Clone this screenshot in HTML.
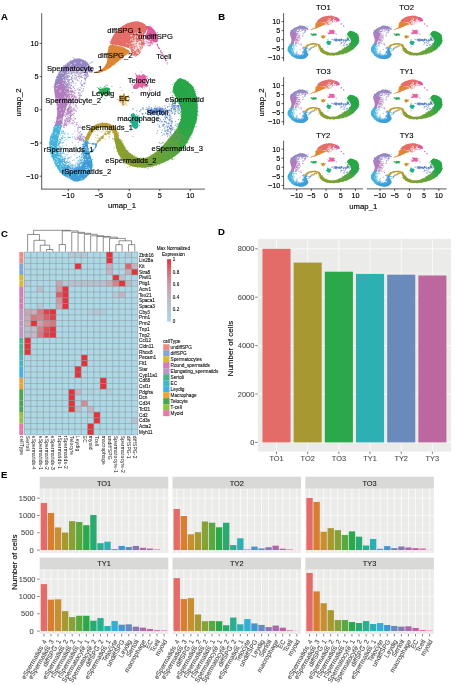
<!DOCTYPE html><html><head><meta charset="utf-8"><title>Figure</title><style>html,body{margin:0;padding:0;background:#fff}svg{display:block}text{stroke-width:.1px}.ab text{stroke:#000;stroke-width:.13px}</style></head><body><svg width="457" height="685" viewBox="0 0 457 685" font-family="Liberation Sans, Arial, Helvetica, sans-serif"><defs><linearGradient id="ag" gradientUnits="userSpaceOnUse" x1="88" y1="0" x2="197" y2="0"><stop offset="0.000" stop-color="#8ea030"/><stop offset="0.239" stop-color="#8ea030"/><stop offset="0.404" stop-color="#88a033"/><stop offset="0.569" stop-color="#76a238"/><stop offset="0.771" stop-color="#5ca63e"/><stop offset="0.899" stop-color="#3ea846"/><stop offset="1.000" stop-color="#2aa84a"/></linearGradient><linearGradient id="agb" gradientUnits="userSpaceOnUse" x1="-19.91" y1="0" x2="32.63" y2="0"><stop offset="0.000" stop-color="#8ea030"/><stop offset="0.239" stop-color="#8ea030"/><stop offset="0.404" stop-color="#88a033"/><stop offset="0.569" stop-color="#76a238"/><stop offset="0.771" stop-color="#5ca63e"/><stop offset="0.899" stop-color="#3ea846"/><stop offset="1.000" stop-color="#2aa84a"/></linearGradient><g id="ump"><path d="M93.0 71.5C93.1 70.5 91.7 68.5 90.5 66.8C89.3 65.1 88.0 62.9 86.0 61.5C84.0 60.1 80.9 58.5 78.3 58.4C75.7 58.3 73.1 59.3 70.6 60.7C68.0 62.1 65.2 64.4 63.0 66.8C60.8 69.2 58.8 72.5 57.5 75.0C56.2 77.5 55.5 79.7 55.0 82.0C54.5 84.3 53.8 88.4 54.3 89.0C54.8 89.6 56.7 87.1 58.0 85.5C59.3 83.9 61.0 81.1 62.0 79.5C63.0 77.9 63.1 77.2 64.0 75.8C64.9 74.4 66.1 72.4 67.5 71.0C68.9 69.6 70.8 68.3 72.5 67.5C74.2 66.7 76.2 66.0 78.0 66.0C79.8 66.0 81.5 66.8 83.0 67.5C84.5 68.2 85.8 69.6 87.0 70.5C88.2 71.4 89.0 72.6 90.0 72.8C91.0 73.0 92.9 72.5 93.0 71.5Z" fill="#9687c3"/><path d="M54.3 88.0C53.8 89.9 54.6 93.3 55.0 96.0C55.4 98.7 56.1 101.3 56.5 104.0C56.9 106.7 57.3 109.3 57.3 112.0C57.3 114.7 56.7 117.5 56.3 120.0C55.9 122.5 54.1 125.8 55.0 127.0C55.9 128.2 60.2 128.5 61.5 127.0C62.8 125.5 62.3 120.8 63.0 118.0C63.7 115.2 64.8 112.5 65.5 110.0C66.2 107.5 67.3 105.3 67.5 103.0C67.7 100.7 67.0 98.5 66.5 96.0C66.0 93.5 65.3 90.5 64.8 88.0C64.3 85.5 63.7 82.6 63.3 81.0C62.9 79.4 63.2 77.9 62.3 78.5C61.4 79.1 59.3 82.9 58.0 84.5C56.7 86.1 54.8 86.1 54.3 88.0Z" fill="#b27dbe"/><path d="M55.2 125.5C53.8 126.4 53.7 129.0 52.8 131.0C51.9 133.0 50.6 135.3 50.0 137.7C49.4 140.1 49.2 142.2 49.4 145.3C49.6 148.4 50.1 152.4 51.3 156.0C52.5 159.6 54.7 163.9 56.5 166.8C58.3 169.7 60.2 173.4 62.0 173.5C63.8 173.6 67.1 169.6 67.0 167.5C66.9 165.4 62.9 163.2 61.5 161.0C60.1 158.8 59.2 156.3 58.5 154.0C57.8 151.7 57.3 149.5 57.3 147.0C57.3 144.5 57.8 141.7 58.3 139.0C58.8 136.3 59.8 133.2 60.3 131.0C60.8 128.8 62.4 126.4 61.5 125.5C60.6 124.6 56.7 124.6 55.2 125.5Z" fill="#45b4dc"/><path d="M62.0 173.5C61.8 175.1 63.5 175.6 66.0 176.9C68.5 178.2 73.5 181.2 76.8 181.4C80.1 181.6 83.6 179.7 86.0 177.8C88.4 175.9 90.3 172.6 91.4 170.0C92.5 167.4 92.6 164.8 92.4 162.5C92.2 160.2 91.2 158.2 90.5 156.0C89.8 153.8 89.0 151.2 88.5 149.0C88.0 146.8 87.9 144.8 87.8 143.0C87.7 141.2 88.4 139.0 88.0 138.5C87.6 138.0 85.9 139.1 85.3 140.0C84.7 140.9 84.8 142.3 84.6 144.0C84.3 145.7 83.8 147.7 83.8 150.0C83.8 152.3 84.6 155.7 84.3 158.0C84.0 160.3 83.0 162.3 82.0 164.0C81.0 165.7 79.7 166.8 78.0 168.0C76.3 169.2 73.8 171.1 72.0 171.0C70.2 170.9 68.7 167.1 67.0 167.5C65.3 167.9 62.2 171.9 62.0 173.5Z" fill="#3f9fd8"/><path d="M84.9 141.0C84.5 140.4 85.3 138.7 86.0 136.9C86.7 135.1 87.8 132.3 89.3 130.3C90.8 128.3 93.0 126.1 95.3 124.8C97.6 123.5 100.6 122.9 103.0 122.7C105.4 122.5 107.5 123.0 109.5 123.8C111.5 124.6 113.6 126.1 115.0 127.6C116.4 129.0 117.1 130.8 117.7 132.5C118.3 134.2 119.1 137.0 118.6 138.0C118.1 139.0 115.5 139.3 114.6 138.5C113.7 137.7 114.2 134.6 113.4 133.0C112.6 131.4 111.4 130.1 110.0 129.2C108.6 128.2 107.0 127.5 105.2 127.3C103.5 127.1 101.4 127.3 99.5 127.9C97.6 128.5 95.3 129.5 93.8 130.8C92.3 132.1 91.5 134.2 90.6 135.8C89.7 137.4 89.2 139.6 88.3 140.5C87.3 141.4 85.3 141.6 84.9 141.0Z" fill="#b79f38"/><path d="M118.6 138.0C120.0 138.8 121.1 140.9 122.5 143.0C123.9 145.1 124.9 148.3 127.1 150.6C129.3 152.9 132.8 155.5 135.5 156.8C138.2 158.1 141.0 158.5 143.5 158.3C146.0 158.1 148.1 157.1 150.5 155.8C152.9 154.5 155.8 152.2 158.0 150.3C160.2 148.4 162.1 146.4 164.0 144.3C165.9 142.2 167.8 139.8 169.5 137.8C171.2 135.8 172.5 134.5 174.0 132.5C175.5 130.5 177.1 128.2 178.3 126.0C179.5 123.8 180.5 121.9 181.0 119.2C181.5 116.5 181.7 112.9 181.3 110.0C180.9 107.1 179.5 104.3 178.5 102.0C177.5 99.7 176.4 98.0 175.5 96.0C174.6 94.0 173.2 91.7 172.9 89.9C172.7 88.1 173.4 86.5 174.0 85.0C174.6 83.5 175.5 82.1 176.5 81.0C177.5 79.9 178.2 78.5 179.8 78.4C181.4 78.4 183.9 79.4 185.9 80.7C187.9 82.0 190.4 83.6 192.1 86.0C193.8 88.4 195.0 91.9 195.9 95.2C196.8 98.5 197.3 102.1 197.4 105.9C197.5 109.7 197.2 114.7 196.7 118.2C196.2 121.7 195.2 124.3 194.3 127.0C193.4 129.7 193.0 131.2 191.3 134.5C189.7 137.8 187.1 143.2 184.4 146.8C181.7 150.4 178.8 153.3 175.2 156.0C171.6 158.7 167.1 161.0 163.0 162.8C158.9 164.6 154.5 165.9 150.7 166.7C146.9 167.5 143.6 167.8 140.1 167.6C136.6 167.3 132.6 166.8 129.4 165.2C126.2 163.6 123.2 161.0 121.0 158.3C118.8 155.6 117.3 151.5 116.4 149.1C115.5 146.7 115.8 145.8 115.4 144.0C115.0 142.2 113.7 139.5 114.2 138.5C114.7 137.5 117.2 137.2 118.6 138.0Z" fill="url(#ag)"/><path d="M178.3 126.0C178.3 123.8 180.5 121.9 181.0 119.2C181.5 116.5 181.7 112.9 181.3 110.0C180.9 107.1 179.5 104.3 178.5 102.0C177.5 99.7 176.4 98.0 175.5 96.0C174.6 94.0 173.2 91.7 172.9 89.9C172.7 88.1 173.4 86.5 174.0 85.0C174.6 83.5 175.5 82.1 176.5 81.0C177.5 79.9 178.2 78.5 179.8 78.4C181.4 78.4 183.9 79.4 185.9 80.7C187.9 82.0 190.4 83.6 192.1 86.0C193.8 88.4 195.0 91.9 195.9 95.2C196.8 98.5 197.3 102.1 197.4 105.9C197.5 109.7 197.2 114.7 196.7 118.2C196.2 121.7 195.2 124.4 194.3 127.0C193.4 129.6 192.8 132.4 191.5 134.0C190.2 135.6 188.2 136.8 186.5 136.5C184.8 136.2 182.4 134.2 181.0 132.5C179.6 130.8 178.3 128.2 178.3 126.0Z" fill="#2aa84a"/><path d="M110.7 43.8C109.7 42.3 111.5 38.7 112.8 36.3C114.1 33.9 116.1 31.3 118.5 29.2C120.9 27.1 123.9 24.8 127.0 23.5C130.1 22.2 134.0 21.3 137.0 21.4C140.0 21.5 143.1 23.0 144.8 24.2C146.5 25.4 147.4 26.5 147.2 28.5C147.0 30.5 144.0 34.0 143.5 36.3C143.0 38.5 144.4 40.1 144.3 42.0C144.2 43.9 143.4 45.8 142.7 47.7C141.9 49.6 141.0 51.9 139.8 53.4C138.6 54.9 136.9 56.4 135.6 56.5C134.3 56.6 132.8 55.3 132.0 54.1C131.2 52.9 131.4 50.6 130.6 49.5C129.8 48.4 128.9 48.2 127.0 47.5C125.1 46.8 121.7 46.1 119.0 45.5C116.3 44.9 111.7 45.3 110.7 43.8Z" fill="#e66e68"/><path d="M110.0 45.0C111.5 44.1 114.9 45.4 117.0 45.8C119.1 46.2 121.1 46.7 122.8 47.3C124.5 47.9 125.9 48.6 127.0 49.3C128.1 50.0 129.3 50.7 129.6 51.3C129.8 51.9 129.2 52.3 128.5 53.0C127.8 53.7 126.9 54.2 125.5 55.3C124.1 56.4 121.7 58.3 120.0 59.7C118.3 61.1 117.0 62.3 115.6 63.5C114.1 64.7 112.8 65.8 111.3 66.8C109.8 67.8 108.4 68.7 106.9 69.5C105.4 70.3 104.0 71.1 102.5 71.7C101.0 72.3 99.4 72.7 98.1 72.9C96.8 73.1 95.1 73.1 94.5 72.9C93.9 72.8 93.9 72.3 94.5 72.0C95.1 71.7 96.9 71.5 98.1 71.1C99.2 70.7 100.3 70.2 101.4 69.4C102.5 68.6 103.8 67.5 104.7 66.3C105.6 65.0 106.5 63.5 106.9 61.9C107.4 60.2 107.2 58.2 107.4 56.4C107.6 54.6 107.6 52.8 108.0 50.9C108.4 49.0 108.5 45.9 110.0 45.0Z" fill="#df8736"/><path d="M145.7 27.0C146.1 26.3 148.3 25.6 149.8 26.2C151.3 26.8 153.5 28.7 154.8 30.6C156.1 32.5 157.3 35.9 157.7 37.8C158.1 39.7 158.1 41.6 157.0 42.2C155.9 42.8 152.8 41.5 151.0 41.2C149.2 40.9 147.4 41.4 146.5 40.5C145.6 39.6 145.1 37.7 145.3 36.0C145.5 34.3 147.4 32.0 147.5 30.5C147.6 29.0 145.3 27.7 145.7 27.0Z" fill="#e0589c"/><path d="M135.3 72.8C135.6 72.7 136.8 75.2 137.5 75.5C138.2 75.8 138.9 74.4 139.5 74.5C140.1 74.6 140.4 76.1 141.0 76.0C141.6 75.9 142.2 74.1 143.0 74.0C143.8 73.9 144.9 74.7 145.5 75.5C146.1 76.3 146.5 77.8 146.5 79.0C146.5 80.2 145.2 81.9 145.5 83.0C145.8 84.1 148.4 85.1 148.5 85.8C148.6 86.5 146.8 87.0 146.0 87.0C145.2 87.0 144.1 85.8 143.5 86.0C142.9 86.2 143.1 88.3 142.5 88.5C141.9 88.7 140.9 86.9 140.0 87.0C139.1 87.1 138.1 88.8 137.0 89.0C135.9 89.2 133.8 89.1 133.2 88.5C132.6 87.9 133.0 86.4 133.5 85.5C134.0 84.6 135.4 84.0 136.0 83.0C136.6 82.0 137.0 80.7 137.0 79.5C137.0 78.3 136.3 77.1 136.0 76.0C135.7 74.9 135.1 72.9 135.3 72.8Z" fill="#e264a6"/><path d="M96.5 86.8C96.6 86.5 98.9 88.7 100.0 89.0C101.1 89.3 101.8 88.8 103.0 88.5C104.2 88.2 105.8 87.4 107.0 87.5C108.2 87.6 110.1 88.2 110.3 89.0C110.5 89.8 108.2 91.0 108.0 92.0C107.8 93.0 109.5 94.7 109.0 95.0C108.5 95.3 106.2 93.8 105.0 94.0C103.8 94.2 102.8 96.2 102.0 96.0C101.2 95.8 101.2 93.6 100.5 93.0C99.8 92.4 97.7 92.9 97.5 92.5C97.3 92.1 99.7 91.5 99.5 90.5C99.3 89.5 96.4 87.0 96.5 86.8Z" fill="#26a855"/><path d="M119.5 94.0C119.7 93.7 121.2 96.7 122.0 96.5C122.8 96.3 123.4 93.0 124.0 93.0C124.6 93.0 124.6 96.2 125.5 96.5C126.4 96.8 129.2 94.6 129.4 95.0C129.6 95.4 126.7 97.8 126.5 99.0C126.3 100.2 128.3 101.7 128.0 102.0C127.7 102.3 125.3 100.2 124.5 101.0C123.7 101.8 123.5 106.6 123.0 106.7C122.5 106.8 122.1 102.3 121.5 101.5C120.9 100.7 119.6 102.5 119.5 102.0C119.4 101.5 121.0 99.8 121.0 98.5C121.0 97.2 119.3 94.3 119.5 94.0Z" fill="#c8912c"/><path d="M131.0 114.5C131.4 113.8 133.2 113.3 134.0 113.6C134.8 113.8 135.2 115.4 136.0 116.0C136.8 116.6 138.3 116.3 139.0 117.0C139.7 117.7 140.3 119.1 140.1 120.0C139.9 120.9 138.3 121.5 138.0 122.5C137.7 123.5 138.8 124.9 138.5 126.0C138.2 127.1 136.9 128.8 136.0 129.0C135.1 129.2 133.8 128.3 133.0 127.5C132.2 126.7 132.1 125.1 131.5 124.0C130.9 122.9 129.4 122.0 129.4 121.0C129.4 120.0 131.2 119.1 131.5 118.0C131.8 116.9 130.6 115.2 131.0 114.5Z" fill="#22b08e"/></g><g id="umda" stroke-width=".75" stroke-linecap="square" fill="none"><path d="M84.2 65.4h.01M65.4 66.4h.01M65.4 71.1h.01M77.1 59.1h.01M74.3 67.6h.01M81.3 64.0h.01M86.1 63.9h.01M57.0 76.1h.01M81.5 63.1h.01M71.7 66.3h.01M70.9 60.6h.01M77.2 62.6h.01M75.0 64.0h.01M69.9 65.0h.01M54.4 84.6h.01M89.1 70.4h.01M86.1 63.5h.01M82.0 65.3h.01M62.1 68.7h.01M66.6 66.8h.01M90.9 71.2h.01M67.3 70.4h.01M79.6 64.0h.01M82.3 62.0h.01M63.8 65.5h.01M61.1 76.4h.01M61.1 80.2h.01M76.6 64.0h.01M76.1 59.7h.01M67.0 67.8h.01M59.1 77.8h.01M84.3 69.0h.01M59.9 81.5h.01M89.1 63.9h.01M78.7 61.2h.01M78.8 64.7h.01M68.3 66.3h.01M59.5 78.8h.01M86.0 67.2h.01M57.4 80.1h.01M57.3 82.7h.01M89.6 66.4h.01M78.1 64.0h.01M57.5 80.3h.01M82.9 65.1h.01M64.5 75.6h.01M78.9 64.1h.01M55.3 84.7h.01M90.5 70.5h.01M59.0 81.1h.01M84.5 64.0h.01M83.8 61.6h.01M67.1 68.4h.01M63.4 72.3h.01M61.6 79.4h.01M64.3 73.5h.01M87.1 64.2h.01M62.5 73.8h.01M76.6 59.4h.01M63.1 71.6h.01M84.2 64.4h.01M62.3 74.8h.01M90.6 71.0h.01M84.0 68.2h.01M80.0 65.5h.01M57.1 81.2h.01M54.9 88.3h.01M83.6 60.2h.01M75.2 59.6h.01M78.4 66.2h.01M62.4 71.4h.01M70.6 63.9h.01M65.6 67.2h.01M69.2 66.3h.01M81.4 60.8h.01M87.6 67.9h.01M73.0 65.1h.01M61.7 68.3h.01M56.0 79.8h.01M57.2 78.6h.01M64.7 73.3h.01M64.1 67.1h.01M81.3 63.8h.01M63.2 72.4h.01M73.0 63.0h.01M71.6 63.6h.01M60.7 77.3h.01M86.3 63.4h.01M79.8 59.1h.01M84.3 65.2h.01M55.2 83.3h.01M66.3 74.0h.01M90.0 67.2h.01M81.7 60.5h.01M85.9 61.5h.01M75.2 59.3h.01M54.6 87.8h.01M82.0 64.3h.01M82.5 65.9h.01M71.4 67.8h.01M73.7 65.5h.01M74.0 61.6h.01M57.5 77.9h.01M70.2 63.0h.01M57.5 76.0h.01M75.8 64.6h.01M60.0 75.8h.01M85.4 61.0h.01M69.8 66.7h.01M57.0 84.0h.01M62.3 72.9h.01M62.0 74.7h.01M70.2 63.5h.01M83.6 62.3h.01M86.2 67.4h.01M87.6 62.8h.01M73.3 63.4h.01M58.1 71.9h.01M64.5 70.8h.01M81.5 60.9h.01M90.3 69.4h.01M90.7 70.4h.01M65.6 67.7h.01M77.1 63.1h.01M82.1 60.5h.01M56.2 87.2h.01M71.2 64.7h.01M79.1 62.2h.01M67.9 68.9h.01M58.1 82.9h.01M79.1 61.5h.01M53.2 86.7h.01M69.9 67.1h.01M71.2 63.9h.01M68.0 67.4h.01M75.3 65.3h.01M81.0 65.8h.01M74.3 58.5h.01M68.9 68.9h.01M78.0 59.8h.01M85.8 65.1h.01M60.5 75.2h.01M58.7 84.7h.01M71.1 64.6h.01M90.1 66.4h.01M88.5 71.0h.01M79.9 60.0h.01M59.9 83.0h.01M59.0 75.3h.01M86.5 69.4h.01M73.6 61.5h.01M82.6 67.1h.01M84.1 64.2h.01M61.8 68.9h.01M60.0 73.4h.01M84.8 61.7h.01M82.0 63.4h.01M64.5 67.8h.01M62.2 69.4h.01M66.7 71.6h.01M59.6 83.4h.01M58.4 82.3h.01M88.0 67.8h.01M72.2 61.9h.01M73.4 67.1h.01M61.5 72.9h.01M90.9 70.6h.01M57.7 80.9h.01M84.0 62.0h.01M82.6 61.7h.01M69.2 68.1h.01M73.3 57.7h.01M75.6 60.5h.01M57.7 80.8h.01M85.5 63.8h.01M74.0 66.5h.01M71.0 68.2h.01M89.5 68.4h.01M64.7 73.9h.01M80.0 64.9h.01M56.2 81.5h.01M56.6 80.1h.01M70.4 65.5h.01M58.0 75.5h.01M83.2 66.2h.01M62.8 70.8h.01M56.5 77.7h.01M89.6 70.1h.01M58.5 77.0h.01M73.7 62.1h.01M63.6 75.7h.01M81.6 69.3h.01M82.4 70.7h.01M73.3 70.3h.01M77.3 66.7h.01M80.0 70.2h.01M87.3 72.2h.01M64.3 73.5h.01M68.0 68.8h.01M70.0 68.3h.01M63.8 73.8h.01M77.2 72.0h.01M72.5 81.0h.01M72.4 81.2h.01M78.8 80.9h.01M86.6 73.3h.01M70.7 71.3h.01M79.4 89.5h.01M72.4 67.8h.01M66.5 78.7h.01M63.2 77.6h.01M69.0 83.2h.01M72.6 68.2h.01M67.9 77.0h.01M76.4 68.2h.01M62.3 80.1h.01M78.9 76.4h.01M81.5 66.8h.01M79.1 75.6h.01M83.2 66.7h.01M66.0 72.6h.01M88.9 71.6h.01M67.3 76.0h.01M78.7 71.9h.01M73.9 70.7h.01M68.6 81.0h.01M81.6 85.0h.01M74.2 79.0h.01M76.1 77.1h.01M66.3 75.1h.01M63.3 76.0h.01M82.4 66.8h.01M79.4 70.5h.01M79.7 65.6h.01M79.8 65.5h.01M63.4 77.9h.01M67.6 84.3h.01M74.4 68.8h.01M85.2 83.1h.01M85.7 70.3h.01M80.5 90.1h.01M86.9 76.3h.01M71.3 88.3h.01M76.5 67.3h.01M71.5 67.7h.01M84.9 69.5h.01M74.9 74.4h.01M68.9 82.5h.01M70.6 86.0h.01M84.7 69.7h.01M72.8 67.3h.01M80.3 68.3h.01M81.4 81.3h.01M70.9 71.7h.01M80.5 68.3h.01M84.8 72.3h.01M70.0 86.8h.01M87.0 76.5h.01M84.8 69.7h.01M84.0 86.5h.01M63.2 78.1h.01M82.1 72.5h.01M73.3 81.2h.01M83.1 69.4h.01M82.9 65.7h.01M74.0 67.3h.01M75.3 68.1h.01M69.2 72.1h.01M83.2 66.0h.01M63.5 77.8h.01M67.7 80.2h.01M77.2 66.2h.01M78.4 67.2h.01M67.5 84.0h.01M72.8 78.3h.01M84.0 70.1h.01M73.4 83.2h.01M78.8 90.4h.01M74.4 71.1h.01M81.4 80.5h.01M74.6 69.4h.01M82.3 71.1h.01M68.3 71.0h.01M74.5 88.7h.01M69.7 69.7h.01M64.8 77.9h.01M68.8 84.1h.01M76.6 65.3h.01M87.8 74.9h.01M62.7 77.0h.01M75.8 72.2h.01M83.4 83.3h.01M77.9 70.0h.01M78.1 67.7h.01M70.5 69.3h.01M74.6 74.1h.01M83.0 72.7h.01M82.2 77.5h.01M82.3 67.4h.01M74.8 68.1h.01M78.8 67.0h.01M81.8 66.1h.01M73.0 82.1h.01M71.1 84.9h.01M77.1 69.6h.01M66.6 73.3h.01M81.3 73.0h.01M83.3 90.7h.01M72.4 67.8h.01M82.3 91.4h.01M62.4 79.9h.01M88.5 75.9h.01M85.5 72.1h.01M67.9 73.6h.01M84.5 77.1h.01M65.0 79.0h.01M65.2 74.7h.01M64.7 75.2h.01M79.0 67.3h.01M80.3 83.7h.01M86.6 72.3h.01M70.7 76.3h.01M82.7 67.3h.01M62.7 78.1h.01M68.3 73.7h.01M71.8 72.4h.01M80.1 69.6h.01M66.6 79.5h.01M67.6 73.3h.01M64.4 80.0h.01M65.1 76.1h.01M78.1 88.3h.01M64.8 77.5h.01M85.1 69.5h.01M69.5 80.2h.01M78.9 66.5h.01M84.3 71.9h.01M68.8 73.3h.01M64.0 81.0h.01M69.5 83.7h.01M65.4 79.4h.01M76.6 67.8h.01M63.4 77.5h.01M67.2 78.5h.01M80.7 76.5h.01M80.4 70.4h.01M67.4 81.4h.01M76.1 69.6h.01M73.2 87.1h.01M67.1 75.6h.01M78.9 73.8h.01M80.4 69.8h.01M67.1 77.3h.01M81.5 84.9h.01M71.7 82.6h.01M66.1 72.2h.01M81.8 73.9h.01M71.7 73.1h.01M67.7 77.0h.01M77.9 65.8h.01M87.2 74.5h.01M79.1 67.6h.01M77.2 72.7h.01M76.5 70.7h.01M71.9 74.1h.01M81.8 77.1h.01M81.1 67.2h.01M62.5 77.8h.01M71.4 73.5h.01M68.0 70.6h.01M66.4 77.3h.01M71.6 78.0h.01M80.2 68.5h.01M82.0 67.0h.01M65.0 71.3h.01M78.4 76.8h.01M63.7 75.2h.01M72.2 69.1h.01M87.2 74.7h.01M65.1 81.4h.01M78.4 70.0h.01M71.7 79.9h.01M64.6 76.9h.01M63.8 77.7h.01M83.8 74.9h.01M81.5 85.6h.01M77.0 68.5h.01M86.0 71.1h.01M69.3 76.1h.01M74.6 66.4h.01M80.3 67.1h.01M79.8 69.8h.01M75.6 69.7h.01M77.5 67.5h.01M77.9 66.1h.01M85.7 75.6h.01M72.7 69.8h.01M72.8 81.2h.01M72.3 76.8h.01M78.0 66.9h.01M78.0 68.3h.01M63.8 79.0h.01M76.5 77.2h.01M66.7 71.4h.01M86.1 78.3h.01M83.8 69.1h.01M73.4 67.8h.01M65.2 73.1h.01M83.5 88.5h.01M84.4 69.1h.01M83.5 72.1h.01M68.4 70.4h.01M75.8 83.4h.01M68.7 85.6h.01M65.0 74.6h.01M86.8 72.6h.01M87.1 72.7h.01M64.7 78.6h.01M73.7 71.9h.01M82.8 67.5h.01M76.1 75.5h.01M78.4 66.9h.01M86.2 75.5h.01M81.3 95.7h.01M81.7 88.4h.01M71.7 78.3h.01M87.5 72.9h.01M85.2 77.0h.01M63.3 77.9h.01M79.9 69.4h.01M69.5 69.6h.01M80.3 68.4h.01M84.6 83.9h.01M83.3 75.5h.01M68.5 82.1h.01M84.6 68.0h.01M76.0 66.0h.01M82.1 68.9h.01M64.6 73.2h.01M68.7 81.5h.01M70.9 72.2h.01M86.0 74.7h.01M69.2 76.0h.01M64.2 78.8h.01M84.7 79.2h.01M78.2 76.6h.01M76.4 72.9h.01M84.1 69.7h.01M77.4 80.5h.01M65.4 77.3h.01M78.6 66.4h.01M82.5 84.4h.01M67.6 75.7h.01M76.6 67.5h.01M82.3 70.2h.01M79.1 68.7h.01M73.4 72.2h.01M66.6 82.3h.01M76.3 78.3h.01M81.0 70.5h.01M66.0 82.1h.01M71.2 85.4h.01M80.0 68.1h.01M82.5 69.7h.01M87.2 72.0h.01M64.6 81.8h.01M63.8 75.8h.01M68.5 72.4h.01M82.6 72.0h.01M69.2 80.2h.01M81.3 92.2h.01M86.4 77.3h.01M68.1 73.3h.01M71.3 85.3h.01M70.8 71.4h.01M82.6 69.4h.01M63.9 78.7h.01M65.6 73.9h.01M77.3 69.8h.01M69.7 73.6h.01M82.0 85.6h.01M84.8 82.4h.01M70.5 71.4h.01M76.4 71.5h.01M86.9 73.1h.01M78.3 69.6h.01M82.3 85.8h.01M72.5 71.8h.01M73.4 86.3h.01M83.7 72.4h.01M85.2 74.9h.01M72.3 69.8h.01M74.8 66.4h.01M80.6 67.6h.01M74.3 72.3h.01M77.1 79.5h.01M79.5 76.6h.01M80.8 66.4h.01M70.0 79.4h.01M64.1 79.3h.01M84.4 68.4h.01M73.3 67.3h.01M78.8 92.6h.01M71.9 69.7h.01M65.0 73.9h.01M85.9 70.0h.01M73.9 70.5h.01M84.4 78.5h.01M85.5 78.6h.01M71.9 69.3h.01M87.9 76.1h.01M74.3 69.1h.01M87.1 71.1h.01M76.7 66.4h.01M75.3 79.0h.01M84.7 83.8h.01M66.1 77.5h.01M65.1 77.3h.01M74.8 77.7h.01M79.4 78.4h.01M72.3 67.4h.01M66.8 84.2h.01M86.9 77.4h.01M80.5 66.2h.01M84.5 69.7h.01M75.5 75.5h.01M67.6 83.7h.01M75.0 90.6h.01M80.9 82.9h.01M68.4 79.2h.01M75.0 66.8h.01M78.0 74.0h.01M78.0 70.9h.01M75.6 67.9h.01M67.1 76.3h.01M78.9 66.2h.01M74.0 76.2h.01M71.8 79.6h.01M79.3 66.1h.01M82.9 69.3h.01M82.5 68.0h.01M80.1 87.4h.01M85.4 79.3h.01M79.0 92.7h.01M80.1 70.1h.01M68.6 72.0h.01M79.3 95.2h.01M63.2 76.6h.01M68.9 79.9h.01M86.7 70.6h.01M80.6 71.8h.01M85.7 71.5h.01M82.9 67.9h.01M78.5 68.8h.01M75.5 68.6h.01M62.9 78.4h.01M84.0 71.0h.01M68.3 70.9h.01M86.5 72.5h.01M76.2 70.1h.01M85.1 70.4h.01M67.3 70.4h.01M81.6 71.0h.01M84.5 72.4h.01M65.0 82.5h.01M85.3 70.1h.01M72.3 73.1h.01M87.5 73.6h.01M67.7 70.6h.01M80.4 66.6h.01M74.0 68.0h.01M74.1 70.0h.01M73.3 87.3h.01M69.8 84.8h.01M70.8 79.5h.01M75.2 85.3h.01M70.4 69.4h.01M80.6 77.1h.01M83.1 68.3h.01M72.6 75.4h.01M75.7 66.3h.01M77.4 89.7h.01M71.5 77.6h.01M80.4 73.8h.01M79.3 90.1h.01M78.9 93.3h.01M77.0 72.3h.01M64.7 78.0h.01M79.2 67.2h.01M72.2 70.3h.01M66.9 76.4h.01M81.2 72.6h.01M85.9 69.9h.01M81.9 68.9h.01M68.6 84.1h.01M64.3 75.8h.01M84.7 69.1h.01M66.9 74.9h.01M77.3 72.7h.01M65.2 80.4h.01M66.6 70.2h.01M80.2 94.0h.01M85.2 72.7h.01M68.4 77.6h.01M66.2 72.5h.01M71.2 82.9h.01M78.2 74.8h.01M65.8 73.4h.01M85.6 80.4h.01M80.9 95.3h.01M63.7 76.7h.01M65.5 81.2h.01M80.0 73.7h.01M67.6 79.5h.01M85.1 75.1h.01M68.1 84.7h.01M83.2 69.9h.01M76.8 70.2h.01M85.5 72.9h.01M71.0 68.3h.01M73.9 72.5h.01M79.3 72.4h.01M79.9 74.0h.01M77.0 67.0h.01M84.5 74.5h.01M78.4 66.0h.01M75.1 90.7h.01M81.4 77.0h.01M62.8 78.0h.01M81.0 68.8h.01M79.5 65.5h.01M77.4 66.2h.01M78.2 65.3h.01M77.6 70.8h.01M83.5 66.7h.01M72.0 88.9h.01M85.7 75.6h.01M71.3 68.2h.01M80.9 69.9h.01M70.0 82.4h.01M74.0 69.1h.01M79.0 67.0h.01M64.5 78.8h.01M80.9 75.7h.01M85.7 69.6h.01M76.0 73.1h.01M67.5 71.0h.01M69.0 76.2h.01M80.7 73.4h.01M85.2 74.4h.01M65.3 76.4h.01M69.8 71.0h.01M77.1 72.0h.01M72.8 68.4h.01M80.1 95.4h.01M65.2 74.1h.01M85.4 71.9h.01M64.5 74.5h.01" stroke="#9687c3"/><path d="M66.4 101.0h.01M54.6 122.4h.01M58.0 87.7h.01M61.5 106.6h.01M65.2 94.9h.01M62.8 85.3h.01M60.7 82.8h.01M57.9 94.9h.01M63.5 113.3h.01M64.4 110.7h.01M60.8 114.1h.01M55.4 88.8h.01M64.0 87.6h.01M62.3 91.0h.01M59.4 120.7h.01M64.0 100.7h.01M56.5 117.9h.01M63.4 100.2h.01M67.3 104.7h.01M62.8 80.8h.01M61.4 123.6h.01M60.4 119.3h.01M58.7 94.3h.01M57.4 88.2h.01M60.8 87.4h.01M58.4 87.4h.01M57.4 112.1h.01M62.8 90.3h.01M62.9 93.9h.01M57.1 100.8h.01M65.5 105.4h.01M65.5 109.6h.01M61.4 103.8h.01M62.5 102.1h.01M63.7 86.9h.01M58.1 122.1h.01M60.7 118.9h.01M63.0 92.8h.01M65.6 102.2h.01M56.9 109.4h.01M59.3 100.2h.01M62.0 125.9h.01M59.3 99.3h.01M57.7 91.9h.01M61.5 99.8h.01M63.1 109.3h.01M66.1 96.9h.01M58.7 100.7h.01M63.0 82.6h.01M62.5 83.1h.01M57.6 86.4h.01M61.1 99.8h.01M60.9 115.7h.01M63.6 106.9h.01M61.7 107.2h.01M60.5 119.0h.01M57.4 108.4h.01M55.4 88.5h.01M58.9 90.1h.01M65.8 94.5h.01M60.1 118.9h.01M61.9 81.1h.01M56.0 90.6h.01M62.6 102.6h.01M57.8 105.5h.01M63.8 81.9h.01M57.5 93.9h.01M58.6 89.0h.01M63.8 89.2h.01M60.1 103.6h.01M60.7 81.4h.01M59.4 97.4h.01M59.7 97.3h.01M60.0 114.4h.01M58.8 85.9h.01M60.7 127.1h.01M63.2 108.3h.01M60.4 108.5h.01M59.2 97.2h.01M57.6 115.8h.01M60.3 87.7h.01M60.6 98.9h.01M57.7 97.0h.01M61.1 81.0h.01M61.1 113.2h.01M60.3 88.4h.01M58.9 96.7h.01M67.5 104.7h.01M61.0 118.3h.01M60.0 85.5h.01M60.4 82.1h.01M63.0 110.5h.01M59.9 87.2h.01M57.8 95.1h.01M61.1 96.2h.01M64.2 114.6h.01M60.0 92.4h.01M63.3 101.4h.01M57.1 122.5h.01M60.6 111.9h.01M62.8 81.9h.01M61.8 90.0h.01M60.4 98.2h.01M62.2 86.2h.01M59.5 121.6h.01M54.7 125.7h.01M65.6 83.9h.01M66.0 91.9h.01M68.2 120.1h.01M75.1 93.3h.01M72.0 96.2h.01M74.1 100.2h.01M68.8 87.4h.01M68.6 91.6h.01M64.9 91.8h.01M68.0 124.0h.01M70.1 87.5h.01M79.6 97.7h.01M70.9 102.8h.01M66.2 114.3h.01M70.8 100.1h.01M69.2 96.2h.01M72.2 95.8h.01M76.3 103.7h.01M69.5 98.6h.01M63.1 88.0h.01M65.1 88.7h.01M72.0 111.1h.01M72.8 111.7h.01M74.5 113.3h.01M64.5 123.2h.01M66.8 94.2h.01M73.5 97.2h.01M63.7 91.1h.01M74.4 108.3h.01M74.4 93.2h.01M63.7 92.3h.01M67.5 109.7h.01M67.8 110.8h.01M78.4 99.3h.01M72.0 108.7h.01M66.6 122.5h.01M74.1 110.7h.01M64.8 90.4h.01M70.6 94.3h.01M67.9 114.6h.01M66.5 86.2h.01M73.0 102.6h.01M66.9 88.9h.01M70.0 102.2h.01M69.4 96.1h.01M75.0 99.1h.01M65.3 93.7h.01M73.2 103.7h.01M70.1 120.6h.01M65.4 92.6h.01M70.8 110.6h.01M71.9 109.5h.01M72.2 100.3h.01M67.8 118.1h.01M74.7 92.9h.01M68.5 92.4h.01M68.1 91.9h.01M70.3 103.0h.01M67.2 113.2h.01M64.5 86.1h.01M62.7 80.8h.01M75.8 96.4h.01M66.2 85.1h.01M69.6 94.7h.01M67.3 92.4h.01M66.6 124.8h.01M65.1 115.7h.01M73.7 102.6h.01M72.5 114.8h.01M65.9 93.7h.01M71.3 115.6h.01M66.6 87.8h.01M73.6 115.7h.01M69.7 105.3h.01M68.9 111.5h.01M70.6 108.2h.01M67.4 87.6h.01M72.0 91.4h.01M64.8 86.7h.01M69.7 117.8h.01M62.2 81.3h.01M69.9 108.3h.01M68.5 94.8h.01M64.3 124.2h.01M77.5 100.9h.01M71.9 90.7h.01M65.6 112.7h.01M72.5 96.4h.01M69.0 108.1h.01M72.1 94.8h.01M67.9 86.6h.01M69.9 100.3h.01M66.9 119.9h.01M70.6 92.3h.01M67.9 109.6h.01M66.7 90.6h.01M78.0 99.7h.01M64.2 124.3h.01M68.6 87.9h.01M61.6 83.7h.01M69.1 102.4h.01M69.6 98.2h.01M67.1 120.4h.01M68.2 110.1h.01M73.1 99.4h.01M72.3 92.3h.01M76.1 102.5h.01M65.2 93.5h.01M63.4 85.1h.01M71.5 107.4h.01M68.9 94.8h.01M62.7 84.1h.01M70.8 101.4h.01M66.7 113.7h.01M66.1 90.6h.01M70.9 95.9h.01M71.6 93.2h.01M75.8 100.5h.01M67.5 90.8h.01M69.4 115.5h.01M73.4 94.7h.01M64.5 89.1h.01M68.9 106.2h.01M65.4 84.3h.01M69.3 102.1h.01M65.9 94.1h.01M75.6 100.0h.01M70.0 115.2h.01M71.0 115.2h.01M70.5 100.0h.01M67.2 89.9h.01M70.5 106.8h.01M67.3 85.2h.01M65.7 90.6h.01M71.6 91.3h.01M67.4 111.8h.01M69.1 87.8h.01M64.0 86.1h.01M66.5 125.9h.01M64.7 86.2h.01M70.7 117.9h.01M66.1 87.3h.01M67.7 85.6h.01M68.9 107.9h.01M61.7 81.8h.01M70.7 100.1h.01M68.3 112.7h.01M68.2 121.6h.01M71.5 97.7h.01M70.1 90.7h.01M63.8 125.4h.01M65.1 120.2h.01M71.5 111.8h.01M74.3 96.9h.01M70.1 113.2h.01M73.5 92.2h.01M63.5 84.3h.01M76.3 107.0h.01M64.2 90.0h.01M67.7 95.7h.01M64.4 91.0h.01M66.7 96.0h.01M66.9 125.3h.01M75.3 104.7h.01M66.5 118.3h.01M72.0 109.9h.01M67.2 94.6h.01M71.2 94.5h.01M69.0 106.4h.01M68.8 102.5h.01M70.8 113.5h.01M66.2 83.9h.01M67.9 116.2h.01M71.3 100.5h.01M71.9 110.9h.01M69.9 121.1h.01M70.8 116.3h.01M66.1 91.8h.01M70.9 101.9h.01M67.7 91.8h.01M69.3 93.4h.01M71.9 96.3h.01M69.0 96.0h.01M65.8 123.4h.01M65.9 87.0h.01M70.6 112.1h.01M69.6 120.9h.01M63.6 126.8h.01M65.5 93.8h.01M67.7 91.0h.01M73.1 104.9h.01M69.2 93.6h.01M70.8 110.9h.01M70.7 91.4h.01M68.9 94.7h.01M71.0 115.2h.01M66.1 91.7h.01M70.8 115.4h.01M65.5 121.5h.01M77.5 108.2h.01M62.2 85.3h.01M68.9 98.8h.01M70.3 88.7h.01M64.6 89.0h.01M63.6 84.3h.01M67.3 86.4h.01M63.2 86.4h.01M65.1 83.0h.01M64.2 82.8h.01M73.3 109.1h.01M73.6 97.5h.01M65.3 92.4h.01M64.0 86.0h.01M63.5 86.9h.01M72.5 90.8h.01M68.6 101.2h.01M73.7 102.9h.01M62.9 88.5h.01M65.5 96.6h.01M73.5 108.0h.01M67.6 96.2h.01M74.8 109.7h.01M69.2 91.9h.01M68.0 97.6h.01M66.0 123.4h.01M65.1 124.7h.01M68.8 88.8h.01M76.1 110.3h.01M73.5 113.2h.01M65.0 92.5h.01M68.0 89.8h.01M67.6 96.1h.01M69.9 96.1h.01M70.3 116.8h.01M67.8 96.0h.01M68.2 111.6h.01M64.7 88.7h.01M63.3 88.1h.01M66.1 121.0h.01M76.4 98.8h.01M73.1 95.9h.01M63.6 89.6h.01M67.9 103.3h.01M65.7 114.2h.01M67.8 94.5h.01M70.3 108.1h.01M66.5 124.2h.01M76.1 97.0h.01M71.5 100.3h.01M73.6 110.1h.01M73.9 102.5h.01M68.1 92.6h.01M64.5 82.4h.01M66.2 84.2h.01M67.2 90.2h.01M75.4 97.2h.01M66.9 93.5h.01M67.8 97.5h.01M65.4 90.5h.01M68.5 94.7h.01M70.4 91.7h.01M72.5 96.2h.01M77.0 100.0h.01M66.8 118.7h.01M64.8 86.8h.01M65.4 86.9h.01M64.5 89.3h.01M68.3 121.7h.01M70.2 118.9h.01M66.0 87.5h.01M67.8 112.0h.01M63.3 82.6h.01M66.9 89.0h.01M63.6 82.5h.01M69.8 112.8h.01M70.9 109.6h.01M67.6 109.5h.01M63.4 85.4h.01M69.0 100.0h.01M67.7 109.6h.01M68.4 90.7h.01M67.7 118.6h.01M70.5 88.1h.01M71.8 93.1h.01M63.3 85.7h.01M71.0 94.5h.01M68.2 99.1h.01M68.7 97.0h.01M66.6 85.7h.01M66.5 115.1h.01M63.5 85.9h.01M64.1 90.1h.01M66.1 87.0h.01M65.0 115.7h.01M64.8 92.7h.01M66.2 94.2h.01M72.0 95.0h.01M66.6 91.5h.01M67.9 89.8h.01M68.0 116.8h.01M65.9 95.3h.01M70.1 92.0h.01M70.3 108.5h.01M64.0 90.1h.01M63.7 83.9h.01M65.7 89.4h.01M65.3 91.8h.01M74.6 97.2h.01M64.5 85.9h.01M65.4 89.2h.01M69.4 106.9h.01M67.8 111.2h.01M68.1 109.4h.01M70.0 102.5h.01M63.0 91.3h.01M62.7 85.1h.01M69.9 104.3h.01M70.0 99.3h.01M65.6 91.9h.01M62.8 88.6h.01M62.5 85.5h.01M64.4 89.9h.01M74.1 92.9h.01M71.6 91.9h.01M70.6 104.4h.01M64.1 93.2h.01M70.6 118.6h.01M64.7 86.9h.01M70.6 98.0h.01M66.9 96.6h.01M63.6 83.3h.01M64.2 85.5h.01M65.0 120.1h.01M63.3 87.9h.01M70.1 112.5h.01M68.5 90.7h.01M69.9 106.4h.01M67.3 119.3h.01M64.5 120.6h.01M78.2 98.0h.01M68.5 117.3h.01M70.8 118.9h.01M66.9 94.9h.01M62.3 81.9h.01M71.5 88.8h.01M71.9 96.9h.01M68.5 119.0h.01M67.2 85.4h.01M75.7 97.8h.01M68.8 121.9h.01M70.9 91.1h.01M65.1 91.5h.01M64.9 86.9h.01M67.8 100.0h.01M66.2 94.9h.01M68.2 97.7h.01M65.1 90.6h.01M72.6 91.7h.01M67.8 89.3h.01M65.7 124.3h.01M66.2 120.8h.01M69.0 94.0h.01M63.1 89.6h.01M63.6 82.1h.01M65.2 95.8h.01M67.6 111.4h.01M70.3 88.0h.01M68.4 111.0h.01M67.1 114.6h.01M72.9 91.2h.01M71.0 119.2h.01M68.5 110.0h.01M64.9 122.1h.01M69.1 100.7h.01M78.7 95.2h.01M71.8 98.1h.01M75.0 110.5h.01M80.1 97.2h.01M66.2 96.2h.01M70.0 98.9h.01M71.1 101.1h.01M66.6 118.5h.01M68.5 90.3h.01M70.7 103.5h.01M75.4 105.8h.01M63.7 127.7h.01M79.9 97.2h.01M66.0 88.8h.01M64.2 82.8h.01M65.8 124.9h.01M70.6 111.6h.01M69.0 122.1h.01M67.2 90.4h.01M62.7 84.3h.01M69.3 108.7h.01M63.7 81.7h.01M67.8 88.0h.01M66.6 90.8h.01M69.2 99.0h.01M64.9 125.6h.01M70.3 110.6h.01M69.1 98.4h.01M64.2 86.3h.01M72.9 114.5h.01M64.9 91.8h.01M64.7 122.5h.01M66.2 98.4h.01M69.2 97.9h.01M66.4 86.3h.01M65.9 87.1h.01M67.0 113.5h.01M69.3 119.8h.01M79.6 98.5h.01M65.2 84.7h.01M69.0 96.7h.01M76.0 105.8h.01M65.4 116.9h.01M66.8 94.6h.01M71.4 110.9h.01M66.0 97.2h.01M65.2 119.4h.01M64.2 89.7h.01M66.0 117.2h.01M68.5 108.3h.01M74.2 102.0h.01M68.5 99.7h.01M71.5 107.0h.01M67.3 91.9h.01M64.4 127.2h.01M67.5 121.3h.01M70.2 100.5h.01M65.2 83.1h.01M72.3 114.3h.01M66.9 101.1h.01M65.4 121.5h.01M72.6 102.7h.01M69.4 107.2h.01M68.6 108.6h.01M65.7 92.4h.01M69.8 105.1h.01M69.9 90.7h.01M66.3 112.1h.01M76.1 99.1h.01M65.4 96.0h.01M69.2 108.9h.01M74.4 95.8h.01M67.8 102.5h.01M74.1 95.2h.01M66.9 91.9h.01M74.8 96.3h.01M65.5 93.5h.01M66.1 89.5h.01M66.6 98.2h.01M70.1 111.6h.01M65.7 94.9h.01M68.2 101.2h.01M79.4 95.9h.01M68.0 95.7h.01M63.9 125.1h.01M66.0 93.7h.01M64.1 89.6h.01M65.3 89.8h.01M69.2 113.9h.01M70.7 90.7h.01M70.0 112.0h.01M68.8 103.8h.01M63.8 84.3h.01M69.4 118.8h.01M64.6 125.5h.01M69.6 111.2h.01M74.0 117.9h.01M69.2 120.7h.01M67.8 99.9h.01M65.5 84.7h.01M65.4 95.7h.01M76.2 111.5h.01M69.7 120.5h.01M71.8 113.6h.01M69.1 113.2h.01M67.9 86.0h.01M65.0 87.7h.01M68.5 109.9h.01M64.9 83.0h.01M75.9 105.9h.01M67.4 121.7h.01M62.5 86.4h.01M68.5 89.4h.01M68.4 111.6h.01M79.6 127.5h.01M72.3 122.5h.01M70.6 112.9h.01M72.6 124.0h.01M79.6 135.5h.01M77.2 124.7h.01M72.9 120.6h.01M76.3 124.8h.01M68.3 113.5h.01M83.5 139.7h.01M68.7 109.8h.01M70.2 112.7h.01M71.2 123.5h.01M69.2 109.7h.01M74.7 122.4h.01M75.4 118.5h.01M78.6 126.0h.01M80.4 131.5h.01M74.0 121.9h.01M84.2 137.1h.01M78.0 128.9h.01M68.2 112.7h.01M70.6 116.8h.01M66.4 110.1h.01M80.0 136.1h.01M82.0 134.6h.01M79.9 132.3h.01M73.4 120.3h.01M67.3 110.1h.01M68.2 114.4h.01M81.9 133.7h.01M77.1 122.6h.01M70.8 114.8h.01M82.9 136.8h.01M77.6 127.5h.01M78.6 127.3h.01M85.2 137.5h.01M68.1 113.0h.01M81.4 134.6h.01M67.4 111.8h.01M78.6 133.1h.01M74.9 119.6h.01M68.8 113.1h.01M76.2 124.7h.01M81.1 135.3h.01M79.3 132.8h.01M80.7 127.4h.01M67.6 108.5h.01M79.9 127.4h.01M80.8 125.9h.01M77.9 130.1h.01M74.7 126.3h.01M77.8 129.2h.01M69.9 117.4h.01M76.7 123.1h.01M83.7 136.4h.01M72.1 118.9h.01M74.7 131.3h.01M73.3 123.7h.01M69.8 123.2h.01M78.9 136.7h.01M82.0 138.3h.01M80.4 136.9h.01M80.7 140.2h.01M84.3 140.5h.01M77.9 137.3h.01M77.9 139.3h.01M75.8 139.1h.01M77.0 137.0h.01M77.8 138.8h.01M81.4 139.1h.01M78.3 138.2h.01M80.1 136.7h.01M79.5 138.5h.01M79.2 139.0h.01M77.7 137.8h.01M80.9 138.6h.01M79.3 138.3h.01M80.8 137.3h.01M81.9 141.0h.01M80.1 138.5h.01M83.1 137.8h.01M80.4 139.6h.01M78.9 137.3h.01M81.4 139.2h.01M80.3 134.0h.01M79.5 139.2h.01M82.5 138.8h.01M80.5 137.0h.01M78.3 138.4h.01M79.5 140.6h.01M74.9 138.2h.01M76.0 139.6h.01M79.6 139.3h.01M80.9 136.3h.01" stroke="#b27dbe"/><path d="M54.1 149.4h.01M52.8 144.1h.01M50.6 140.4h.01M49.8 142.8h.01M56.6 152.1h.01M54.6 137.0h.01M56.2 148.2h.01M53.5 159.4h.01M51.1 140.9h.01M56.6 137.4h.01M57.7 148.3h.01M62.9 171.0h.01M54.1 133.6h.01M60.0 169.9h.01M60.6 170.0h.01M53.7 127.5h.01M51.8 145.7h.01M55.9 133.6h.01M54.0 139.9h.01M55.9 139.9h.01M62.0 165.9h.01M51.5 146.9h.01M58.8 158.1h.01M63.7 164.3h.01M56.8 138.1h.01M54.7 132.1h.01M63.4 165.9h.01M61.2 172.2h.01M59.8 163.9h.01M58.5 133.2h.01M60.6 165.2h.01M51.2 156.6h.01M54.3 145.0h.01M52.1 140.5h.01M51.5 138.6h.01M62.2 169.1h.01M59.7 125.4h.01M55.8 150.5h.01M57.2 154.9h.01M57.4 138.4h.01M56.8 144.6h.01M54.7 152.8h.01M61.1 163.2h.01M55.7 166.2h.01M61.2 171.7h.01M58.4 161.6h.01M49.7 150.1h.01M50.7 139.9h.01M54.4 139.6h.01M57.9 165.2h.01M57.1 130.5h.01M54.5 134.8h.01M54.8 147.7h.01M55.7 141.4h.01M58.1 158.0h.01M56.8 165.1h.01M56.0 141.1h.01M56.6 163.1h.01M57.0 133.3h.01M63.2 167.7h.01M53.4 135.9h.01M57.3 154.1h.01M57.2 160.4h.01M54.1 155.3h.01M57.0 139.8h.01M59.0 158.3h.01M64.9 171.7h.01M54.2 158.1h.01M62.1 169.6h.01M60.0 172.6h.01M51.9 152.9h.01M56.3 129.8h.01M53.2 152.4h.01M56.4 161.0h.01M57.6 167.9h.01M55.8 133.7h.01M54.2 142.4h.01M55.9 134.4h.01M56.7 130.6h.01M50.5 140.9h.01M54.1 132.9h.01M57.3 133.8h.01M56.0 156.4h.01M55.2 145.5h.01M56.6 140.8h.01M53.2 142.7h.01M63.9 166.6h.01M59.4 164.9h.01M53.9 157.6h.01M52.2 154.2h.01M54.3 143.8h.01M55.6 155.9h.01M55.4 128.0h.01M53.4 139.5h.01M51.5 134.6h.01M58.6 159.7h.01M50.2 148.6h.01M50.9 151.0h.01M54.7 137.2h.01M59.3 165.8h.01M54.2 149.6h.01M57.7 167.2h.01M61.7 171.4h.01M51.1 151.7h.01M60.7 124.8h.01M54.5 144.5h.01M55.8 142.7h.01M52.7 139.9h.01M61.6 171.8h.01M60.7 129.5h.01M53.4 129.9h.01M54.4 139.1h.01M53.3 154.7h.01M55.2 141.7h.01M50.2 153.9h.01M62.9 168.8h.01M52.9 138.3h.01M59.3 133.8h.01M51.3 142.2h.01M58.5 169.2h.01M55.5 134.4h.01M55.1 135.1h.01M52.0 143.0h.01M54.3 150.7h.01M65.2 170.2h.01M51.3 153.0h.01M59.4 134.0h.01M55.5 140.7h.01M53.8 140.4h.01M54.6 138.1h.01M51.1 136.9h.01M58.7 164.8h.01M58.4 162.1h.01M52.6 132.9h.01M55.3 131.6h.01M50.4 148.8h.01M57.1 154.3h.01M64.2 81.8h.01M65.1 83.9h.01M66.8 86.4h.01M65.6 87.9h.01M67.8 81.2h.01M63.9 85.4h.01M66.3 90.4h.01M67.7 86.8h.01M91.5 62.4h.01M92.7 61.8h.01M90.5 63.2h.01M68.5 75.6h.01M70.7 74.2h.01M59.9 118.4h.01M61.3 121.1h.01M62.1 123.5h.01M58.8 153.9h.01M62.4 156.6h.01M66.2 145.1h.01M81.9 135.9h.01M58.0 151.3h.01M58.3 144.4h.01M64.9 158.1h.01M62.2 138.2h.01M58.1 141.5h.01M60.0 149.5h.01M62.2 153.2h.01M59.6 147.0h.01M59.8 155.6h.01M64.8 137.6h.01M61.7 131.1h.01M60.7 139.5h.01M59.8 143.2h.01M58.4 151.5h.01M60.2 155.9h.01M58.3 140.7h.01M59.1 155.3h.01M62.9 159.5h.01M60.1 154.6h.01M62.3 143.0h.01M77.5 134.8h.01M68.2 137.0h.01M60.2 151.9h.01M64.1 159.8h.01M61.7 159.9h.01M68.4 152.5h.01M65.4 148.4h.01M60.6 157.2h.01M68.9 137.4h.01M58.7 142.8h.01M59.9 139.7h.01M63.2 159.2h.01M64.6 153.8h.01M61.7 159.7h.01M67.2 154.9h.01M59.3 146.4h.01M69.5 137.4h.01M62.7 161.5h.01M58.2 148.0h.01M62.2 160.2h.01M63.2 131.4h.01M59.7 147.9h.01M63.2 131.8h.01M61.9 133.4h.01M66.2 139.5h.01M62.0 160.1h.01M65.1 156.5h.01M59.7 156.9h.01M62.4 138.5h.01M59.7 155.5h.01M63.6 159.0h.01M60.7 142.9h.01M63.6 142.4h.01M61.9 159.9h.01M61.5 133.2h.01M64.6 158.5h.01M57.1 150.1h.01M63.2 153.6h.01M62.0 140.0h.01M61.5 161.2h.01M59.9 158.2h.01M59.5 151.6h.01M58.0 145.7h.01M62.8 146.0h.01M64.9 158.4h.01M60.1 153.3h.01M59.6 139.3h.01M58.2 149.3h.01M72.4 142.6h.01M63.1 157.0h.01M60.4 154.8h.01M62.1 153.6h.01M60.3 148.8h.01M61.3 161.6h.01M62.4 147.1h.01M60.4 159.3h.01M62.6 142.9h.01M70.4 137.8h.01M60.8 153.3h.01M59.1 143.7h.01M60.7 155.7h.01M61.2 155.9h.01M59.2 139.4h.01M58.8 153.4h.01M60.4 159.0h.01M57.8 148.4h.01M59.9 155.6h.01M58.5 153.1h.01M59.7 142.2h.01M64.4 134.3h.01M61.6 160.0h.01M61.7 161.3h.01M62.2 159.2h.01M61.0 154.9h.01M60.3 153.3h.01M66.1 151.1h.01M63.7 137.9h.01M58.9 153.5h.01M60.6 140.6h.01M60.5 155.8h.01M62.2 152.1h.01M62.8 135.5h.01M57.8 145.4h.01M61.8 131.8h.01M63.0 130.5h.01M62.5 158.8h.01M58.4 145.6h.01M66.1 154.7h.01M72.3 134.0h.01M60.9 149.2h.01M60.2 151.4h.01M65.2 137.7h.01M68.2 134.5h.01M60.9 147.6h.01M61.2 138.1h.01M62.4 159.4h.01M61.2 149.9h.01M59.8 141.3h.01M59.4 150.9h.01M58.6 143.5h.01M60.1 156.0h.01M64.3 158.3h.01M65.1 133.7h.01M61.7 157.6h.01M67.9 133.2h.01M68.2 138.1h.01M77.8 131.7h.01M59.5 143.7h.01M60.5 152.8h.01M59.7 157.8h.01M59.1 155.5h.01M62.6 158.3h.01M61.9 161.4h.01M62.7 136.5h.01M58.7 144.4h.01M62.0 138.2h.01M60.9 156.4h.01M72.5 137.0h.01M57.9 152.7h.01M63.0 161.1h.01M60.6 135.1h.01M63.2 132.0h.01M65.0 132.1h.01M60.2 146.3h.01M61.3 155.3h.01M63.1 133.5h.01M60.8 142.6h.01M64.3 140.7h.01M58.9 144.2h.01M59.7 157.1h.01M68.9 151.4h.01M58.4 149.2h.01M60.2 142.2h.01M63.5 152.4h.01M74.7 137.2h.01M62.3 157.7h.01M59.7 141.4h.01M61.4 138.0h.01M59.4 143.2h.01M62.1 160.7h.01" stroke="#45b4dc"/><path d="M87.8 167.0h.01M87.3 171.8h.01M79.6 170.9h.01M87.0 151.5h.01M65.8 170.5h.01M75.9 174.4h.01M88.5 154.6h.01M77.7 168.6h.01M83.2 174.0h.01M74.0 180.1h.01M85.1 158.1h.01M72.0 173.9h.01M89.0 141.8h.01M86.4 150.3h.01M62.8 173.4h.01M85.9 150.6h.01M67.5 174.1h.01M66.8 169.7h.01M84.0 170.2h.01M84.7 154.3h.01M74.9 178.8h.01M86.1 164.7h.01M70.4 171.0h.01M66.9 171.4h.01M88.4 164.5h.01M84.0 170.0h.01M85.6 153.5h.01M89.6 157.1h.01M86.4 162.9h.01M74.3 181.5h.01M67.4 177.2h.01M90.2 156.8h.01M86.2 171.8h.01M88.4 157.6h.01M83.5 153.6h.01M66.0 175.1h.01M85.0 148.3h.01M87.8 158.6h.01M76.3 177.0h.01M72.4 177.8h.01M67.3 169.9h.01M85.4 150.6h.01M89.5 158.9h.01M89.1 168.9h.01M83.0 173.2h.01M70.2 168.3h.01M82.3 178.5h.01M63.9 170.0h.01M78.4 176.4h.01M75.7 171.5h.01M86.3 162.7h.01M84.2 174.6h.01M78.4 179.1h.01M85.1 157.1h.01M68.5 175.0h.01M88.4 171.0h.01M79.3 177.8h.01M69.0 172.6h.01M86.6 159.4h.01M83.7 164.6h.01M74.0 173.2h.01M77.3 169.8h.01M87.4 164.5h.01M85.7 166.7h.01M76.1 175.2h.01M89.0 161.6h.01M88.1 173.0h.01M89.5 173.8h.01M89.6 170.1h.01M89.0 158.3h.01M88.2 149.3h.01M92.6 165.2h.01M89.2 164.1h.01M66.1 175.1h.01M76.3 176.3h.01M81.7 173.6h.01M70.7 171.8h.01M82.7 166.8h.01M88.3 150.6h.01M62.3 173.4h.01M86.1 155.9h.01M80.3 176.8h.01M87.7 158.9h.01M86.5 172.6h.01M81.3 173.3h.01M76.7 171.1h.01M86.5 140.6h.01M87.1 141.7h.01M87.9 139.6h.01M68.9 174.4h.01M72.9 172.7h.01M73.0 180.4h.01M87.5 167.6h.01M69.2 170.8h.01M90.3 158.7h.01M82.6 177.9h.01M71.7 178.1h.01M81.0 174.0h.01M87.7 170.2h.01M64.0 171.9h.01M83.2 175.8h.01M84.5 160.4h.01M89.7 164.4h.01M84.6 169.1h.01M70.9 174.7h.01M76.5 174.5h.01M80.1 170.9h.01M72.6 176.7h.01M90.5 169.7h.01M90.8 164.3h.01M80.1 174.4h.01M83.0 169.7h.01M66.0 170.0h.01M89.1 165.6h.01M87.8 163.2h.01M72.6 172.7h.01M68.1 172.8h.01M86.7 140.8h.01M78.9 168.3h.01M76.1 179.3h.01M83.6 147.7h.01M88.7 167.0h.01M87.8 171.2h.01M78.5 178.7h.01M83.0 179.4h.01M87.1 165.4h.01M82.9 172.5h.01M85.6 175.3h.01M70.7 177.1h.01M90.1 157.6h.01M92.7 167.6h.01M92.2 165.6h.01M78.4 170.9h.01M92.4 159.7h.01M87.4 161.4h.01M87.5 140.9h.01M66.5 173.2h.01M76.5 175.2h.01M72.1 172.8h.01M84.2 174.2h.01M91.4 167.5h.01M91.4 163.1h.01M78.5 174.6h.01M87.6 172.4h.01M87.5 141.1h.01M89.4 159.0h.01M88.5 151.7h.01M85.4 144.4h.01M72.3 171.9h.01M65.3 171.3h.01M85.7 175.3h.01M88.3 162.2h.01M89.1 171.8h.01M73.9 172.5h.01M75.1 176.3h.01M80.3 179.2h.01M90.8 162.4h.01M86.9 161.2h.01M89.3 163.8h.01M85.0 165.4h.01M87.2 142.7h.01M84.5 165.5h.01M86.6 162.1h.01M81.2 169.9h.01M88.4 148.9h.01M85.9 166.0h.01M65.6 170.2h.01M86.9 150.7h.01M83.4 169.8h.01M87.6 140.6h.01M67.5 176.7h.01M69.5 171.0h.01M88.6 165.4h.01M85.6 164.9h.01M81.6 171.1h.01M71.5 173.9h.01M87.8 149.9h.01M89.1 156.1h.01M69.6 177.4h.01M85.4 144.3h.01M76.9 181.6h.01M68.3 171.2h.01M77.5 174.6h.01M86.9 159.6h.01M74.2 171.3h.01M67.9 172.0h.01M88.2 160.1h.01M88.0 151.7h.01M82.6 179.9h.01M84.4 168.2h.01M66.1 174.6h.01M68.2 167.5h.01M65.6 170.3h.01M91.4 163.2h.01M76.2 176.0h.01M89.3 160.0h.01M83.9 179.6h.01M88.1 157.0h.01M69.2 171.0h.01M91.0 152.4h.01M84.7 175.9h.01M88.1 163.2h.01M71.4 177.6h.01M80.9 170.8h.01M65.8 170.6h.01M68.1 170.9h.01M86.4 167.0h.01M87.7 163.6h.01M66.9 167.4h.01M85.2 156.2h.01M82.3 156.2h.01M80.7 163.7h.01M73.8 169.6h.01M64.7 164.0h.01M78.9 166.1h.01M66.4 166.8h.01M80.5 160.4h.01M76.1 153.0h.01M67.7 160.1h.01M84.4 155.5h.01M73.6 170.4h.01M83.3 155.1h.01M82.9 144.4h.01M65.4 162.3h.01M69.2 168.7h.01M65.3 165.2h.01M72.3 160.4h.01M84.4 143.4h.01M69.5 170.0h.01M69.4 157.5h.01M82.5 152.4h.01M74.9 169.7h.01M78.0 166.8h.01M84.1 157.6h.01M78.6 164.4h.01M76.7 158.1h.01M64.6 161.1h.01M85.0 155.3h.01M83.0 144.4h.01M66.9 161.4h.01M83.0 152.4h.01M71.9 170.2h.01M79.2 164.3h.01M66.8 165.4h.01M82.4 144.6h.01M76.8 167.0h.01M68.5 166.1h.01M68.7 165.8h.01M77.3 157.5h.01M82.9 146.7h.01M69.6 163.0h.01M83.5 158.4h.01M73.0 167.3h.01M69.7 169.6h.01M80.2 160.0h.01M82.6 150.5h.01M82.1 162.2h.01M84.0 155.2h.01M64.4 159.8h.01M70.7 170.5h.01M81.0 161.4h.01M81.2 160.1h.01M71.9 167.2h.01M78.0 162.6h.01M73.5 170.3h.01M82.6 159.5h.01M67.4 165.8h.01M67.5 167.8h.01M80.9 163.4h.01M71.2 169.6h.01M78.6 164.3h.01M65.3 165.5h.01M81.9 154.3h.01M77.6 166.1h.01M62.6 162.1h.01M83.4 154.1h.01M83.4 146.4h.01M83.7 155.6h.01M81.3 154.3h.01M68.9 162.2h.01M83.7 150.9h.01M84.2 146.6h.01M71.6 168.7h.01M71.4 170.8h.01M64.4 165.3h.01M82.1 162.1h.01M64.1 160.2h.01M69.4 168.9h.01M64.5 162.4h.01M75.4 165.0h.01M79.2 165.5h.01M75.8 169.2h.01M67.9 158.3h.01M82.3 148.7h.01M72.3 169.1h.01M69.0 166.9h.01M74.8 168.4h.01M83.5 140.7h.01M74.1 154.8h.01M71.1 170.4h.01M82.9 151.9h.01M81.9 150.0h.01M68.0 158.2h.01M81.6 154.1h.01M64.5 162.4h.01M71.2 168.0h.01M81.1 140.6h.01M80.3 163.4h.01M67.0 166.0h.01M79.6 166.3h.01M82.0 160.2h.01M68.2 166.4h.01M83.5 157.7h.01M83.2 153.2h.01M76.9 168.4h.01M82.9 160.6h.01M70.1 169.1h.01M72.6 168.6h.01M77.9 165.6h.01M83.1 155.7h.01M66.0 164.2h.01M84.7 141.9h.01M74.2 165.0h.01M75.8 167.3h.01M66.8 161.3h.01M80.1 147.3h.01M79.4 156.6h.01M79.0 161.4h.01M70.9 165.3h.01M65.8 165.8h.01M68.6 158.0h.01M83.2 157.5h.01M74.0 168.2h.01M84.0 149.8h.01M74.4 168.6h.01M70.5 167.1h.01M84.1 156.0h.01M69.0 164.4h.01M79.1 152.5h.01M64.3 160.8h.01M83.4 146.1h.01M73.0 165.6h.01M75.2 150.1h.01M84.9 156.2h.01M76.1 168.4h.01M69.4 167.8h.01M67.3 166.0h.01M66.2 162.4h.01M70.5 168.7h.01M83.8 152.7h.01M63.3 161.4h.01M70.9 170.9h.01M74.1 160.0h.01M70.7 166.0h.01M68.0 167.4h.01M75.9 169.4h.01M83.5 145.7h.01M80.1 159.0h.01M74.5 166.9h.01M65.8 158.9h.01M79.0 160.3h.01M65.9 163.0h.01M75.6 168.0h.01M76.3 169.2h.01M71.4 164.7h.01M83.6 154.6h.01M76.5 168.4h.01M81.0 150.7h.01M83.6 139.6h.01M82.8 150.6h.01M78.1 160.7h.01M69.8 166.8h.01M84.6 144.1h.01M84.0 147.8h.01M76.9 167.3h.01M85.1 142.5h.01M68.9 167.2h.01M69.2 168.7h.01M73.6 169.5h.01M74.1 169.2h.01M75.6 166.1h.01M81.3 163.3h.01M66.4 166.4h.01M64.6 161.5h.01M78.6 167.5h.01M80.3 147.8h.01M79.5 148.2h.01M75.2 146.0h.01M81.8 156.1h.01M72.8 165.8h.01M81.3 162.3h.01M78.2 167.1h.01M83.0 152.7h.01M72.8 166.2h.01M83.8 144.5h.01M66.8 163.4h.01M67.5 162.5h.01M79.5 156.4h.01M84.2 155.8h.01M80.2 157.3h.01M76.5 168.7h.01M63.8 161.5h.01M83.1 146.8h.01M78.5 142.4h.01M74.3 170.7h.01M83.1 146.0h.01M82.5 151.4h.01M83.4 158.4h.01M79.3 166.6h.01M83.5 143.2h.01M77.1 167.5h.01M72.6 169.1h.01M65.7 163.8h.01M83.7 156.9h.01M76.6 170.5h.01M72.4 167.6h.01M79.5 166.5h.01M71.1 165.9h.01M67.1 167.5h.01M64.6 162.5h.01M77.8 167.4h.01M82.1 153.5h.01M69.9 161.2h.01M84.2 149.8h.01M83.8 148.1h.01M83.7 158.1h.01M80.3 162.7h.01M82.5 147.9h.01M64.4 160.7h.01M69.1 169.4h.01M83.9 145.3h.01M81.5 157.5h.01M68.3 162.7h.01M79.7 162.9h.01M68.8 164.9h.01M70.8 156.9h.01M67.4 167.0h.01M68.1 165.5h.01M81.9 148.0h.01M84.3 154.1h.01M83.6 141.6h.01M79.4 166.2h.01M77.4 164.7h.01M72.4 164.2h.01M84.3 154.7h.01M82.4 162.7h.01M83.5 152.7h.01M67.1 166.6h.01M77.6 163.5h.01M74.2 169.9h.01M83.8 141.4h.01M81.6 162.3h.01M69.3 167.1h.01M75.9 163.1h.01M74.6 170.1h.01M73.1 168.7h.01M68.5 166.2h.01M70.3 168.5h.01M84.2 152.4h.01M75.1 168.3h.01M82.0 151.6h.01M70.0 167.8h.01M65.3 158.8h.01M66.7 166.7h.01M81.7 160.0h.01M67.5 166.1h.01M79.4 164.3h.01M69.1 166.8h.01M75.0 169.4h.01M80.2 164.1h.01M83.0 150.9h.01M70.5 163.1h.01M82.2 139.8h.01M81.9 157.8h.01M76.7 167.7h.01M86.7 142.3h.01M93.0 149.8h.01M96.5 143.9h.01M94.4 143.7h.01M93.3 149.7h.01M96.3 144.3h.01M89.8 152.2h.01M96.3 144.4h.01M88.4 143.1h.01M92.6 143.9h.01M94.8 148.6h.01M89.5 152.7h.01M94.3 144.2h.01M92.5 150.6h.01M91.9 143.9h.01M92.5 150.8h.01M93.0 150.4h.01M95.5 144.1h.01M95.9 145.9h.01M96.3 146.2h.01M93.1 150.2h.01M95.5 144.3h.01M90.9 151.2h.01M93.9 149.6h.01M93.1 143.7h.01M90.9 151.9h.01M92.8 150.4h.01M91.9 151.5h.01M92.3 143.4h.01M91.7 150.8h.01M95.8 146.9h.01M96.3 144.6h.01M96.4 145.1h.01M91.7 151.4h.01M93.1 143.4h.01M88.1 142.8h.01M87.2 142.6h.01M92.3 151.1h.01M93.2 144.2h.01M93.7 143.8h.01M95.5 146.9h.01M93.7 149.7h.01M89.2 143.5h.01M95.5 146.9h.01M95.0 147.6h.01M92.0 151.0h.01M95.5 147.8h.01M93.1 144.0h.01M96.3 143.9h.01M86.3 141.9h.01M96.0 145.3h.01M87.7 143.1h.01M87.7 142.6h.01M88.2 142.8h.01M90.7 152.0h.01M95.9 144.0h.01M87.1 142.3h.01M96.2 145.7h.01M91.8 151.4h.01M96.4 145.2h.01M96.0 145.7h.01M95.6 146.5h.01M95.7 146.7h.01M91.6 151.4h.01M90.3 143.4h.01" stroke="#3f9fd8"/><path d="M103.0 124.9h.01M114.5 133.7h.01M111.3 127.3h.01M112.3 130.2h.01M105.6 125.5h.01M115.8 139.0h.01M110.5 125.3h.01M88.3 132.6h.01M115.5 128.6h.01M97.9 127.0h.01M106.3 126.7h.01M112.6 129.2h.01M113.6 131.5h.01M85.0 138.0h.01M105.0 124.4h.01M98.9 126.2h.01M95.4 126.7h.01M115.6 137.5h.01M102.9 123.5h.01M92.5 128.7h.01M90.9 130.4h.01M103.9 125.3h.01M107.8 124.9h.01M112.2 128.5h.01M86.8 138.8h.01M104.7 128.1h.01M87.7 135.6h.01M115.2 129.0h.01M106.8 127.6h.01M111.2 127.9h.01M94.3 128.4h.01M112.9 125.1h.01M109.6 124.8h.01M115.6 138.9h.01M105.0 126.8h.01M86.7 141.9h.01M116.1 132.2h.01M97.8 125.7h.01M102.3 122.8h.01M104.8 123.8h.01M118.3 132.9h.01M92.9 128.8h.01M116.0 139.3h.01M116.3 134.2h.01M114.4 133.6h.01M115.0 127.7h.01M116.9 133.2h.01M115.7 130.4h.01M116.0 135.7h.01M86.6 138.2h.01M86.8 137.3h.01M89.5 134.9h.01M108.8 124.3h.01M91.3 129.8h.01M113.6 132.2h.01M115.3 133.1h.01M113.6 131.5h.01M107.3 127.0h.01M91.6 131.9h.01M115.6 135.6h.01M109.8 130.0h.01M114.9 137.4h.01M88.0 135.4h.01M115.1 134.6h.01M102.2 126.5h.01M116.8 135.4h.01M107.6 127.5h.01M101.8 124.3h.01M86.6 141.2h.01M88.1 134.0h.01M93.2 132.3h.01M110.8 127.0h.01M90.1 135.4h.01M104.9 126.7h.01M89.3 136.0h.01M86.9 139.8h.01M110.5 128.3h.01M97.6 127.6h.01M117.4 134.2h.01M118.0 133.4h.01M118.7 135.6h.01M90.4 128.9h.01M111.8 126.0h.01M85.7 138.3h.01M109.5 128.8h.01M88.5 133.7h.01M90.6 134.5h.01M105.6 125.0h.01M87.9 134.8h.01M90.1 128.8h.01M93.4 128.8h.01M115.6 136.0h.01M114.1 126.0h.01M118.4 134.7h.01M97.3 127.7h.01M92.0 128.0h.01M117.9 136.5h.01M100.5 125.9h.01M85.3 138.3h.01M87.6 139.7h.01M89.6 136.8h.01M109.2 131.5h.01M108.2 131.5h.01M100.5 140.0h.01M98.5 141.1h.01M108.2 129.4h.01M102.2 136.9h.01M101.3 138.5h.01M108.1 133.4h.01M107.6 133.1h.01M100.4 138.5h.01M101.2 138.6h.01M103.3 136.0h.01M101.9 137.0h.01M102.7 137.7h.01M103.7 136.2h.01M99.4 140.2h.01M103.3 138.0h.01M100.2 139.5h.01M102.0 138.4h.01M102.4 137.8h.01M98.2 140.8h.01M107.8 133.5h.01M110.5 130.7h.01M98.7 140.2h.01M97.3 142.7h.01M108.5 131.6h.01M102.5 136.3h.01M102.4 137.6h.01M106.9 131.5h.01M99.5 140.1h.01M98.7 141.5h.01M100.1 141.1h.01M97.6 141.3h.01M104.8 134.4h.01M98.1 138.1h.01M105.2 134.6h.01M96.6 143.6h.01M103.4 135.8h.01M109.4 131.7h.01M108.6 132.6h.01M101.6 137.8h.01M102.8 136.8h.01M101.7 138.5h.01M97.1 141.3h.01M99.5 139.6h.01M109.2 133.1h.01M105.6 133.0h.01M110.1 131.5h.01M109.7 134.3h.01M108.1 132.1h.01M104.0 133.9h.01M108.7 131.7h.01M102.6 136.2h.01M100.7 137.1h.01M108.9 134.5h.01M97.3 142.2h.01M109.1 132.4h.01M99.2 138.3h.01M98.0 141.8h.01M98.7 140.1h.01M108.2 132.1h.01M105.4 134.4h.01M105.4 133.3h.01M109.9 132.7h.01M109.8 132.4h.01M104.9 133.2h.01M100.5 139.9h.01M107.9 132.7h.01M105.0 134.5h.01M109.2 132.4h.01M100.8 138.1h.01M97.4 141.1h.01M99.5 138.6h.01M101.5 137.4h.01M101.7 136.9h.01M95.8 137.4h.01M106.9 130.8h.01M99.7 131.0h.01M97.6 130.9h.01M96.0 134.9h.01M105.1 139.5h.01M112.8 138.5h.01M112.3 132.9h.01M106.6 134.8h.01M103.4 138.0h.01M109.0 136.4h.01M102.3 137.3h.01M95.1 131.3h.01M102.3 137.4h.01M106.9 133.9h.01M113.0 132.9h.01M109.4 137.8h.01M103.6 130.3h.01M106.8 129.7h.01M106.0 134.2h.01M109.5 130.1h.01M97.6 135.4h.01M105.6 131.3h.01M101.9 132.0h.01M107.7 133.3h.01" stroke="#b79f38"/><path d="M121.6 157.1h.01M122.7 147.1h.01M116.8 139.9h.01M122.3 149.3h.01M122.2 154.4h.01M120.9 149.9h.01M121.3 152.9h.01M118.9 145.8h.01M119.8 141.6h.01M122.1 153.1h.01M119.9 151.2h.01M120.7 147.4h.01M120.0 153.0h.01M117.6 143.4h.01M121.7 156.9h.01M119.1 153.5h.01M118.0 142.2h.01M120.9 154.2h.01M117.3 142.2h.01M117.8 140.8h.01M122.9 155.9h.01M117.6 147.1h.01M123.0 147.2h.01M119.5 146.2h.01M116.0 142.3h.01M121.4 143.9h.01M122.3 155.8h.01M117.1 144.9h.01M122.8 154.7h.01M122.5 155.5h.01M121.3 151.9h.01M122.4 155.7h.01M121.6 146.3h.01M119.0 154.5h.01M117.3 149.3h.01M116.5 146.1h.01M116.4 143.7h.01M117.7 143.5h.01M121.5 157.1h.01M121.0 144.5h.01M116.9 144.1h.01M116.4 146.6h.01M116.7 137.2h.01M117.4 141.0h.01M120.4 154.5h.01M118.8 149.2h.01M121.0 142.2h.01M118.4 151.3h.01M122.0 149.7h.01M115.5 138.9h.01M119.1 142.9h.01M114.3 147.7h.01M122.6 155.9h.01M119.5 151.9h.01M122.8 144.9h.01M120.1 147.1h.01M121.1 147.8h.01M123.0 151.0h.01M117.0 143.7h.01M121.0 144.7h.01M119.6 143.6h.01M120.4 142.6h.01M121.0 154.3h.01M120.1 153.3h.01M121.4 155.4h.01M117.8 147.3h.01M120.2 151.5h.01M118.4 151.2h.01M122.0 157.4h.01M119.5 145.9h.01M115.4 141.9h.01M119.0 150.3h.01M119.2 139.8h.01M119.1 148.2h.01M120.3 149.9h.01M116.1 140.6h.01M122.0 142.2h.01M118.3 144.2h.01M120.2 147.3h.01M118.7 150.4h.01M122.5 156.7h.01M120.8 158.7h.01M117.9 145.2h.01M118.5 137.5h.01M114.2 139.3h.01M117.7 141.3h.01M121.6 155.1h.01M120.6 139.5h.01M116.5 138.7h.01M119.5 140.8h.01M121.0 148.5h.01M120.4 152.5h.01M120.5 154.2h.01M116.5 143.5h.01M119.9 153.2h.01M117.7 142.9h.01M120.9 154.1h.01M119.0 142.5h.01M120.1 142.0h.01M116.0 140.1h.01M118.7 149.7h.01M120.6 150.1h.01M118.8 144.0h.01M118.3 141.0h.01M117.9 147.4h.01M117.0 151.5h.01M117.4 146.4h.01M119.6 140.8h.01M116.8 137.4h.01M122.8 153.1h.01M113.0 138.9h.01M119.0 145.0h.01M119.2 140.6h.01M122.0 140.7h.01M121.9 141.1h.01" stroke="#8ea030"/><path d="M168.2 139.4h.01M176.1 136.2h.01M161.2 155.6h.01M175.0 152.9h.01M177.6 151.7h.01M164.3 149.8h.01M177.0 147.9h.01M169.4 140.7h.01M165.0 145.7h.01M174.4 140.8h.01M173.2 137.5h.01M172.2 155.3h.01M174.8 143.4h.01M168.2 140.9h.01M178.4 152.7h.01M169.3 145.1h.01M165.2 150.3h.01M167.8 160.0h.01M168.2 153.4h.01M164.1 159.4h.01M170.1 138.8h.01M169.3 143.2h.01M177.9 137.5h.01M174.0 137.5h.01M172.4 154.2h.01M176.4 147.0h.01M170.2 139.5h.01M171.4 159.0h.01M178.4 129.3h.01M174.6 137.1h.01M162.4 147.7h.01M173.5 142.1h.01M176.4 137.8h.01M168.1 157.9h.01M178.3 133.3h.01M174.0 149.2h.01M170.3 150.4h.01M177.4 136.1h.01M161.5 162.9h.01M168.6 145.8h.01M168.1 151.5h.01M177.4 150.5h.01M175.2 143.9h.01M173.0 148.7h.01M168.4 157.1h.01M176.2 151.1h.01M165.8 158.3h.01M163.1 151.1h.01M176.4 129.8h.01M177.3 144.2h.01M162.2 162.2h.01M178.7 150.2h.01M173.2 147.9h.01M161.3 161.5h.01M173.6 151.2h.01M162.1 155.6h.01M164.7 146.1h.01M163.1 153.5h.01M174.2 153.7h.01M177.5 142.3h.01M162.4 155.0h.01M172.5 139.4h.01M170.0 147.6h.01M164.5 154.5h.01M161.9 159.1h.01M171.6 139.3h.01M163.1 148.6h.01M170.4 144.7h.01M175.0 131.3h.01M169.4 155.2h.01M171.6 139.6h.01M165.8 149.6h.01M168.8 143.4h.01M178.3 128.3h.01M168.0 146.8h.01M170.1 158.7h.01M177.6 143.0h.01M170.8 145.0h.01M171.8 139.4h.01M175.5 133.4h.01M164.1 161.4h.01M172.3 149.7h.01M170.5 143.2h.01M177.5 136.5h.01M170.0 145.6h.01M175.1 155.1h.01M178.6 147.7h.01M178.7 134.2h.01M174.9 131.5h.01M169.2 156.4h.01M167.2 146.5h.01M172.9 142.1h.01M170.2 146.6h.01M164.3 161.9h.01M172.1 138.8h.01M167.9 152.6h.01M167.3 152.6h.01M174.8 147.9h.01M176.6 150.1h.01M167.9 149.0h.01M165.4 152.8h.01M174.7 134.2h.01M172.3 144.9h.01M169.0 138.5h.01M164.6 156.4h.01M162.0 152.9h.01M162.3 148.0h.01M168.3 159.9h.01M177.4 138.5h.01M166.0 146.3h.01M170.4 154.1h.01M177.5 138.9h.01M173.6 151.4h.01M171.1 145.3h.01M175.2 137.5h.01M170.8 157.7h.01M164.9 145.9h.01M166.3 159.3h.01M168.2 157.1h.01M164.7 153.0h.01M165.1 161.7h.01M171.3 143.7h.01M175.9 154.3h.01M175.3 142.1h.01M166.4 157.4h.01M164.1 149.9h.01M177.1 150.4h.01M178.0 141.7h.01M172.8 147.3h.01M163.0 152.7h.01M176.9 141.6h.01M166.7 154.5h.01M175.8 150.1h.01M166.0 146.4h.01M178.4 136.3h.01M179.0 133.5h.01M165.4 153.2h.01M170.2 146.4h.01M174.6 135.0h.01M174.5 151.0h.01M176.8 153.2h.01M175.8 142.6h.01M172.5 136.4h.01M164.2 145.8h.01M174.8 135.1h.01M167.0 151.0h.01M175.8 136.0h.01M177.4 153.1h.01M164.5 149.5h.01M169.8 148.4h.01M169.4 152.0h.01M171.1 140.4h.01M178.6 149.0h.01M165.7 146.8h.01M171.0 151.0h.01M169.2 144.4h.01M177.4 129.7h.01M174.8 129.7h.01M177.9 134.7h.01M173.3 151.8h.01M166.9 160.1h.01M171.0 141.0h.01M171.7 147.2h.01M161.8 147.2h.01M171.4 146.3h.01M177.7 143.0h.01M176.4 150.7h.01M166.1 155.4h.01M176.9 133.6h.01M171.4 157.8h.01M170.2 151.2h.01M176.0 134.0h.01M175.3 137.6h.01M176.1 139.2h.01M168.2 142.6h.01M178.5 151.9h.01M161.8 159.1h.01M166.4 148.9h.01M176.2 145.2h.01M174.8 148.9h.01M163.3 151.4h.01M176.9 142.3h.01M170.0 153.1h.01M172.8 150.0h.01M176.0 134.6h.01M174.8 152.8h.01M163.5 161.7h.01M174.2 155.3h.01M175.1 144.0h.01M165.4 144.0h.01M176.0 139.3h.01M178.4 143.3h.01M174.4 137.4h.01M174.9 138.9h.01M169.9 151.6h.01M172.4 158.9h.01M175.4 144.7h.01M164.3 153.4h.01M174.9 150.9h.01M178.1 130.1h.01M178.5 146.1h.01M172.0 151.8h.01M167.3 149.4h.01M176.5 148.1h.01M168.6 159.5h.01M170.9 146.4h.01M163.3 151.2h.01M170.2 150.8h.01M174.7 137.6h.01M175.7 143.8h.01M167.2 147.1h.01M168.1 145.8h.01M161.5 155.8h.01M174.9 142.0h.01M169.7 143.6h.01M161.0 148.2h.01M177.7 137.1h.01M170.3 156.4h.01M169.6 140.0h.01M166.2 156.2h.01M175.9 145.4h.01M170.8 139.4h.01M164.4 147.7h.01M177.5 131.6h.01M169.4 147.6h.01M172.8 155.9h.01M166.0 143.4h.01M165.2 158.0h.01M177.5 145.2h.01M166.7 147.5h.01M169.7 150.1h.01M163.8 149.8h.01M177.4 147.2h.01M161.1 150.6h.01M169.9 155.4h.01M172.5 152.5h.01M165.6 159.1h.01M161.8 143.3h.01M162.6 142.5h.01M174.6 144.3h.01M168.0 145.5h.01M178.9 145.0h.01M173.9 152.2h.01M171.0 151.9h.01M171.1 133.9h.01M177.8 146.3h.01M176.1 137.8h.01M164.7 154.9h.01M166.8 158.1h.01M162.9 157.4h.01M162.7 159.2h.01M165.4 154.1h.01M173.2 145.3h.01M165.7 146.7h.01M168.3 157.2h.01M170.6 141.8h.01M163.1 157.9h.01M165.9 151.9h.01M177.6 149.3h.01M177.9 148.7h.01M162.7 153.4h.01M166.6 157.7h.01M165.7 157.1h.01M177.2 139.1h.01M169.1 155.0h.01M178.0 134.5h.01M177.6 134.7h.01M163.6 150.9h.01M171.3 144.1h.01M174.1 136.9h.01M163.0 151.3h.01M163.9 152.1h.01M164.7 151.5h.01M162.6 161.8h.01M174.1 158.8h.01M162.4 158.2h.01M165.6 148.4h.01M171.9 149.2h.01M173.8 134.6h.01M178.3 146.8h.01M162.4 156.2h.01M173.3 146.6h.01M163.5 156.6h.01M174.2 155.4h.01M167.9 144.7h.01M164.6 146.6h.01M165.0 143.7h.01M165.5 159.0h.01M170.0 148.8h.01M163.9 160.2h.01M175.1 149.7h.01M173.8 144.3h.01M173.2 138.2h.01M177.5 139.1h.01M175.6 153.3h.01M172.1 145.7h.01M174.5 139.0h.01M175.6 147.6h.01M166.6 145.8h.01M170.3 141.6h.01M173.2 140.7h.01M169.4 149.8h.01M174.0 140.6h.01M172.6 159.5h.01M178.3 136.9h.01M175.1 154.1h.01M178.7 135.1h.01M172.6 130.0h.01M164.2 160.8h.01M170.7 144.3h.01M177.8 130.4h.01M175.9 134.8h.01M174.4 146.2h.01M170.1 136.7h.01M172.8 149.4h.01M163.1 142.8h.01M178.8 138.6h.01M165.8 156.7h.01M165.4 145.8h.01M173.1 154.6h.01M170.7 143.4h.01M178.9 139.3h.01M173.2 138.8h.01M171.8 150.5h.01M170.4 152.4h.01" stroke="#5ca63e"/><path d="M125.2 150.3h.01M125.9 162.4h.01M124.7 153.3h.01M125.1 155.4h.01M130.9 165.7h.01M128.0 156.9h.01M125.5 149.0h.01M140.3 162.3h.01M123.1 150.0h.01M132.7 163.6h.01M126.4 162.0h.01M123.8 161.7h.01M137.7 159.7h.01M132.5 155.1h.01M126.9 156.3h.01M130.5 160.1h.01M129.7 164.7h.01M129.4 159.2h.01M130.6 160.5h.01M138.3 166.1h.01M132.6 166.1h.01M123.3 147.0h.01M136.4 163.3h.01M136.3 162.6h.01M125.6 157.3h.01M125.2 158.8h.01M123.8 159.8h.01M129.1 161.7h.01M125.5 159.9h.01M140.2 160.7h.01M125.3 147.5h.01M140.9 161.8h.01M139.1 165.4h.01M130.9 161.0h.01M123.8 148.5h.01M129.1 158.4h.01M126.3 155.0h.01M127.0 162.1h.01M129.5 154.2h.01M129.0 156.7h.01M130.8 153.4h.01M134.3 159.4h.01M135.5 164.7h.01M137.5 166.6h.01M138.7 162.2h.01M123.1 155.1h.01M140.6 158.0h.01M132.8 157.5h.01M136.3 157.1h.01M127.0 153.6h.01M123.6 156.5h.01M130.6 164.7h.01M126.7 157.2h.01M139.6 158.7h.01M125.3 150.6h.01M133.5 158.8h.01M127.1 163.4h.01M129.4 159.9h.01M134.4 157.9h.01M137.5 167.1h.01M136.0 163.6h.01M129.9 162.6h.01M141.0 163.8h.01M135.4 162.8h.01M133.1 159.6h.01M134.3 159.2h.01M129.3 166.6h.01M124.6 153.1h.01M125.6 159.4h.01M132.7 164.8h.01M125.6 161.9h.01M130.1 157.6h.01M124.1 158.8h.01M131.3 161.4h.01M131.8 165.3h.01M129.9 156.9h.01M135.7 166.0h.01M131.3 163.1h.01M139.6 162.9h.01M136.5 158.9h.01M138.1 159.1h.01M126.7 150.7h.01M124.3 150.2h.01M123.6 157.5h.01M135.1 158.7h.01M128.8 162.9h.01M133.3 157.4h.01M124.4 153.4h.01M131.4 161.8h.01M125.5 150.2h.01M127.2 161.2h.01M136.8 163.9h.01M135.3 166.0h.01M136.5 162.6h.01M130.5 156.2h.01M139.4 163.5h.01M131.1 165.4h.01M139.4 166.0h.01M139.4 162.4h.01M135.2 164.3h.01M125.4 157.2h.01M127.1 159.7h.01M131.0 158.4h.01M137.9 164.3h.01M138.0 164.1h.01M125.6 156.0h.01M135.7 158.7h.01M125.1 155.6h.01M124.9 158.9h.01M125.6 157.2h.01M140.7 161.5h.01M134.6 166.4h.01M123.5 143.9h.01M139.7 159.3h.01M131.9 159.0h.01M132.4 156.2h.01M133.2 163.4h.01M128.2 158.7h.01M140.1 164.9h.01M138.8 164.4h.01M129.3 160.6h.01M127.0 151.2h.01M126.5 155.0h.01M126.6 155.2h.01M137.3 163.0h.01M129.2 159.1h.01M128.1 151.0h.01M124.8 151.9h.01M140.0 161.4h.01M137.8 162.9h.01M123.7 159.6h.01M126.4 154.9h.01M134.5 161.8h.01M125.6 156.7h.01M126.4 154.8h.01M140.2 162.4h.01M124.2 161.5h.01M124.4 159.4h.01M126.1 163.4h.01M128.6 158.6h.01M135.0 155.2h.01M132.2 162.7h.01M131.9 155.9h.01M124.8 163.5h.01M134.8 162.0h.01M126.1 155.1h.01M131.7 161.3h.01M125.6 150.5h.01M129.3 163.1h.01M136.5 161.0h.01M123.8 162.7h.01M140.1 160.6h.01M126.0 163.2h.01M132.8 157.8h.01M129.7 163.3h.01M132.2 161.0h.01M130.9 155.7h.01M124.7 145.9h.01M133.4 161.1h.01M138.0 164.8h.01M125.5 156.9h.01M127.3 164.3h.01M127.3 151.0h.01M136.4 163.3h.01M124.8 159.2h.01M126.4 155.6h.01M133.3 158.8h.01M123.8 147.0h.01M129.6 157.9h.01M123.4 152.8h.01M128.3 153.7h.01M127.3 167.1h.01M125.3 155.4h.01M137.2 162.7h.01M131.8 157.2h.01M128.1 161.6h.01M127.0 157.7h.01M123.4 157.4h.01M130.5 159.5h.01M125.9 157.7h.01" stroke="#88a033"/><path d="M188.6 128.0h.01M189.7 136.3h.01M182.8 136.5h.01M188.2 133.0h.01M184.5 134.8h.01M189.7 131.1h.01M182.8 142.4h.01M179.4 148.9h.01M186.6 133.4h.01M183.8 141.3h.01M182.2 147.3h.01M184.9 141.2h.01M188.9 139.9h.01M185.6 129.9h.01M179.3 144.3h.01M185.7 142.4h.01M182.1 132.8h.01M185.8 141.6h.01M184.6 136.0h.01M179.0 132.8h.01M180.0 132.5h.01M181.0 142.9h.01M187.8 129.7h.01M180.5 132.2h.01M187.0 130.3h.01M181.5 136.1h.01M189.5 136.6h.01M181.6 140.0h.01M184.6 137.8h.01M185.1 141.5h.01M185.5 132.1h.01M187.7 128.7h.01M183.5 139.5h.01M184.2 140.9h.01M183.4 141.7h.01M179.7 132.4h.01M190.0 128.5h.01M180.5 129.9h.01M185.0 133.8h.01M180.2 150.6h.01M187.2 137.7h.01M180.3 135.8h.01M189.5 130.3h.01M190.0 135.1h.01M185.2 137.1h.01M182.4 129.3h.01M179.3 144.3h.01M180.1 143.9h.01M179.5 133.6h.01M185.7 142.3h.01M185.8 143.2h.01M184.7 143.3h.01M184.2 135.0h.01M183.9 130.7h.01M185.3 139.5h.01M180.5 139.7h.01M186.8 137.8h.01M185.3 136.9h.01M179.1 138.7h.01M180.1 128.4h.01M189.2 129.2h.01M190.3 129.1h.01M183.0 131.6h.01M181.6 134.3h.01M181.8 132.9h.01M180.9 138.4h.01M181.0 141.4h.01M179.7 144.8h.01M179.8 147.4h.01M183.5 135.2h.01M180.4 147.7h.01M187.6 132.1h.01M184.0 143.0h.01M185.4 134.5h.01M182.0 137.3h.01M179.2 148.4h.01M180.6 145.7h.01M180.8 148.1h.01M181.1 129.5h.01M185.8 142.4h.01M180.6 133.5h.01M185.4 130.5h.01M186.4 132.9h.01M184.7 145.3h.01M185.0 141.5h.01M183.4 146.2h.01M180.8 142.2h.01M182.8 148.8h.01M179.6 151.7h.01M183.5 145.9h.01M182.7 145.6h.01M187.0 135.1h.01M187.1 142.7h.01M191.2 130.7h.01M189.0 138.2h.01M180.6 144.1h.01M182.1 132.4h.01M186.8 139.4h.01M184.4 148.6h.01M187.8 130.3h.01M181.2 137.1h.01M184.9 139.2h.01M184.1 137.6h.01M182.9 145.6h.01M180.8 134.7h.01M185.2 143.2h.01M181.6 138.9h.01M183.6 133.8h.01M183.8 128.5h.01M184.6 136.9h.01M185.4 135.0h.01M181.3 147.2h.01M182.0 140.6h.01M185.2 139.2h.01M179.2 141.8h.01M184.2 145.1h.01M180.4 132.8h.01M179.8 136.9h.01M181.1 138.1h.01M184.1 145.0h.01M184.7 139.0h.01M179.0 144.3h.01M185.5 132.3h.01M180.4 136.9h.01M186.3 139.6h.01M180.9 129.8h.01M191.1 131.0h.01M191.1 137.7h.01M181.4 136.1h.01M186.0 128.1h.01M182.9 130.5h.01M185.0 142.9h.01M183.0 135.4h.01M179.9 145.6h.01M186.6 129.1h.01M180.3 131.9h.01M186.3 129.5h.01M183.2 133.1h.01M187.4 139.1h.01M179.1 131.1h.01M182.3 133.1h.01M186.9 140.3h.01M181.2 141.3h.01M189.5 129.4h.01M184.6 137.4h.01M182.0 133.5h.01M181.7 145.3h.01M187.8 142.2h.01M187.2 134.9h.01M181.5 138.1h.01M180.1 134.6h.01M187.5 128.2h.01M182.6 130.2h.01M179.9 141.8h.01M185.0 145.6h.01M181.4 131.8h.01M187.1 142.5h.01M181.3 146.2h.01M182.2 141.3h.01M179.5 133.8h.01M185.0 138.4h.01M187.1 136.9h.01M184.0 132.5h.01M181.8 139.8h.01M179.6 144.6h.01M182.6 138.0h.01M188.0 135.6h.01M190.2 132.9h.01M183.9 131.2h.01M186.7 140.7h.01M189.5 134.2h.01M181.7 132.5h.01M179.2 139.0h.01M182.1 138.6h.01M184.4 145.7h.01M183.6 138.6h.01M181.4 131.3h.01M179.0 151.4h.01M187.7 138.0h.01M185.3 133.3h.01M190.9 133.9h.01M187.5 140.1h.01M179.8 143.4h.01M188.5 135.7h.01M180.5 138.9h.01M181.4 133.2h.01M183.2 146.4h.01M182.0 137.0h.01" stroke="#3ea846"/><path d="M178.1 81.4h.01M186.9 118.4h.01M190.2 123.0h.01M189.6 87.2h.01M180.9 78.6h.01M196.6 121.1h.01M196.0 110.4h.01M194.6 111.7h.01M187.3 94.2h.01M196.3 107.0h.01M183.6 93.7h.01M189.0 125.3h.01M184.7 94.4h.01M179.5 123.8h.01M183.8 87.7h.01M190.2 84.3h.01M195.8 100.1h.01M195.5 120.6h.01M178.2 97.2h.01M188.4 125.1h.01M195.2 115.5h.01M184.8 108.7h.01M194.6 97.1h.01M176.0 87.9h.01M193.0 104.4h.01M191.9 126.0h.01M188.5 87.0h.01M181.1 97.7h.01M177.1 84.0h.01M183.9 120.2h.01M185.2 100.6h.01M179.3 123.4h.01M182.1 125.0h.01M182.0 102.7h.01M182.1 98.9h.01M190.0 91.5h.01M188.8 118.6h.01M194.6 115.5h.01M193.1 106.3h.01M178.8 90.0h.01M178.7 101.3h.01M187.7 87.3h.01M188.3 112.2h.01M189.1 100.2h.01M175.1 85.0h.01M190.2 108.6h.01M186.6 109.8h.01M178.9 92.7h.01M190.8 114.7h.01M185.2 126.2h.01M179.4 90.8h.01M191.7 126.4h.01M187.3 109.0h.01M188.4 107.5h.01M194.7 96.7h.01M192.2 108.7h.01M181.2 95.6h.01M195.3 103.9h.01M186.5 112.3h.01M182.1 93.4h.01M191.1 107.5h.01M189.7 97.6h.01M189.0 118.0h.01M190.8 85.4h.01M173.2 90.2h.01M179.7 92.7h.01M185.0 113.9h.01M191.5 103.7h.01M180.6 103.4h.01M197.7 108.2h.01M187.1 86.9h.01M184.7 84.1h.01M195.4 98.5h.01M189.3 100.1h.01M191.5 91.7h.01M180.9 119.5h.01M189.2 101.0h.01M186.7 82.6h.01M195.2 115.5h.01M193.5 124.8h.01M189.0 118.8h.01M187.7 97.0h.01M191.8 95.4h.01M182.0 85.1h.01M179.6 88.7h.01M182.7 109.5h.01M185.5 91.9h.01M186.7 114.3h.01M192.5 125.5h.01M191.2 112.1h.01M179.1 86.9h.01M181.8 86.8h.01M184.2 99.8h.01M187.0 83.9h.01M178.9 91.4h.01M186.9 108.5h.01M185.8 116.0h.01M192.0 97.3h.01M185.5 117.2h.01M191.1 94.7h.01M188.7 95.1h.01M184.7 87.8h.01M179.7 96.1h.01M180.2 84.4h.01M186.1 115.2h.01M180.8 82.2h.01M193.5 115.4h.01M192.9 94.9h.01M174.7 87.2h.01M189.3 93.2h.01M193.4 105.0h.01M185.9 80.4h.01M176.1 91.3h.01M181.8 80.1h.01M180.5 84.6h.01M178.5 101.6h.01M181.1 79.7h.01M195.1 107.2h.01M184.3 124.2h.01M187.3 83.1h.01M178.2 98.1h.01M177.6 85.8h.01M193.8 97.3h.01M197.0 112.8h.01M188.0 84.4h.01M185.8 116.0h.01M187.7 94.0h.01M187.3 110.3h.01M187.3 93.8h.01M195.9 100.7h.01M192.4 88.0h.01M192.9 90.4h.01M191.6 122.3h.01M190.1 85.0h.01M180.7 90.3h.01M190.4 112.3h.01M192.0 90.1h.01M186.5 121.4h.01M193.1 109.9h.01M182.1 92.0h.01M181.2 85.8h.01M197.2 104.4h.01M187.1 82.8h.01M176.0 94.1h.01M182.5 123.2h.01M192.1 87.8h.01M181.9 80.3h.01M192.5 102.4h.01M186.5 107.1h.01M179.6 90.1h.01M177.4 80.9h.01M190.1 86.5h.01M177.0 88.7h.01M184.7 94.6h.01M190.2 93.7h.01M190.4 124.3h.01M192.2 103.4h.01M188.8 102.8h.01M194.8 121.2h.01M187.8 121.4h.01M185.1 82.2h.01M183.2 93.6h.01M194.0 113.1h.01M177.3 95.3h.01M174.3 88.8h.01M180.2 122.6h.01M178.1 84.7h.01M176.3 94.9h.01M189.8 119.5h.01M193.4 124.1h.01M196.4 113.4h.01M175.4 84.7h.01M180.9 94.9h.01M176.6 94.3h.01M193.8 119.5h.01M191.4 99.0h.01M189.2 86.9h.01M185.0 110.6h.01M194.0 116.5h.01M193.0 101.4h.01M192.8 109.5h.01M177.6 96.4h.01M192.4 107.0h.01M190.6 107.9h.01M180.5 79.1h.01M177.3 82.3h.01M182.1 123.5h.01M179.8 98.5h.01M192.6 128.3h.01M192.1 101.1h.01M181.9 87.1h.01M190.0 96.2h.01M181.5 108.2h.01M179.8 124.5h.01M188.2 126.6h.01M192.4 129.0h.01M192.3 114.2h.01M188.0 81.7h.01M193.4 100.4h.01M186.0 111.4h.01M189.1 110.2h.01M182.8 121.3h.01M182.9 89.2h.01M194.8 106.5h.01M186.5 109.0h.01M190.5 112.7h.01M179.9 84.3h.01M192.5 95.7h.01M180.8 95.0h.01M184.2 81.4h.01M194.7 126.9h.01M186.5 118.9h.01M178.4 92.0h.01M196.1 112.6h.01M190.5 99.4h.01M191.0 102.8h.01M193.4 118.8h.01M188.1 99.0h.01M180.0 85.9h.01M187.2 93.4h.01M186.4 99.8h.01M185.0 83.3h.01M189.3 89.2h.01M186.9 114.6h.01M183.7 91.7h.01M190.1 102.0h.01M177.6 97.4h.01M197.0 115.3h.01M181.3 100.8h.01M195.0 89.5h.01M185.7 96.3h.01M179.7 127.5h.01M190.4 85.3h.01M192.6 100.0h.01M194.6 109.2h.01M193.8 122.2h.01M185.2 96.5h.01M176.4 89.9h.01M181.1 99.5h.01M183.6 110.3h.01M182.5 108.2h.01M177.3 89.7h.01M181.6 81.7h.01M182.5 85.4h.01M180.8 106.3h.01M192.7 100.7h.01M194.1 126.9h.01M190.0 101.4h.01M178.7 100.8h.01M186.8 84.3h.01M192.8 94.1h.01M184.2 125.2h.01M190.1 109.8h.01M180.7 85.5h.01M194.9 97.9h.01M182.5 108.6h.01M174.7 89.6h.01M191.9 112.6h.01M191.5 86.8h.01M181.4 113.9h.01M174.4 89.8h.01M178.2 125.0h.01M177.6 96.5h.01M186.2 89.8h.01M183.0 91.2h.01M189.0 91.9h.01M193.6 101.2h.01M181.5 121.4h.01M192.0 105.3h.01M184.8 114.2h.01M184.1 116.2h.01M184.3 115.5h.01M197.7 114.1h.01M196.1 111.3h.01M180.0 84.1h.01M192.6 123.8h.01M188.9 85.3h.01M187.2 122.9h.01M196.2 106.5h.01M172.5 91.4h.01M189.9 85.3h.01M174.6 88.0h.01M180.9 98.8h.01M189.3 116.3h.01M193.0 110.3h.01M189.5 111.1h.01M189.9 113.2h.01M182.6 87.5h.01M188.9 109.4h.01M179.6 79.6h.01M190.7 112.8h.01M196.4 107.8h.01M180.6 98.7h.01M182.6 86.8h.01M191.4 106.4h.01M185.1 111.2h.01M190.8 86.1h.01M191.8 116.0h.01M187.3 104.5h.01M185.8 85.0h.01M182.3 103.8h.01M194.7 118.9h.01M194.1 126.1h.01M186.1 99.1h.01M194.0 92.5h.01M178.5 89.2h.01M183.7 88.8h.01M192.6 88.4h.01M180.3 78.4h.01M189.3 116.4h.01M192.3 101.8h.01M183.9 123.0h.01M191.3 106.0h.01M194.9 109.8h.01M186.5 114.8h.01M181.6 107.8h.01M192.0 85.8h.01M193.6 90.9h.01M191.6 122.5h.01M182.1 93.8h.01M189.6 118.0h.01M196.0 109.5h.01M193.1 107.1h.01M184.4 124.4h.01M190.4 122.1h.01M191.3 105.4h.01M193.3 114.9h.01M184.2 101.1h.01M179.3 102.1h.01M183.8 90.0h.01M177.8 93.3h.01M189.4 103.7h.01M186.4 110.1h.01M194.7 108.9h.01M185.4 124.8h.01M184.2 121.1h.01M186.7 125.2h.01M180.1 83.1h.01M180.1 94.3h.01M191.5 115.7h.01M189.4 98.7h.01M185.2 92.0h.01M186.1 82.6h.01M197.1 114.9h.01M186.8 111.8h.01M182.0 121.0h.01M183.1 114.1h.01M187.5 127.9h.01M189.9 91.9h.01M194.8 122.7h.01M191.7 102.7h.01M175.9 94.7h.01M192.4 116.2h.01M195.7 99.5h.01M180.1 103.5h.01M190.7 120.8h.01M188.1 98.7h.01M186.5 113.6h.01M191.8 87.7h.01M178.2 96.6h.01M193.2 126.7h.01M189.5 104.2h.01M196.9 105.0h.01M177.5 90.1h.01M196.2 112.7h.01M192.6 97.7h.01M189.8 102.0h.01M184.1 116.0h.01M184.9 101.3h.01M182.3 117.3h.01M180.1 89.1h.01M189.1 121.7h.01M192.1 110.1h.01M189.5 121.7h.01M173.2 92.5h.01M182.2 113.8h.01M177.9 85.0h.01M194.2 100.6h.01M188.6 91.4h.01M184.9 82.9h.01M179.8 85.0h.01M195.2 113.0h.01M182.6 85.8h.01M180.0 125.1h.01M193.2 121.4h.01M195.0 118.2h.01M188.0 111.5h.01M189.7 105.3h.01M186.8 110.6h.01M183.7 116.2h.01M180.2 86.9h.01M191.5 127.5h.01M188.6 104.4h.01M179.7 92.0h.01M185.4 96.6h.01M187.1 85.2h.01M185.4 87.4h.01M193.2 117.4h.01M190.2 103.9h.01M189.1 108.5h.01M187.2 88.9h.01M191.1 124.2h.01M182.0 98.0h.01M194.2 118.6h.01M191.2 85.3h.01M183.0 106.6h.01M184.7 82.9h.01M185.2 82.4h.01M184.4 113.2h.01M196.1 110.5h.01M190.6 99.0h.01M177.3 93.5h.01M178.2 93.5h.01M182.8 79.9h.01M196.2 101.6h.01M195.3 100.7h.01M185.4 111.8h.01M195.2 117.3h.01M188.6 119.1h.01M186.3 102.4h.01M193.6 91.6h.01M191.8 125.3h.01M177.4 97.4h.01M184.1 108.1h.01M185.5 117.4h.01M181.1 123.4h.01M184.0 123.4h.01M184.5 115.0h.01M188.0 100.2h.01M188.0 95.2h.01M192.1 112.8h.01M188.4 83.3h.01M187.8 104.8h.01M192.9 110.2h.01M186.1 122.3h.01M181.6 85.7h.01M188.1 82.0h.01M182.0 104.4h.01M193.4 87.5h.01M181.9 102.5h.01M190.7 110.9h.01M186.9 122.5h.01M186.9 120.0h.01M192.1 101.9h.01M192.3 126.8h.01M193.8 98.9h.01M186.5 104.6h.01M192.8 97.8h.01M179.8 88.4h.01M189.0 111.2h.01M191.2 116.5h.01M182.3 88.6h.01M193.9 110.7h.01M192.1 115.2h.01M177.6 83.1h.01M177.2 83.4h.01M193.3 117.7h.01M190.2 101.3h.01M179.8 124.4h.01M194.2 111.7h.01M178.6 87.4h.01M190.7 107.8h.01M184.1 126.5h.01M191.7 108.8h.01M186.6 111.8h.01M189.4 115.6h.01M192.1 86.5h.01M189.3 107.1h.01M178.4 95.3h.01M188.4 102.0h.01M175.8 86.3h.01M180.5 84.5h.01M196.2 122.8h.01M190.8 112.3h.01M178.4 98.8h.01M188.6 120.6h.01M180.9 127.8h.01M185.2 89.7h.01M189.7 121.9h.01M176.5 92.3h.01M195.4 110.6h.01M183.3 91.1h.01M193.9 115.5h.01M177.6 101.2h.01M184.4 112.1h.01M192.9 108.1h.01M175.7 95.7h.01M186.0 112.2h.01M184.6 102.7h.01M186.6 127.2h.01M181.4 125.6h.01M184.4 93.0h.01M175.2 85.4h.01M197.1 117.8h.01M191.0 97.3h.01M192.6 101.4h.01M184.3 116.1h.01M186.5 82.7h.01M189.9 100.3h.01M181.4 80.6h.01M188.3 100.7h.01M181.7 84.8h.01M182.7 86.0h.01M189.0 101.8h.01M196.6 106.8h.01M187.4 113.7h.01M181.3 90.4h.01M188.1 85.2h.01M186.4 111.5h.01M179.1 93.2h.01M195.6 106.8h.01M195.4 108.8h.01M178.1 81.0h.01M187.8 132.3h.01M184.7 132.8h.01M196.1 103.8h.01M184.1 89.4h.01M181.1 111.9h.01M182.9 131.1h.01M189.4 94.3h.01M177.5 82.5h.01M178.5 88.8h.01M178.6 88.5h.01M181.6 80.1h.01M184.9 113.9h.01M188.7 119.0h.01M193.3 118.5h.01M186.4 85.4h.01M181.0 101.2h.01M193.1 91.4h.01M197.6 110.9h.01M190.8 94.7h.01M180.1 96.8h.01M190.0 90.1h.01M183.0 111.9h.01M197.1 111.3h.01M190.6 108.4h.01M181.9 88.8h.01M181.4 94.8h.01M190.3 113.0h.01M189.1 104.6h.01M176.9 90.9h.01M186.8 92.3h.01M183.7 132.4h.01M179.4 85.3h.01M186.8 90.0h.01M191.6 102.5h.01M184.6 84.1h.01M182.5 99.0h.01M189.3 120.5h.01M180.7 119.7h.01M176.3 86.3h.01M180.3 88.1h.01M184.6 133.7h.01M195.3 122.6h.01M182.8 89.0h.01M182.0 80.7h.01M184.4 87.9h.01M194.1 120.0h.01M178.3 86.0h.01M191.4 122.4h.01M187.0 126.5h.01M183.8 93.0h.01M175.5 95.1h.01M181.8 115.9h.01M175.9 94.5h.01M184.7 79.6h.01M182.1 109.9h.01M188.5 92.5h.01M186.2 136.0h.01M187.6 102.0h.01M196.0 112.9h.01M187.7 126.8h.01M193.2 89.5h.01M193.4 120.2h.01M187.8 86.3h.01M195.6 108.3h.01M195.6 119.1h.01M188.1 121.3h.01M193.1 87.4h.01M179.6 129.0h.01M186.8 123.5h.01M192.5 109.5h.01M183.3 122.2h.01M182.3 117.6h.01M193.9 125.2h.01M184.4 125.2h.01M178.0 79.6h.01M178.3 96.3h.01M182.4 87.5h.01M180.0 90.6h.01M185.7 83.8h.01M186.4 88.8h.01M190.7 101.3h.01M182.0 127.8h.01M189.6 106.6h.01M190.6 98.5h.01M184.0 105.7h.01M183.7 108.9h.01M182.0 92.8h.01M183.1 118.3h.01M183.1 103.6h.01M183.7 103.1h.01M194.1 113.1h.01M180.8 101.5h.01M193.9 116.7h.01M195.6 121.1h.01M188.1 125.8h.01M189.5 123.4h.01M192.3 95.7h.01M177.7 89.9h.01M179.9 84.0h.01M177.4 85.3h.01M178.8 101.8h.01M186.9 109.0h.01M184.9 132.3h.01M195.0 115.8h.01M180.3 127.5h.01M195.9 107.5h.01M180.8 83.0h.01M188.8 111.8h.01M187.1 84.5h.01M189.8 103.8h.01M181.1 98.6h.01M184.5 109.1h.01M192.0 113.9h.01M190.8 98.7h.01M184.9 89.9h.01M174.7 84.7h.01M196.1 100.3h.01M195.9 94.1h.01M193.3 117.8h.01M181.8 95.4h.01M183.1 131.2h.01M180.4 87.4h.01M179.3 101.1h.01M196.1 104.9h.01M187.3 120.3h.01M175.5 83.5h.01M184.9 126.0h.01M192.8 104.0h.01M185.9 121.7h.01M185.9 90.6h.01M179.6 84.5h.01M185.2 116.5h.01M181.4 131.3h.01M182.1 107.1h.01M192.9 124.9h.01M183.6 93.7h.01M178.5 85.7h.01M185.0 109.2h.01M186.1 116.1h.01M186.7 118.6h.01M182.8 131.2h.01M184.3 111.6h.01M185.1 87.4h.01M185.3 91.7h.01M181.8 95.3h.01M185.3 111.2h.01M192.8 108.2h.01M174.7 91.8h.01M187.5 85.6h.01M174.8 85.3h.01M182.2 106.1h.01M187.6 86.1h.01M176.4 97.0h.01M181.0 100.4h.01M173.5 88.6h.01M192.9 131.6h.01M194.2 96.8h.01M193.3 111.5h.01M189.5 118.4h.01M182.0 84.3h.01M186.2 110.9h.01M187.7 114.5h.01M194.7 109.7h.01M192.6 121.2h.01M186.0 113.5h.01M195.5 91.4h.01M192.4 100.7h.01M183.6 125.2h.01M183.6 92.9h.01M184.1 107.0h.01M192.1 104.2h.01M191.1 98.7h.01M187.7 100.8h.01M186.4 107.5h.01M194.2 123.1h.01M182.1 89.1h.01M185.2 80.6h.01M186.9 119.6h.01M182.4 111.4h.01M189.9 128.9h.01M197.0 115.6h.01M184.1 123.5h.01M189.9 98.8h.01M173.6 89.5h.01M189.0 134.7h.01M183.1 86.6h.01M182.5 115.1h.01M182.4 94.1h.01M188.1 103.6h.01M188.2 133.5h.01M192.3 121.0h.01M184.5 116.5h.01M184.3 103.5h.01M193.3 112.7h.01M192.2 112.7h.01M184.3 121.0h.01M182.3 127.0h.01M188.2 92.7h.01M189.6 126.2h.01M179.4 100.0h.01M186.1 92.6h.01M189.6 125.6h.01M185.2 80.7h.01M180.3 121.6h.01M187.6 108.3h.01M186.2 93.3h.01M191.3 89.5h.01M178.9 123.8h.01M181.7 89.7h.01M184.6 94.5h.01M193.5 94.4h.01M196.3 112.8h.01M184.7 120.3h.01M175.1 95.5h.01M192.7 119.8h.01M180.6 84.7h.01M179.9 92.4h.01M185.2 127.4h.01M194.0 107.3h.01M184.7 87.8h.01M181.3 124.3h.01M178.0 126.3h.01M184.8 121.1h.01M192.1 95.9h.01M186.4 101.4h.01M180.6 114.9h.01M189.7 119.5h.01M185.8 94.9h.01M196.5 118.8h.01M191.1 105.7h.01M177.1 92.1h.01M191.8 135.0h.01M193.4 125.8h.01M184.8 120.4h.01M192.6 94.1h.01M181.1 94.0h.01M192.8 95.0h.01M195.5 107.9h.01M177.7 90.1h.01M198.3 116.0h.01M183.5 87.1h.01M183.9 90.7h.01M196.6 105.4h.01M186.1 124.0h.01M188.6 89.1h.01M186.6 100.4h.01M178.8 93.3h.01M196.7 96.3h.01M186.7 110.0h.01M189.2 98.0h.01M197.2 101.5h.01M187.1 104.6h.01M195.4 100.3h.01M180.6 124.8h.01M192.2 131.5h.01M191.8 98.2h.01M191.8 89.5h.01M191.3 120.7h.01M185.5 118.2h.01M181.0 116.2h.01M186.6 87.1h.01M174.7 86.9h.01M186.9 90.3h.01M181.7 95.9h.01M183.0 111.2h.01M192.1 120.5h.01M189.4 90.9h.01M193.4 128.0h.01M187.8 95.5h.01M192.1 133.4h.01M179.1 124.7h.01M185.6 102.7h.01M187.5 106.9h.01M190.3 103.5h.01M197.5 107.3h.01M184.8 127.2h.01M178.5 119.6h.01M177.4 99.0h.01M182.3 93.6h.01M175.9 86.3h.01M192.8 123.8h.01M183.8 118.6h.01M190.0 123.4h.01M178.5 90.7h.01M192.2 107.3h.01M189.2 85.9h.01M196.2 126.8h.01M179.7 89.0h.01M186.1 110.1h.01M172.2 84.6h.01M196.8 100.8h.01M185.9 85.0h.01M187.8 111.4h.01M190.3 100.6h.01M193.2 106.6h.01M175.8 84.8h.01M191.1 108.7h.01M190.3 115.5h.01M189.4 84.8h.01M183.3 91.2h.01M189.6 113.9h.01M195.9 97.4h.01M188.5 85.7h.01M192.9 124.6h.01M187.8 110.3h.01M186.4 91.7h.01M186.1 100.2h.01M191.0 90.1h.01M186.6 98.4h.01M187.3 111.9h.01M198.0 111.6h.01M180.4 112.4h.01M195.8 119.1h.01M192.5 92.3h.01M188.5 119.9h.01M187.0 91.2h.01M183.3 117.6h.01M189.7 99.9h.01M184.3 119.7h.01M190.8 96.0h.01M195.3 119.4h.01M181.7 121.2h.01M186.4 90.5h.01M182.5 103.3h.01M185.8 104.1h.01M187.2 88.1h.01M185.0 104.2h.01M188.9 106.4h.01M176.0 89.2h.01M191.7 102.4h.01M182.2 119.5h.01M183.8 97.1h.01M192.1 119.1h.01M194.4 100.4h.01M190.7 126.9h.01M184.2 99.9h.01M194.9 118.2h.01M197.2 102.9h.01M185.2 122.2h.01M176.4 98.1h.01M180.6 111.8h.01M192.0 109.6h.01M182.1 89.3h.01M190.3 121.5h.01M187.1 87.1h.01M184.7 112.3h.01M195.4 110.7h.01M190.1 117.3h.01M186.1 86.8h.01M192.3 96.2h.01M176.8 84.8h.01M183.3 122.7h.01M191.8 109.4h.01M179.7 127.0h.01M193.6 121.4h.01M189.2 108.0h.01M192.7 119.6h.01M175.3 90.5h.01M182.1 108.7h.01M182.9 119.9h.01M185.4 121.6h.01M184.2 125.9h.01M187.2 121.3h.01M182.7 103.7h.01M192.4 128.5h.01M189.2 126.6h.01M184.4 104.3h.01M195.1 117.6h.01M184.8 103.3h.01M193.3 104.8h.01M193.0 92.7h.01M183.1 84.5h.01M184.5 127.7h.01M192.6 97.1h.01M179.6 124.6h.01M190.7 121.4h.01M183.4 90.2h.01M186.1 103.3h.01M176.8 85.5h.01M178.4 84.6h.01M187.7 105.6h.01M177.6 85.7h.01M184.0 97.7h.01M177.5 94.2h.01M185.3 121.0h.01M192.1 104.3h.01M183.4 127.5h.01M184.9 118.8h.01M178.4 95.8h.01M190.2 103.4h.01M177.1 84.6h.01M188.2 119.8h.01M175.7 89.7h.01M188.8 123.5h.01M185.0 102.4h.01M185.5 90.5h.01M193.4 126.3h.01M178.5 97.8h.01M178.5 99.1h.01M175.5 108.0h.01M172.3 95.6h.01M175.7 101.0h.01M179.5 89.7h.01M176.5 88.8h.01M181.0 86.8h.01M173.8 106.1h.01M175.2 95.5h.01M177.9 96.9h.01M172.6 103.6h.01M187.6 96.8h.01M175.0 90.9h.01M173.8 83.0h.01M172.0 100.7h.01M175.4 99.6h.01M181.3 107.8h.01M177.8 96.7h.01M182.2 81.7h.01M174.5 92.0h.01M175.1 91.6h.01M175.6 92.5h.01M165.5 108.4h.01M174.8 92.9h.01M172.8 97.1h.01M177.5 92.4h.01M177.8 112.8h.01M176.0 96.8h.01M178.2 105.5h.01M177.4 108.7h.01M177.8 94.7h.01M175.7 100.8h.01M177.5 100.9h.01M175.4 83.0h.01M178.7 88.3h.01M176.7 85.3h.01M175.9 95.4h.01M176.4 84.8h.01M173.9 93.5h.01M175.8 95.6h.01M176.9 110.9h.01M177.6 90.1h.01M180.3 100.4h.01M177.3 102.1h.01M178.7 101.4h.01M178.3 93.4h.01M174.1 101.5h.01M174.6 93.5h.01M172.3 100.4h.01M176.8 94.0h.01M176.5 85.0h.01M173.4 103.4h.01M178.5 84.6h.01M175.5 98.8h.01M170.3 92.9h.01M181.6 109.0h.01M178.4 103.5h.01M176.9 92.9h.01M177.9 93.7h.01M179.8 94.8h.01M180.4 99.9h.01M177.5 88.6h.01M180.9 108.4h.01M174.0 103.0h.01M178.1 98.1h.01M177.7 94.4h.01M178.2 95.9h.01M175.4 83.3h.01M177.0 98.3h.01M171.9 108.7h.01M175.5 109.7h.01M178.8 83.6h.01M178.9 95.2h.01M173.4 100.1h.01M182.0 93.7h.01M177.7 87.6h.01M179.7 83.8h.01M175.1 111.8h.01M174.7 90.3h.01M177.9 99.4h.01" stroke="#2aa84a"/><path d="M153.1 165.3h.01M143.2 164.5h.01M154.3 159.7h.01M149.5 157.6h.01M146.8 166.0h.01M155.7 157.3h.01M151.1 160.5h.01M145.7 164.1h.01M145.4 158.3h.01M160.1 162.3h.01M155.9 158.6h.01M160.3 158.2h.01M150.8 154.6h.01M156.2 163.6h.01M155.3 157.0h.01M154.1 160.0h.01M146.8 162.1h.01M147.9 158.5h.01M153.0 162.2h.01M156.5 155.5h.01M159.4 161.4h.01M153.2 159.6h.01M149.2 159.0h.01M159.6 152.9h.01M160.3 160.6h.01M157.7 158.2h.01M155.4 161.2h.01M147.3 161.7h.01M147.7 158.2h.01M149.1 161.3h.01M158.2 160.1h.01M147.3 162.0h.01M159.7 164.7h.01M144.2 162.2h.01M151.0 161.5h.01M153.7 159.2h.01M145.8 160.7h.01M151.0 166.2h.01M141.7 159.3h.01M149.9 164.4h.01M150.4 160.6h.01M145.5 160.0h.01M151.7 164.2h.01M149.3 156.7h.01M159.9 159.9h.01M157.5 151.7h.01M141.9 166.4h.01M145.9 162.5h.01M147.3 160.0h.01M150.9 164.5h.01M160.8 158.5h.01M146.2 159.4h.01M156.2 163.8h.01M142.1 167.0h.01M144.9 165.3h.01M146.5 161.4h.01M156.8 163.1h.01M153.0 162.1h.01M142.8 162.2h.01M156.4 161.4h.01M143.2 158.7h.01M157.6 152.6h.01M154.9 163.8h.01M144.4 161.4h.01M155.0 153.3h.01M143.8 165.5h.01M148.5 160.0h.01M149.5 160.1h.01M159.3 152.7h.01M158.4 156.1h.01M157.4 162.3h.01M147.9 159.2h.01M159.2 158.8h.01M154.0 156.0h.01M146.9 162.6h.01M148.5 163.3h.01M144.5 160.1h.01M150.5 166.9h.01M146.5 158.2h.01M151.1 160.5h.01M159.0 149.7h.01M158.4 156.0h.01M154.3 163.8h.01M147.1 163.8h.01M145.8 163.4h.01M159.1 154.2h.01M158.8 155.6h.01M146.2 165.0h.01M150.7 159.2h.01M145.9 161.4h.01M146.9 163.5h.01M157.3 151.8h.01M160.0 154.7h.01M155.2 163.8h.01M146.1 158.8h.01M158.5 158.2h.01M157.7 152.6h.01M151.2 155.9h.01M156.7 159.8h.01M147.2 164.5h.01M144.0 164.9h.01M152.4 161.0h.01M151.3 157.1h.01M156.8 154.6h.01M157.3 156.7h.01M147.9 158.5h.01M143.2 161.0h.01M159.8 162.5h.01M155.6 161.5h.01M143.1 161.3h.01M144.4 166.7h.01M144.6 166.5h.01M152.6 166.9h.01M153.5 163.4h.01M153.8 164.4h.01M153.9 164.9h.01M155.9 160.4h.01M144.0 164.6h.01M141.3 162.7h.01M155.2 153.6h.01M144.5 158.4h.01M158.6 158.2h.01M158.2 161.0h.01M145.8 159.2h.01M152.4 155.1h.01M150.9 157.3h.01M146.7 160.9h.01M158.8 153.9h.01M158.4 148.8h.01M149.4 160.3h.01M143.0 157.5h.01M145.8 165.5h.01M150.5 157.6h.01M159.0 155.1h.01M153.5 156.4h.01M159.9 154.2h.01M145.9 162.5h.01M148.8 158.1h.01M145.7 167.0h.01M160.4 149.1h.01M157.7 161.0h.01M157.2 157.1h.01M152.1 157.7h.01M150.7 160.0h.01M143.1 162.7h.01M156.0 156.6h.01M160.1 152.3h.01M157.8 163.4h.01M151.3 164.9h.01M148.0 168.7h.01M145.1 167.8h.01M141.1 158.6h.01M142.1 165.8h.01M147.7 159.7h.01M141.2 163.8h.01M148.2 165.5h.01M156.4 165.3h.01M158.9 160.9h.01M156.7 161.0h.01M156.0 162.9h.01M157.8 162.2h.01M154.7 153.3h.01M160.3 156.6h.01M160.7 155.1h.01M148.5 160.7h.01M159.1 150.6h.01M145.8 164.3h.01M157.5 152.8h.01M148.6 160.3h.01M159.9 160.4h.01M158.1 161.6h.01M157.5 157.1h.01M156.5 156.6h.01M159.1 150.8h.01M143.9 165.5h.01M153.9 159.9h.01M157.4 162.7h.01M151.2 164.0h.01M146.5 161.3h.01M150.2 161.7h.01M148.4 164.9h.01M157.3 158.4h.01M155.3 161.1h.01M156.6 161.1h.01M143.6 160.6h.01M144.1 166.7h.01M148.3 166.1h.01M158.5 158.9h.01M151.3 158.4h.01" stroke="#76a238"/><path d="M127.5 44.9h.01M141.4 27.5h.01M140.4 42.0h.01M136.0 36.8h.01M145.2 32.4h.01M126.0 29.5h.01M142.9 44.0h.01M138.9 43.3h.01M119.3 44.7h.01M133.1 23.0h.01M131.2 45.6h.01M140.7 39.6h.01M133.4 21.9h.01M143.1 34.1h.01M122.1 28.9h.01M127.7 43.7h.01M125.9 29.9h.01M120.8 31.5h.01M127.7 23.8h.01M123.9 44.1h.01M130.1 24.8h.01M125.5 29.7h.01M128.2 47.4h.01M135.6 28.8h.01M137.0 38.0h.01M139.7 47.6h.01M136.7 23.6h.01M129.0 47.4h.01M141.1 24.7h.01M125.2 38.5h.01M139.4 43.3h.01M131.4 24.1h.01M136.3 45.8h.01M142.5 43.7h.01M138.7 34.8h.01M134.5 23.1h.01M137.3 21.6h.01M130.7 40.8h.01M113.6 37.1h.01M123.2 39.6h.01M112.4 44.3h.01M140.8 24.6h.01M142.4 44.3h.01M109.7 42.0h.01M138.0 22.0h.01M132.6 26.2h.01M136.4 37.4h.01M114.1 38.1h.01M138.7 39.3h.01M135.8 51.1h.01M127.9 42.8h.01M131.9 26.6h.01M110.9 43.3h.01M134.4 34.4h.01M117.4 43.7h.01M133.9 36.0h.01M119.4 42.7h.01M137.1 41.8h.01M136.7 41.0h.01M130.5 42.3h.01M145.9 30.5h.01M131.0 37.3h.01M117.2 43.3h.01M130.7 25.2h.01M128.2 27.6h.01M120.0 37.7h.01M136.3 48.1h.01M116.9 38.6h.01M143.3 27.4h.01M145.0 31.9h.01M111.0 42.3h.01M129.0 27.4h.01M134.3 52.1h.01M131.6 46.9h.01M141.1 38.9h.01M129.5 40.9h.01M130.5 46.1h.01M116.3 43.3h.01M143.8 44.0h.01M127.4 33.9h.01M125.8 35.1h.01M124.8 38.8h.01M137.3 30.1h.01M132.7 40.5h.01M140.3 45.4h.01M134.9 43.5h.01M135.0 27.4h.01M134.8 26.3h.01M142.7 40.1h.01M128.6 46.8h.01M133.5 53.1h.01M126.4 26.3h.01M128.7 41.1h.01M138.4 30.8h.01M137.2 29.3h.01M122.0 41.5h.01M130.4 49.4h.01M135.4 21.4h.01M137.7 44.1h.01M134.5 44.7h.01M118.5 36.9h.01M136.9 34.6h.01M124.4 34.2h.01M138.4 47.9h.01M141.9 47.0h.01M128.5 45.0h.01M129.2 39.3h.01M135.8 52.3h.01M138.1 44.5h.01M136.3 33.2h.01M134.1 39.4h.01M128.0 28.1h.01M139.3 41.8h.01M122.1 38.9h.01M132.2 34.2h.01M113.5 42.0h.01M138.8 26.7h.01M133.6 52.8h.01M142.9 26.7h.01M132.1 36.8h.01M136.0 48.2h.01M134.9 43.9h.01M138.9 32.5h.01M135.2 42.2h.01M138.6 25.5h.01M126.8 44.1h.01M134.2 29.9h.01M125.3 46.3h.01M132.7 49.1h.01M134.5 48.5h.01M123.6 45.3h.01M138.2 35.1h.01M133.0 42.0h.01M119.8 44.4h.01M138.0 24.3h.01M123.4 29.2h.01M137.5 41.2h.01M124.7 44.6h.01M143.2 30.1h.01M139.8 39.7h.01M112.8 44.4h.01M118.1 36.3h.01M123.6 34.1h.01M131.2 52.1h.01M138.1 38.2h.01M131.3 50.1h.01M129.0 39.8h.01M131.6 40.8h.01M144.3 30.2h.01M130.9 41.5h.01M143.2 29.5h.01M116.0 45.2h.01M125.6 29.9h.01M120.0 34.9h.01M132.6 32.4h.01M141.4 35.3h.01M121.8 29.3h.01M139.2 30.0h.01M142.2 41.9h.01M132.5 37.3h.01M121.7 29.4h.01M133.9 43.9h.01M118.7 34.2h.01M125.0 29.5h.01M130.1 41.4h.01M134.7 23.7h.01M123.4 39.5h.01M129.5 23.8h.01M121.1 46.1h.01M132.2 40.3h.01M116.8 36.3h.01M143.6 24.4h.01M141.8 46.2h.01M116.3 46.2h.01M132.2 55.0h.01M143.8 25.9h.01M146.5 26.5h.01M140.6 35.3h.01M143.2 36.5h.01M123.7 47.6h.01M142.6 33.2h.01M136.7 34.3h.01M114.0 41.7h.01M136.4 31.1h.01M111.8 42.2h.01M116.9 33.9h.01M138.7 25.2h.01M129.0 28.2h.01M134.4 35.7h.01M133.5 31.0h.01M134.9 25.8h.01M133.2 23.1h.01M136.5 51.3h.01M131.4 39.5h.01M142.6 43.0h.01M142.5 32.8h.01M117.4 39.8h.01M140.7 22.8h.01M136.9 36.6h.01M140.8 22.9h.01M134.7 31.9h.01M134.8 23.9h.01M124.7 38.0h.01M128.0 25.6h.01M121.2 43.7h.01M142.5 29.3h.01" stroke="#e66e68"/><path d="M101.9 69.2h.01M124.4 54.9h.01M114.9 64.7h.01M108.4 68.1h.01M117.9 47.8h.01M107.8 57.5h.01M124.3 54.0h.01M114.3 56.6h.01M113.4 48.1h.01M118.4 48.9h.01M128.9 52.7h.01M109.3 62.0h.01M117.1 55.1h.01M112.4 49.7h.01M108.1 61.0h.01M110.9 51.8h.01M119.0 49.7h.01M109.4 53.5h.01M120.4 55.8h.01M110.4 49.2h.01M115.4 59.8h.01M110.5 50.5h.01M120.2 54.0h.01M117.8 46.5h.01M116.5 60.9h.01M110.2 67.4h.01M99.1 72.8h.01M112.6 46.6h.01M113.7 53.4h.01M111.7 45.9h.01M120.5 50.7h.01M118.3 53.1h.01M129.2 53.2h.01M111.7 64.8h.01M106.3 70.0h.01M116.5 60.0h.01M109.6 63.6h.01M118.3 60.6h.01M111.6 54.1h.01M114.9 52.1h.01M111.4 56.4h.01M111.7 53.3h.01M115.0 59.1h.01M104.5 68.8h.01M126.9 52.1h.01M123.5 54.7h.01M108.7 47.5h.01M112.6 46.6h.01M112.3 53.2h.01M116.4 57.6h.01M110.2 67.7h.01M108.2 54.8h.01M120.1 56.3h.01M113.4 46.4h.01M110.9 55.2h.01M107.3 63.5h.01M110.2 65.2h.01M122.1 58.8h.01M118.8 53.2h.01M128.1 50.6h.01M109.0 60.6h.01M121.9 52.4h.01M117.3 50.1h.01M105.1 70.2h.01M111.0 62.9h.01M100.6 72.0h.01M113.1 49.8h.01M121.6 47.9h.01M102.0 69.9h.01M122.3 52.8h.01M118.6 47.2h.01M128.6 51.1h.01M116.5 53.9h.01M127.8 54.0h.01M127.3 52.3h.01M116.7 60.3h.01M115.4 48.0h.01M118.7 53.9h.01M111.9 61.7h.01M124.4 51.4h.01M118.3 60.9h.01M112.2 55.0h.01M110.0 48.4h.01M113.5 55.6h.01M108.0 58.1h.01M112.1 63.3h.01M114.5 56.9h.01M117.6 48.0h.01M114.0 47.2h.01M106.3 64.7h.01M115.2 45.5h.01M108.5 57.0h.01M108.3 51.9h.01M119.8 49.0h.01M121.3 49.9h.01M104.7 67.7h.01M115.8 59.8h.01M115.4 47.8h.01M124.0 49.2h.01M126.3 55.0h.01M112.9 64.2h.01M120.4 55.5h.01M112.5 62.0h.01M108.7 49.4h.01M114.5 60.4h.01M120.9 59.6h.01M108.7 68.6h.01M111.8 59.6h.01M128.8 52.2h.01M116.0 52.9h.01M110.3 55.4h.01M110.3 46.7h.01M108.0 67.4h.01M122.5 51.1h.01M116.0 51.2h.01M121.9 57.9h.01M117.1 51.7h.01M116.5 53.1h.01M115.9 47.2h.01M113.4 53.7h.01M108.3 53.0h.01M115.4 58.8h.01M116.0 58.9h.01M126.3 51.2h.01M117.2 50.2h.01M108.9 56.9h.01M116.6 57.8h.01M115.1 52.6h.01M113.2 63.9h.01M124.3 54.9h.01M110.4 61.6h.01M112.7 58.9h.01M107.4 67.7h.01M110.8 62.2h.01M113.6 50.1h.01M108.7 55.9h.01M127.1 54.2h.01M124.9 54.2h.01M117.9 60.4h.01M121.6 56.3h.01M107.9 52.7h.01M112.5 60.6h.01M117.6 55.9h.01M109.6 63.5h.01M112.5 50.6h.01M117.3 53.9h.01M115.8 48.2h.01M118.6 53.1h.01M116.9 53.5h.01M108.4 54.4h.01M118.1 55.2h.01M118.3 47.8h.01M123.8 53.1h.01M116.3 50.7h.01M109.3 63.5h.01M121.2 51.5h.01M120.9 56.5h.01M120.2 54.9h.01M121.5 46.7h.01M109.6 55.4h.01M114.0 57.6h.01" stroke="#df8736"/><path d="M149.1 32.0h.01M149.7 28.3h.01M150.2 34.2h.01M154.8 39.4h.01M154.3 37.9h.01M153.2 34.1h.01M151.1 40.3h.01M150.9 27.7h.01M157.5 32.6h.01M150.2 32.6h.01M151.8 39.9h.01M146.8 35.9h.01M149.6 29.5h.01M150.5 36.4h.01M156.1 41.8h.01M156.6 37.0h.01M150.7 32.4h.01M148.0 34.8h.01M150.5 36.4h.01M155.3 38.3h.01M151.8 40.6h.01M149.0 29.5h.01M153.1 41.4h.01M152.6 41.9h.01M152.1 36.7h.01M154.9 38.3h.01M151.6 35.4h.01M150.9 25.9h.01M154.9 32.6h.01M147.1 33.5h.01M149.8 29.3h.01M155.3 33.3h.01M153.7 34.1h.01M144.5 43.7h.01M153.4 41.9h.01M148.5 41.1h.01M148.0 43.5h.01M149.4 45.9h.01M143.9 40.1h.01M149.3 43.3h.01M144.3 43.5h.01M153.8 39.9h.01M149.0 41.1h.01M149.9 42.3h.01M152.7 43.1h.01M145.9 40.3h.01M145.5 36.3h.01M144.5 39.3h.01M146.9 42.6h.01M153.9 40.0h.01M155.6 41.6h.01M148.5 43.5h.01M144.6 43.3h.01M150.9 43.0h.01M150.0 42.8h.01M150.2 45.7h.01M142.4 42.3h.01M147.1 43.6h.01M146.9 41.5h.01M151.6 41.8h.01M153.1 42.1h.01M149.8 41.0h.01M148.9 42.1h.01M151.4 43.1h.01M147.3 41.9h.01M148.8 42.6h.01M151.9 44.0h.01M150.8 41.2h.01M148.8 45.5h.01M144.3 40.7h.01M144.5 41.5h.01M144.4 42.2h.01M144.7 45.2h.01M146.9 42.1h.01M148.8 44.7h.01M149.9 45.1h.01M147.1 41.2h.01M149.3 41.3h.01M150.7 42.5h.01M149.5 42.5h.01M145.5 43.2h.01M145.9 42.6h.01M148.0 43.0h.01M149.6 39.8h.01M151.0 42.3h.01M150.4 44.0h.01M148.3 40.7h.01M147.6 42.3h.01M148.3 42.4h.01M147.5 41.1h.01M147.6 45.4h.01M147.9 42.7h.01M150.0 41.3h.01M152.4 43.9h.01M149.2 40.8h.01M145.0 42.3h.01M148.7 41.9h.01M143.2 44.4h.01M148.1 42.4h.01M148.8 40.9h.01M151.0 42.7h.01M147.0 41.5h.01M149.9 44.2h.01" stroke="#e0589c"/><path d="M136.8 77.3h.01M139.4 77.4h.01M139.4 74.9h.01M143.1 82.7h.01M141.4 80.5h.01M136.5 78.4h.01M143.9 77.9h.01M141.6 79.4h.01M144.6 82.1h.01M137.8 78.1h.01M139.6 76.8h.01M144.8 85.6h.01M142.8 84.5h.01M145.1 78.2h.01M145.5 77.1h.01M136.8 75.7h.01M139.3 76.8h.01M142.6 82.8h.01M145.1 78.5h.01M139.7 82.5h.01M143.4 83.8h.01M140.9 84.2h.01M141.5 80.8h.01M143.0 82.6h.01M140.9 77.6h.01M144.5 82.9h.01M142.2 78.8h.01M143.0 77.3h.01M142.1 85.3h.01M135.2 84.3h.01M133.5 87.5h.01M139.7 76.7h.01M144.1 78.7h.01M135.6 79.6h.01M143.7 77.1h.01M136.8 83.7h.01M133.6 86.7h.01M139.4 85.4h.01M147.5 78.3h.01M145.1 82.5h.01M143.5 78.4h.01M144.1 87.9h.01M139.6 81.0h.01M137.2 84.7h.01M140.9 81.6h.01M144.4 82.2h.01M148.6 82.7h.01M141.3 72.0h.01M141.7 83.4h.01M139.0 81.4h.01M143.8 86.0h.01M132.7 82.0h.01M140.8 75.7h.01M144.1 82.5h.01M139.5 80.7h.01M142.0 80.8h.01M139.7 81.4h.01M131.6 84.3h.01M146.5 76.5h.01M147.0 76.3h.01M141.3 77.1h.01M137.0 84.7h.01M142.2 81.9h.01M139.7 79.3h.01M136.6 87.0h.01M139.4 84.8h.01M132.4 84.8h.01M138.8 82.0h.01M141.6 78.8h.01M137.7 80.9h.01" stroke="#e264a6"/><path d="M108.1 90.2h.01M103.8 91.2h.01M108.5 93.0h.01M104.8 91.3h.01M107.0 92.9h.01M107.5 88.5h.01M102.6 94.4h.01M98.4 91.9h.01M102.8 94.9h.01M106.6 87.7h.01M98.7 88.8h.01M104.5 90.9h.01M106.2 88.7h.01M100.7 90.7h.01M109.2 93.9h.01M102.3 94.4h.01M104.8 90.3h.01M102.1 94.4h.01M102.9 92.2h.01M108.0 94.2h.01M102.7 88.8h.01M104.7 86.7h.01M109.6 91.2h.01M99.9 95.4h.01M99.4 92.5h.01M108.0 92.7h.01M104.8 98.8h.01M108.5 91.7h.01M102.6 89.7h.01M106.0 96.5h.01M104.9 89.0h.01M99.1 88.2h.01M107.3 85.3h.01M106.0 85.2h.01M101.0 88.3h.01M97.5 93.1h.01M105.2 88.9h.01M99.6 92.4h.01M104.3 88.0h.01M101.1 93.2h.01M104.4 89.5h.01M106.9 93.7h.01M103.2 87.8h.01M110.0 92.6h.01M111.0 93.1h.01M110.6 92.9h.01M108.0 89.0h.01M107.1 90.6h.01M111.4 94.5h.01M108.3 88.4h.01M101.1 92.7h.01M105.8 95.6h.01M103.5 91.4h.01M97.5 95.3h.01M111.9 86.3h.01M104.8 86.7h.01M107.4 90.2h.01M100.4 87.6h.01M101.2 89.2h.01M109.4 92.7h.01" stroke="#26a855"/><path d="M119.6 101.0h.01M125.7 96.9h.01M124.3 97.6h.01M123.5 97.9h.01M120.6 99.1h.01M122.6 102.5h.01M125.0 99.2h.01M121.1 98.8h.01M121.2 98.2h.01M120.1 95.9h.01M120.3 102.3h.01M122.5 100.7h.01M124.1 94.5h.01M127.0 97.2h.01M126.9 97.9h.01M122.0 102.1h.01M123.7 104.4h.01M121.4 100.3h.01M121.7 100.6h.01M123.7 98.1h.01M121.4 96.2h.01M125.5 101.1h.01M122.1 95.7h.01M124.8 100.0h.01M132.3 92.6h.01M123.4 96.3h.01M126.9 105.4h.01M126.7 99.9h.01M129.4 97.6h.01M120.6 98.5h.01M124.2 98.2h.01M121.9 99.2h.01M126.1 98.6h.01M122.6 99.2h.01M123.0 97.0h.01M126.0 104.2h.01M122.5 103.6h.01M120.3 96.1h.01M125.4 97.7h.01M120.0 97.4h.01M121.9 98.2h.01M121.7 96.5h.01M125.2 103.0h.01M125.9 102.9h.01M125.0 100.7h.01M123.9 96.4h.01M118.8 99.9h.01M123.5 104.4h.01M125.0 96.1h.01M121.9 90.5h.01M117.7 99.2h.01M126.2 100.4h.01M125.9 96.9h.01M121.3 98.5h.01M124.8 104.2h.01M124.0 99.8h.01M120.2 87.4h.01M121.7 99.3h.01M119.5 96.5h.01M128.3 101.7h.01M125.2 97.5h.01" stroke="#c8912c"/><path d="M135.6 126.0h.01M137.7 116.9h.01M134.7 124.5h.01M137.1 117.9h.01M133.7 114.1h.01M134.9 125.1h.01M132.5 126.0h.01M136.2 119.3h.01M137.3 119.8h.01M138.8 116.8h.01M131.3 116.2h.01M138.1 118.0h.01M134.8 115.8h.01M132.2 116.6h.01M137.5 127.7h.01M135.8 128.0h.01M135.9 121.2h.01M133.8 122.8h.01M134.7 117.7h.01M134.6 122.5h.01M138.7 117.9h.01M135.2 126.3h.01M130.1 115.8h.01M134.2 116.5h.01M132.4 123.2h.01M139.0 121.5h.01M139.5 125.4h.01M134.9 118.1h.01M129.4 125.9h.01M133.4 113.5h.01M133.0 108.7h.01M130.7 130.8h.01M132.9 136.4h.01M132.5 116.6h.01M135.6 118.1h.01M132.4 116.4h.01M133.1 117.6h.01M131.0 121.4h.01M136.6 114.6h.01M137.6 116.1h.01M135.9 117.4h.01M131.3 120.2h.01M138.7 115.6h.01M135.3 125.3h.01M137.8 119.3h.01M132.8 122.5h.01M133.7 121.9h.01M137.3 116.0h.01M140.8 122.6h.01M131.4 118.8h.01M135.1 123.7h.01M133.0 116.6h.01M133.2 126.9h.01M139.5 122.9h.01M138.0 117.7h.01M131.6 121.8h.01M137.0 118.0h.01M135.1 117.5h.01M137.4 118.9h.01M133.7 116.8h.01M134.8 123.5h.01M132.9 109.3h.01M136.6 124.6h.01M141.7 117.1h.01M135.7 116.8h.01M135.7 122.3h.01" stroke="#22b08e"/><path d="M153.1 111.5h.01M163.8 112.6h.01M170.0 113.2h.01M169.8 110.6h.01M146.7 107.8h.01M148.8 110.3h.01M155.0 113.3h.01M160.7 111.2h.01M151.3 112.8h.01M159.4 110.3h.01M157.6 112.6h.01M156.4 112.7h.01M157.3 111.6h.01M156.1 108.9h.01M157.8 113.8h.01M161.1 107.8h.01M150.7 112.5h.01M147.9 111.6h.01M157.7 107.3h.01M161.1 112.6h.01M151.6 112.8h.01M155.3 110.3h.01M149.8 108.7h.01M163.5 110.4h.01M151.1 110.6h.01M158.5 109.1h.01M154.2 111.2h.01M168.5 110.7h.01M154.1 111.3h.01M160.8 111.0h.01M160.6 113.6h.01M159.8 109.5h.01M161.2 113.0h.01M157.6 113.2h.01M154.4 108.5h.01M171.5 109.9h.01M148.6 111.7h.01M156.8 108.2h.01M164.3 113.2h.01M147.6 109.0h.01M151.0 109.0h.01M156.1 109.4h.01M160.0 108.9h.01M162.6 114.9h.01M157.7 112.0h.01M164.1 110.0h.01M148.8 106.2h.01M166.8 109.8h.01M151.9 114.0h.01M155.1 108.7h.01M157.4 111.2h.01M161.9 109.7h.01M163.4 112.7h.01M159.6 109.2h.01M161.3 111.3h.01M156.6 110.7h.01M159.4 113.2h.01M148.5 111.8h.01M154.6 112.1h.01M165.6 113.0h.01M162.5 114.4h.01M160.6 113.2h.01M163.0 108.9h.01M160.6 110.0h.01M162.9 110.2h.01M156.2 109.8h.01M165.0 113.0h.01M151.4 109.8h.01M166.7 110.1h.01M162.9 109.3h.01M153.7 110.7h.01M161.2 111.0h.01M149.0 112.2h.01M166.3 111.4h.01M147.0 114.0h.01M149.0 110.4h.01M149.7 111.8h.01M162.5 112.3h.01M159.9 109.2h.01M149.9 112.5h.01M160.8 110.7h.01M160.3 109.6h.01M155.2 111.8h.01M164.9 113.8h.01M161.7 108.5h.01M152.1 111.9h.01M152.2 109.7h.01M154.4 111.5h.01M163.0 112.3h.01M158.8 114.9h.01M151.0 110.2h.01M149.3 107.2h.01M161.8 113.2h.01M160.5 111.7h.01M163.4 110.4h.01M158.0 111.7h.01M148.2 113.0h.01M154.2 110.2h.01M168.8 110.4h.01M158.0 114.8h.01M155.3 108.2h.01M164.1 110.7h.01M162.1 112.3h.01M149.2 110.8h.01M139.6 111.5h.01M153.1 112.0h.01M157.3 112.8h.01M164.7 114.3h.01M158.5 111.1h.01M141.1 109.7h.01M160.2 109.3h.01M157.5 111.2h.01M163.6 111.0h.01M149.2 110.2h.01M146.0 109.5h.01M142.9 113.5h.01M150.6 111.2h.01M158.5 110.5h.01M155.6 106.1h.01M156.0 108.8h.01M162.2 111.1h.01M159.2 106.7h.01M142.9 108.6h.01M160.0 108.7h.01M153.4 112.9h.01M152.8 110.7h.01M153.9 112.1h.01M157.4 108.9h.01M145.6 113.1h.01M164.9 105.9h.01M150.8 111.6h.01M153.3 110.6h.01M159.8 109.7h.01M171.3 111.3h.01M156.2 111.4h.01M160.2 111.3h.01M151.2 113.3h.01M161.9 111.1h.01M148.4 108.8h.01M156.3 108.8h.01M163.1 110.9h.01M160.8 112.0h.01M157.0 111.0h.01M153.2 113.1h.01M147.9 109.8h.01M160.3 108.1h.01M156.9 110.4h.01M156.9 110.7h.01M160.8 110.0h.01M160.5 111.7h.01M169.1 110.8h.01M156.5 111.7h.01M151.2 111.7h.01M143.1 109.2h.01M167.1 111.6h.01M165.4 111.3h.01M157.0 109.2h.01M154.6 108.2h.01M151.9 108.8h.01M158.4 115.5h.01M162.4 108.2h.01M151.6 110.2h.01M167.5 107.1h.01M160.7 109.6h.01M153.0 111.6h.01M155.5 110.6h.01M159.5 111.6h.01M159.6 114.4h.01M154.4 111.6h.01M151.6 110.1h.01M160.7 110.3h.01M155.7 112.3h.01M156.4 114.4h.01M154.1 110.1h.01M154.7 110.4h.01M151.7 111.8h.01M160.5 111.8h.01M136.8 110.9h.01M150.6 113.4h.01M147.5 111.5h.01M161.7 111.3h.01M142.0 113.7h.01M159.3 109.4h.01M154.5 110.7h.01M150.4 111.6h.01M142.7 114.7h.01M144.0 116.3h.01M163.0 112.4h.01M149.7 113.5h.01M155.0 111.5h.01M150.2 110.4h.01M148.3 111.7h.01M158.6 111.1h.01M157.4 110.0h.01M154.3 108.9h.01M157.2 110.9h.01M160.1 110.4h.01M151.5 113.3h.01M156.4 109.9h.01M143.1 107.5h.01M156.8 110.9h.01M153.0 113.1h.01M162.7 110.9h.01M154.0 110.5h.01M162.3 114.6h.01M155.8 112.8h.01M158.5 110.7h.01M154.8 113.4h.01M151.6 109.8h.01M157.8 110.8h.01M154.0 116.4h.01M156.8 109.5h.01M158.2 109.9h.01M160.6 111.0h.01M147.7 112.3h.01M151.7 112.2h.01M149.8 110.0h.01M165.1 112.0h.01M156.2 112.2h.01M160.4 114.2h.01M169.6 115.2h.01M151.3 107.5h.01M159.7 110.9h.01M145.6 113.4h.01M156.1 111.2h.01M151.8 111.5h.01M160.0 113.3h.01M160.6 112.6h.01M148.1 111.1h.01M152.9 112.6h.01M147.8 112.6h.01M163.0 113.0h.01M153.8 112.7h.01M157.4 110.5h.01M148.4 114.4h.01M160.8 109.8h.01M140.3 110.2h.01M161.1 111.9h.01M151.1 112.9h.01M151.8 109.8h.01M157.1 111.5h.01M153.9 111.7h.01M153.9 110.3h.01M154.8 114.0h.01M147.1 109.4h.01M148.9 112.8h.01M162.8 113.0h.01M150.2 111.7h.01M151.5 110.6h.01M150.8 109.6h.01M153.3 113.0h.01M160.2 109.4h.01M165.2 108.0h.01M150.9 110.5h.01M151.2 115.3h.01M152.3 110.9h.01M153.1 111.0h.01M158.4 110.9h.01M153.1 110.1h.01M155.7 111.0h.01M177.6 124.2h.01M162.1 121.7h.01M168.0 115.9h.01M171.3 126.8h.01M163.0 124.6h.01M169.2 115.3h.01M167.0 117.4h.01M170.9 131.9h.01M165.8 116.1h.01M167.1 133.7h.01M170.1 118.3h.01M171.2 128.3h.01M163.0 125.3h.01M170.1 121.1h.01M162.9 126.4h.01M169.8 128.6h.01M173.8 109.7h.01M172.8 129.4h.01M175.4 121.6h.01M160.0 127.6h.01M162.2 130.0h.01M161.3 122.1h.01M176.0 124.2h.01M168.5 131.1h.01M175.0 132.6h.01M169.8 117.1h.01M171.7 123.7h.01M163.3 112.3h.01M169.0 122.7h.01M169.0 106.5h.01M161.5 132.2h.01M163.9 133.7h.01M165.4 118.3h.01M157.0 133.0h.01M168.6 126.1h.01M170.7 134.1h.01M167.3 123.7h.01M171.9 118.6h.01M159.1 126.7h.01M168.4 123.4h.01M162.7 115.6h.01M157.5 119.2h.01M170.1 128.4h.01M164.7 131.1h.01M167.0 126.8h.01M161.2 110.1h.01M167.4 118.3h.01M170.8 125.6h.01M167.3 133.8h.01M171.7 111.4h.01M164.3 121.2h.01M164.7 109.1h.01M168.9 123.8h.01M164.4 124.4h.01M168.1 126.4h.01M165.0 121.7h.01M171.1 121.1h.01M166.2 122.9h.01M168.5 112.7h.01M162.5 108.6h.01M171.3 130.3h.01M165.1 126.9h.01M169.9 124.0h.01M170.2 119.4h.01M163.4 125.6h.01M181.0 125.4h.01M171.0 128.4h.01M164.6 117.2h.01M168.2 133.8h.01M165.4 119.1h.01M166.3 132.9h.01M181.8 141.0h.01M167.4 129.1h.01M159.6 121.6h.01M166.5 117.5h.01M168.7 119.8h.01M165.0 122.1h.01M172.2 122.1h.01M159.5 125.8h.01M166.7 133.9h.01M166.8 117.5h.01M166.5 122.0h.01M171.9 120.7h.01M166.8 125.8h.01M164.8 121.4h.01M169.7 115.6h.01M169.3 135.7h.01M163.6 124.1h.01M169.4 127.6h.01M157.4 121.2h.01M167.5 115.0h.01M168.5 112.2h.01M170.8 116.8h.01M165.5 113.6h.01M171.8 121.4h.01M169.5 120.3h.01M170.3 125.6h.01M165.4 117.0h.01M167.2 130.7h.01M160.9 120.8h.01M175.6 134.0h.01M171.8 113.1h.01M157.7 114.9h.01M170.7 126.3h.01M165.7 115.5h.01M159.0 108.2h.01M168.3 129.6h.01M170.9 129.7h.01M165.0 130.2h.01M165.5 131.3h.01M169.8 109.7h.01M174.5 114.2h.01M179.4 104.1h.01M176.7 106.7h.01M172.2 104.9h.01M179.9 105.6h.01M173.3 106.0h.01M178.1 105.8h.01M172.9 112.2h.01M178.5 106.1h.01M179.2 106.2h.01M173.9 106.9h.01M179.9 109.2h.01M169.2 104.0h.01M174.8 113.7h.01M178.5 113.4h.01M170.8 110.6h.01M167.8 106.8h.01M172.7 106.7h.01M174.7 107.4h.01M174.4 105.9h.01M175.2 104.1h.01M178.2 110.0h.01M178.3 106.3h.01M173.2 108.1h.01M174.9 109.3h.01M172.4 107.4h.01M171.4 108.3h.01M181.7 107.0h.01M175.4 105.9h.01M181.6 111.5h.01M178.9 107.7h.01M174.0 108.8h.01M180.8 106.5h.01M174.2 108.4h.01M174.3 109.2h.01M175.5 111.2h.01M177.2 106.2h.01M179.3 108.8h.01M171.4 106.3h.01M178.2 107.6h.01M174.9 113.2h.01M171.5 100.8h.01M173.2 105.4h.01M171.2 108.7h.01M176.0 107.7h.01M173.8 103.8h.01M174.2 110.1h.01M179.2 113.5h.01M172.5 104.2h.01M174.3 105.6h.01M178.7 109.2h.01M172.6 113.2h.01M171.8 104.6h.01M177.5 105.6h.01M178.0 111.1h.01M179.7 110.4h.01M172.6 102.6h.01M175.9 105.4h.01M170.0 114.9h.01M162.2 135.2h.01M160.5 119.2h.01M167.6 127.5h.01M163.7 119.6h.01M157.8 124.7h.01M167.5 136.2h.01M186.4 127.6h.01M176.7 138.7h.01M177.3 136.8h.01M178.7 132.9h.01M172.4 135.3h.01M169.7 128.2h.01M172.1 127.1h.01M172.0 128.5h.01M173.8 127.8h.01M167.1 130.4h.01M172.2 135.5h.01M170.7 129.4h.01M172.9 137.6h.01M162.3 146.5h.01M170.7 144.4h.01M178.9 133.1h.01M164.6 128.2h.01M169.4 119.6h.01M157.6 130.7h.01M167.7 131.4h.01M171.5 125.0h.01M159.2 142.7h.01M176.2 137.2h.01M176.6 126.4h.01M171.9 122.2h.01M181.9 137.0h.01M175.3 125.7h.01M175.7 132.0h.01M164.2 134.8h.01M173.4 139.0h.01M169.9 131.9h.01M160.3 143.8h.01M170.3 132.7h.01M174.6 140.8h.01" stroke="#4673c4"/><path d="M167.6 63.9h.01M167.0 62.8h.01M162.0 54.2h.01M157.5 44.4h.01M158.9 48.3h.01M158.7 47.1h.01M157.6 45.7h.01M159.3 48.7h.01M161.6 53.0h.01M166.2 60.5h.01M166.2 60.8h.01M157.4 45.0h.01M161.2 52.3h.01M159.6 48.4h.01M163.2 56.0h.01M163.7 56.3h.01M160.6 51.9h.01M164.2 57.5h.01M158.2 47.3h.01M165.3 59.0h.01M162.3 52.9h.01M157.1 44.4h.01M165.3 59.1h.01M162.8 54.3h.01M160.8 50.8h.01M163.9 57.1h.01M160.8 50.9h.01M157.6 45.2h.01M165.2 59.1h.01M165.6 60.3h.01" stroke="#c24fa8"/><path d="M151.6 90.0h.01M149.3 89.0h.01M149.8 90.0h.01M150.1 90.3h.01M149.1 90.9h.01M149.6 88.0h.01" stroke="#e88aa0"/><path d="M137.2 53.3h.01M140.5 45.5h.01M135.2 47.2h.01M129.3 44.3h.01M130.3 40.3h.01M134.6 49.8h.01M135.8 50.3h.01M132.1 39.4h.01M138.4 47.2h.01M140.4 41.5h.01M134.3 40.3h.01M145.1 42.4h.01M130.9 46.7h.01M141.8 46.5h.01M137.3 50.7h.01M134.9 44.8h.01M137.2 60.3h.01M129.6 47.2h.01M136.1 48.0h.01M133.5 53.9h.01M139.9 38.0h.01M141.0 50.7h.01M142.3 51.4h.01M135.2 42.6h.01M138.7 46.6h.01M132.2 42.3h.01M142.8 49.0h.01M140.4 42.0h.01M136.5 44.9h.01M136.3 49.0h.01M133.2 46.0h.01M136.5 42.6h.01M135.2 49.4h.01M137.1 47.1h.01M140.4 50.8h.01M136.1 48.2h.01M131.7 36.1h.01M142.2 41.5h.01M142.8 40.3h.01M139.1 47.6h.01M139.2 42.4h.01M126.8 43.7h.01M137.4 45.8h.01M135.0 39.5h.01M138.3 43.3h.01M131.6 53.0h.01M135.5 40.7h.01M135.1 55.4h.01M144.1 41.8h.01M142.0 45.8h.01M135.3 42.0h.01M138.4 43.8h.01M130.6 49.9h.01M140.1 41.6h.01M138.8 45.1h.01M139.5 47.3h.01M136.0 48.6h.01M146.0 43.2h.01M130.8 39.4h.01M137.9 43.0h.01M133.8 43.0h.01M138.2 45.7h.01M133.2 48.2h.01M139.7 51.2h.01M140.3 45.8h.01M135.1 42.7h.01M127.1 54.7h.01M141.9 39.7h.01M137.3 59.0h.01M146.1 42.6h.01M137.7 45.0h.01M135.9 48.5h.01M139.7 41.3h.01M138.2 47.5h.01M136.7 52.2h.01M138.1 46.0h.01M139.7 48.3h.01M137.3 45.3h.01M137.4 43.6h.01M133.5 51.4h.01M134.9 50.3h.01M138.2 53.0h.01M135.3 38.1h.01M138.9 48.3h.01M138.1 33.6h.01M134.8 45.8h.01M134.0 49.7h.01M136.5 47.0h.01M130.2 49.0h.01M135.1 50.9h.01M135.6 45.0h.01M137.8 48.5h.01M138.5 53.4h.01M137.9 46.8h.01M137.3 36.9h.01M134.5 34.6h.01M133.9 42.2h.01M133.7 47.1h.01M135.9 40.3h.01M135.4 45.5h.01M140.3 44.9h.01M140.6 46.2h.01M140.4 37.9h.01M138.5 42.3h.01M137.1 44.6h.01M134.7 37.6h.01M137.7 32.6h.01M135.6 36.5h.01M140.5 42.9h.01M137.5 37.3h.01M137.4 55.7h.01M132.6 43.6h.01M133.1 43.3h.01M133.0 40.5h.01M141.0 38.8h.01M130.7 35.7h.01M142.4 32.8h.01M134.6 43.9h.01M145.1 54.0h.01M138.9 41.9h.01M144.5 53.7h.01M135.2 41.3h.01M131.7 35.5h.01M139.5 45.2h.01M135.5 34.5h.01M133.0 48.7h.01M137.1 52.7h.01M141.8 37.7h.01M141.0 50.1h.01M138.1 44.5h.01M134.9 42.2h.01M131.3 43.2h.01M141.1 50.0h.01M141.5 49.5h.01M138.3 48.0h.01M139.5 49.4h.01M135.6 36.1h.01M141.0 48.7h.01M135.1 33.2h.01M138.1 40.9h.01M140.7 43.1h.01M132.7 38.4h.01M138.0 45.2h.01M132.3 45.1h.01M137.6 43.1h.01M135.4 47.8h.01M135.7 49.1h.01M134.0 42.2h.01M134.9 43.6h.01M141.3 47.3h.01M149.1 41.0h.01M147.7 41.1h.01M148.0 42.3h.01M145.1 41.1h.01M147.4 43.1h.01M147.2 43.8h.01M149.9 38.2h.01M149.6 43.0h.01M149.0 44.0h.01M150.6 39.7h.01M144.6 40.7h.01M148.6 41.3h.01M146.1 40.3h.01M148.7 38.5h.01M152.6 41.8h.01M147.4 41.0h.01M145.5 39.9h.01M148.9 41.8h.01M147.5 40.5h.01M149.4 38.0h.01M146.5 40.1h.01M149.5 41.2h.01M147.8 40.7h.01M147.8 38.6h.01M148.7 44.3h.01M56.9 78.7h.01M63.2 73.5h.01M57.8 75.6h.01M90.2 72.7h.01M71.1 64.5h.01M87.4 66.2h.01M75.2 63.8h.01M66.1 64.5h.01M88.2 70.7h.01M58.5 84.5h.01M74.7 63.2h.01M68.8 67.4h.01M81.3 62.6h.01M62.9 77.6h.01M60.1 73.1h.01M90.2 67.5h.01M56.8 85.5h.01M70.6 65.6h.01M81.2 63.0h.01M71.7 60.1h.01M64.8 66.1h.01M63.6 68.1h.01M69.2 63.2h.01M86.6 67.4h.01M61.8 72.5h.01M63.7 108.9h.01M60.4 90.8h.01M57.2 98.5h.01M61.6 124.5h.01M61.2 118.6h.01M60.0 126.5h.01M60.0 91.7h.01M55.9 127.2h.01M57.4 106.1h.01M58.7 103.4h.01M58.2 120.1h.01M56.2 88.7h.01M60.1 109.7h.01M62.9 83.2h.01M61.6 113.0h.01M62.0 120.0h.01M64.8 91.1h.01M60.0 119.7h.01M64.8 96.2h.01M65.4 97.5h.01M58.2 164.5h.01M59.2 157.5h.01M55.0 133.8h.01M57.6 156.9h.01M66.1 166.4h.01M60.4 166.6h.01M56.2 162.6h.01M55.8 158.6h.01M54.9 152.9h.01M53.0 146.7h.01M51.2 155.2h.01M52.7 159.6h.01M52.0 134.9h.01M58.2 163.9h.01M56.9 159.6h.01M49.6 140.3h.01M61.2 163.7h.01M61.7 164.3h.01M59.1 129.1h.01M60.9 169.1h.01M51.5 139.2h.01M53.8 161.1h.01M57.9 134.9h.01M63.0 165.9h.01M54.4 161.1h.01M58.9 156.9h.01M51.3 145.5h.01M64.2 164.0h.01M54.0 140.4h.01M52.5 132.4h.01M55.9 132.9h.01M56.8 148.6h.01M52.4 158.2h.01M57.6 161.2h.01M55.6 153.4h.01M82.7 170.5h.01M89.3 159.7h.01M85.1 174.1h.01M84.4 149.0h.01M86.4 149.2h.01M86.4 165.4h.01M68.8 177.7h.01M71.2 175.1h.01M88.0 150.5h.01M84.0 171.8h.01M86.2 167.5h.01M85.9 147.5h.01M66.6 170.5h.01M88.3 168.0h.01M80.8 165.8h.01M85.7 169.9h.01M69.9 170.2h.01M90.5 171.4h.01M87.3 169.5h.01M66.8 177.2h.01M87.8 140.3h.01M78.5 174.9h.01M89.4 169.0h.01M81.4 178.7h.01M69.2 169.1h.01M70.0 178.7h.01M65.8 171.6h.01M85.6 159.7h.01M67.0 171.7h.01M68.4 175.9h.01M86.2 170.0h.01M72.0 171.5h.01M84.7 154.7h.01M87.5 176.3h.01M87.7 156.2h.01" stroke="#fff"/></g><g id="umB"><path d="M-35.93 -5.64L-35.17 -6.03L-33.54 -7.24L-32.17 -8.48L-32.14 -8.66L-31.74 -9.11L-30.22 -10.39L-28.92 -11.07L-27.39 -11.60L-25.79 -11.93L-24.21 -11.99L-23.22 -11.83L-21.87 -11.46L-19.20 -10.21L-18.25 -10.18L-17.90 -10.25L-17.57 -10.46L-17.61 -10.60L-18.07 -11.10L-19.88 -12.57L-20.35 -12.85L-21.53 -13.33L-23.04 -13.74L-24.58 -13.94L-26.06 -13.85L-27.53 -13.53L-29.02 -13.06L-31.25 -12.05L-32.53 -11.25L-33.65 -10.33L-34.90 -9.04L-35.58 -7.92L-35.90 -7.13L-36.14 -6.22L-36.14 -5.64Z" fill="#9687c3"/><path d="M-35.84 4.70L-35.39 4.88L-33.94 4.99L-33.20 4.91L-32.71 4.73L-32.45 4.32L-32.31 3.86L-32.02 2.20L-29.95 -1.50L-29.86 -1.86L-29.93 -2.59L-32.06 -8.44L-32.17 -8.58L-32.63 -8.37L-34.38 -6.92L-35.62 -6.41L-35.95 -6.22L-36.15 -5.98L-36.11 -5.17L-35.62 -3.35L-34.91 -1.16L-34.71 -0.28L-34.63 0.59L-34.76 1.50L-35.12 2.80L-35.93 4.49Z" fill="#b27dbe"/><path d="M-35.72 4.25L-36.24 4.80L-36.81 5.81L-37.96 7.26L-38.30 8.01L-38.48 9.20L-38.36 10.19L-38.07 11.36L-37.53 12.56L-37.14 13.16L-36.12 14.39L-35.04 15.49L-33.98 16.46L-32.93 17.17L-32.44 17.29L-32.36 17.38L-31.85 17.29L-31.20 16.99L-30.60 16.58L-30.16 16.14L-30.02 15.80L-30.30 15.44L-32.71 14.02L-33.44 13.25L-33.97 12.47L-34.38 11.70L-34.66 10.93L-34.77 10.15L-34.68 9.27L-34.12 7.49L-33.32 5.74L-32.55 4.43L-32.67 4.25L-33.72 4.07L-35.17 4.13Z" fill="#45b4dc"/><path d="M-19.87 8.33L-19.88 7.81L-20.10 7.76L-21.00 8.05L-21.36 8.38L-21.32 8.54L-21.42 9.07L-21.75 10.26L-21.86 10.96L-21.59 12.72L-21.62 13.16L-21.75 13.55L-22.17 14.22L-23.07 15.08L-23.81 15.53L-24.70 15.93L-25.81 16.36L-27.05 16.71L-27.62 16.75L-28.15 16.63L-29.57 15.85L-30.02 15.80L-30.11 15.72L-30.59 15.87L-31.80 16.61L-32.25 17.02L-32.43 17.30L-32.32 17.55L-31.70 17.87L-28.61 18.80L-26.34 19.34L-25.30 19.45L-24.34 19.41L-22.49 19.05L-20.90 18.47L-19.64 17.71L-19.12 17.26L-18.32 16.37L-17.92 15.55L-17.83 14.76L-17.94 14.02L-19.38 11.47L-19.84 10.36L-20.07 9.04L-19.99 8.43Z" fill="#3f9fd8"/><path d="M-21.54 8.56L-21.24 8.72L-20.86 8.75L-20.06 8.64L-19.70 8.50L-19.40 8.29L-18.02 6.62L-17.42 6.08L-17.04 5.86L-15.48 5.32L-13.23 4.94L-12.14 4.90L-11.13 4.97L-10.20 5.16L-8.98 5.59L-8.30 5.98L-7.78 6.42L-7.64 6.67L-7.41 7.68L-7.13 7.97L-6.31 8.10L-5.38 7.97L-5.05 7.79L-4.93 7.47L-5.11 6.77L-5.86 5.54L-6.45 4.97L-7.27 4.48L-8.91 3.83L-10.11 3.55L-12.00 3.36L-13.40 3.41L-14.96 3.60L-16.43 3.94L-17.73 4.47L-18.88 5.13L-19.79 5.82L-20.49 6.61L-21.53 8.11L-21.60 8.36Z" fill="#b79f38"/><path d="M-5.60 7.57L-6.61 7.57L-7.03 7.66L-7.26 8.04L-6.63 9.30L-6.36 10.33L-5.49 11.62L-4.54 12.69L-3.29 13.60L-1.71 14.40L0.07 15.03L2.04 15.43L4.16 15.63L6.22 15.71L8.21 15.64L10.31 15.44L12.62 15.11L15.03 14.66L17.43 14.07L19.85 13.35L22.10 12.53L24.90 11.12L26.51 10.03L27.28 9.40L30.27 6.25L30.79 5.51L31.79 3.77L32.24 2.81L32.42 2.27L32.66 0.99L32.77 -0.41L32.69 -1.67L32.45 -2.84L32.04 -3.95L31.44 -5.03L30.67 -6.01L29.71 -6.80L27.87 -7.65L26.65 -8.06L25.40 -8.38L24.34 -8.49L23.94 -8.44L23.33 -8.17L22.25 -7.40L21.79 -6.95L21.13 -5.97L21.08 -5.44L21.43 -4.82L23.77 -2.17L24.95 -0.44L25.13 0.05L25.24 1.07L25.11 2.12L24.98 2.59L24.75 3.02L23.75 4.23L23.67 4.47L22.46 5.56L21.16 6.55L17.31 9.11L15.09 10.46L13.86 11.10L11.71 12.07L9.55 12.81L7.56 13.24L6.10 13.30L3.77 13.06L2.14 12.63L0.41 11.95L-1.10 11.18L-1.68 10.77L-3.32 9.10L-4.45 8.15L-5.16 7.76L-5.21 7.65Z" fill="url(#agb)"/><path d="M23.61 4.52L23.86 5.18L24.51 5.90L25.35 6.50L26.45 7.03L27.56 7.31L28.09 7.30L28.61 7.22L29.58 6.87L29.77 6.76L30.55 5.90L32.03 3.30L32.42 2.27L32.73 0.29L32.75 -1.06L32.45 -2.84L31.76 -4.49L31.08 -5.54L30.67 -6.01L29.71 -6.80L28.50 -7.40L26.65 -8.06L24.83 -8.46L24.34 -8.49L23.62 -8.33L22.51 -7.60L21.60 -6.72L21.26 -6.22L21.07 -5.71L21.08 -5.44L21.43 -4.82L23.77 -2.17L24.70 -0.90L25.13 0.04L25.24 1.07L24.99 2.58L24.75 3.02L23.79 4.09Z" fill="#2aa84a"/><path d="M-8.46 -17.77L-6.75 -17.61L-6.63 -17.71L-4.95 -17.60L-1.73 -17.16L-0.19 -16.87L0.68 -16.49L0.87 -16.25L1.18 -15.44L1.61 -15.05L2.67 -14.62L3.42 -14.66L4.25 -14.98L5.34 -15.69L5.92 -16.32L6.61 -17.28L6.97 -17.89L7.16 -18.49L7.12 -18.76L6.73 -19.67L6.78 -20.06L7.06 -20.49L8.46 -21.99L8.58 -22.02L8.66 -22.16L8.65 -22.47L8.54 -22.72L8.40 -22.72L7.88 -23.08L6.88 -23.47L5.40 -23.84L3.71 -24.03L2.81 -24.01L0.83 -23.82L-1.98 -23.22L-3.67 -22.60L-5.83 -21.55L-7.00 -20.78L-7.90 -19.99L-8.67 -19.11L-8.94 -18.67L-9.04 -18.31L-8.91 -18.05L-8.52 -17.88Z" fill="#e66e68"/><path d="M-6.76 -17.58L-8.46 -17.76L-8.56 -17.67L-9.28 -17.60L-9.61 -17.40L-9.83 -17.11L-10.30 -15.73L-10.57 -13.62L-10.73 -13.04L-11.09 -12.49L-11.81 -11.80L-12.76 -11.24L-14.05 -10.72L-15.03 -10.48L-16.90 -10.17L-15.44 -10.10L-13.79 -10.29L-12.09 -10.67L-9.97 -11.33L-7.05 -12.49L-4.00 -13.96L-0.63 -15.44L0.09 -15.87L-0.02 -15.99L-0.49 -16.20L-2.68 -16.87L-4.18 -17.15L-6.65 -17.47Z" fill="#df8736"/><path d="M7.89 -22.60L7.91 -22.41L8.47 -22.00L8.62 -21.99L8.84 -21.63L8.71 -21.31L7.91 -20.37L7.78 -20.10L7.82 -19.58L7.93 -19.33L8.32 -18.95L9.01 -18.81L10.47 -18.77L12.92 -18.46L13.33 -18.50L13.56 -18.61L13.69 -18.79L13.73 -19.02L13.62 -19.60L13.24 -20.36L12.61 -21.19L11.83 -21.84L10.83 -22.38L9.87 -22.72L9.41 -22.78L8.46 -22.71L8.34 -22.77Z" fill="#e0589c"/><path d="M2.96 -10.22L2.78 -10.19L2.72 -9.97L3.53 -8.40L3.54 -8.10L3.39 -7.75L3.13 -7.42L2.13 -6.89L1.78 -6.55L1.59 -6.09L1.63 -5.86L1.81 -5.68L2.48 -5.52L3.72 -5.52L5.16 -6.06L6.37 -5.66L6.61 -5.80L6.89 -6.34L8.06 -6.07L9.01 -6.21L9.26 -6.31L9.38 -6.47L9.38 -6.63L9.19 -6.79L8.10 -7.25L7.95 -7.38L8.04 -7.65L8.36 -8.12L8.42 -8.62L8.09 -9.28L7.69 -9.61L7.13 -9.84L6.59 -9.91L6.32 -9.83L5.63 -9.37L4.92 -9.77L3.99 -9.50Z" fill="#e264a6"/><path d="M-15.78 -6.42L-15.94 -6.34L-15.92 -6.16L-14.55 -5.24L-15.34 -4.91L-15.47 -4.76L-15.43 -4.61L-15.20 -4.52L-13.95 -4.44L-13.45 -3.75L-13.18 -3.61L-12.87 -3.66L-11.99 -4.09L-11.70 -4.16L-10.04 -3.88L-9.71 -3.90L-9.61 -4.18L-10.10 -4.80L-9.14 -5.41L-9.01 -5.65L-9.21 -5.91L-9.53 -6.04L-10.74 -6.23L-13.57 -5.81L-14.10 -5.82Z" fill="#26a855"/><path d="M-4.68 -4.45L-4.86 -4.37L-4.82 -4.13L-4.22 -3.27L-4.16 -3.08L-4.38 -2.73L-4.79 -2.33L-4.86 -2.07L-4.62 -1.96L-4.17 -2.12L-3.85 -2.13L-3.31 -0.89L-3.05 -0.70L-2.78 -0.92L-2.39 -2.08L-2.24 -2.26L-1.63 -2.22L-0.85 -1.99L-0.52 -2.03L-0.53 -2.31L-1.00 -2.66L-1.19 -2.90L0.04 -3.79L0.20 -4.02L0.10 -4.17L-0.16 -4.17L-1.50 -3.79L-1.79 -3.78L-1.94 -3.87L-2.30 -4.58L-2.57 -4.73L-2.84 -4.59L-3.40 -3.86L-3.54 -3.78L-3.72 -3.83Z" fill="#c8912c"/><path d="M0.74 1.15L0.63 1.46L0.91 2.18L0.04 2.78L-0.10 3.08L0.03 3.33L0.95 3.98L1.49 4.77L2.28 5.23L2.92 5.39L3.23 5.38L3.87 5.13L4.40 4.71L4.57 4.48L4.61 4.22L4.34 3.53L5.17 3.04L5.35 2.82L5.28 2.37L4.97 1.99L4.47 1.73L3.29 1.55L2.56 0.99L2.29 0.89L1.28 0.94Z" fill="#22b08e"/><g stroke-width=".7" stroke-linecap="square" fill="none"><path d="M-21.76 -12.11h.01M-26.49 -11.51h.01M-34.85 -9.19h.01M-27.75 -11.85h.01M-18.51 -10.51h.01M-25.62 -13.64h.01M-21.71 -11.11h.01M-35.67 -6.85h.01M-21.93 -13.15h.01M-23.08 -13.35h.01M-27.13 -12.19h.01M-31.15 -9.94h.01M-21.70 -12.15h.01M-27.92 -11.44h.01M-34.60 -9.23h.01M-20.12 -12.82h.01M-28.01 -12.52h.01M-26.51 -13.99h.01M-23.81 -13.59h.01M-21.80 -12.44h.01M-31.21 -11.45h.01M-33.58 -7.19h.01M-18.52 -10.68h.01M-34.52 -7.88h.01M-35.06 -8.11h.01M-35.08 -8.75h.01M-27.38 -7.86h.01M-31.86 -8.78h.01M-25.51 -11.35h.01M-32.30 -8.10h.01M-29.26 -7.84h.01M-21.28 -7.28h.01M-20.41 -9.08h.01M-21.42 -10.93h.01M-26.35 -11.02h.01M-26.40 -5.75h.01M-28.71 -10.92h.01M-24.75 -10.84h.01M-25.18 -10.97h.01M-27.41 -11.45h.01M-21.61 -8.91h.01M-30.91 -9.58h.01M-20.56 -10.22h.01M-27.73 -10.19h.01M-29.73 -9.96h.01M-28.82 -8.08h.01M-23.42 -9.08h.01M-30.00 -8.86h.01M-23.05 -6.78h.01M-24.77 -11.99h.01M-22.79 -11.67h.01M-27.50 -11.11h.01M-20.31 -9.57h.01M-24.54 -10.85h.01M-27.75 -8.16h.01M-24.98 -11.54h.01M-24.79 -11.90h.01M-21.91 -11.09h.01M-29.20 -6.60h.01M-20.79 -9.34h.01M-23.12 -3.83h.01M-22.92 -5.82h.01M-27.76 -8.59h.01M-23.63 -11.29h.01M-21.79 -10.93h.01M-30.79 -8.85h.01M-22.67 -10.79h.01M-23.26 -10.72h.01M-23.77 -11.36h.01M-22.57 -10.93h.01M-29.29 -10.19h.01M-29.52 -9.96h.01M-22.50 -11.00h.01M-21.46 -7.46h.01M-23.45 -11.50h.01M-25.18 -8.25h.01M-23.36 -11.83h.01M-26.70 -10.72h.01M-21.10 -8.50h.01M-25.37 -11.83h.01M-27.45 -11.55h.01M-20.43 -8.83h.01M-24.70 -9.75h.01M-29.98 -9.13h.01M-26.67 -9.15h.01M-24.10 -11.90h.01M-22.38 -11.04h.01M-29.23 -10.32h.01M-31.88 -9.06h.01M-29.13 -8.16h.01M-29.68 -10.70h.01M-28.20 -8.27h.01M-22.27 -11.32h.01M-25.82 -11.86h.01M-31.16 -8.68h.01M-20.93 -10.86h.01M-22.82 -11.14h.01M-30.92 -8.01h.01M-30.74 -7.81h.01M-22.21 -10.88h.01M-26.71 -10.17h.01M-25.21 -11.67h.01M-23.28 -11.18h.01M-27.61 -5.70h.01M-31.23 -8.44h.01M-23.33 -9.29h.01M-23.42 -9.91h.01M-30.84 -9.10h.01M-27.21 -11.28h.01M-23.71 -3.92h.01" stroke="#9687c3"/><path d="M-32.67 -0.86h.01M-30.88 -4.07h.01M-33.00 1.17h.01M-34.01 -4.22h.01M-30.76 -1.21h.01M-31.94 -4.62h.01M-33.75 -2.62h.01M-32.44 4.38h.01M-33.73 -2.86h.01M-32.85 -2.72h.01M-32.98 1.61h.01M-33.36 2.49h.01M-32.13 -1.96h.01M-31.58 -7.59h.01M-31.84 -0.41h.01M-33.10 -2.96h.01M-33.28 -5.85h.01M-31.95 0.19h.01M-33.10 0.58h.01M-30.71 -7.06h.01M-26.58 -2.61h.01M-28.54 -6.09h.01M-28.16 -1.92h.01M-30.39 1.23h.01M-29.77 -0.03h.01M-26.62 0.25h.01M-27.16 -1.97h.01M-30.08 -5.70h.01M-28.42 -1.85h.01M-31.22 -6.46h.01M-30.21 4.08h.01M-29.10 0.45h.01M-28.31 -0.44h.01M-29.84 -6.05h.01M-31.09 -6.29h.01M-32.36 -7.76h.01M-29.57 -6.32h.01M-29.58 -0.04h.01M-30.88 -4.44h.01M-30.47 -5.22h.01M-29.78 -5.18h.01M-30.82 -6.95h.01M-30.58 -4.29h.01M-28.60 1.47h.01M-30.28 4.38h.01M-28.25 2.22h.01M-30.96 2.83h.01M-31.38 -5.39h.01M-29.69 -3.85h.01M-30.18 -3.76h.01M-29.07 -0.92h.01M-27.94 -2.54h.01M-30.45 -4.90h.01M-27.66 -3.67h.01M-30.61 3.70h.01M-28.29 0.62h.01M-26.81 -1.89h.01M-29.16 -5.73h.01M-31.23 -7.47h.01M-30.41 -6.98h.01M-30.49 -6.09h.01M-29.69 -0.07h.01M-29.37 -5.22h.01M-29.69 2.40h.01M-31.80 -6.57h.01M-31.72 -6.53h.01M-27.60 -4.04h.01M-30.22 -4.99h.01M-30.54 -3.96h.01M-30.80 -5.61h.01M-31.80 -5.97h.01M-29.14 3.29h.01M-29.05 -4.32h.01M-30.21 2.37h.01M-30.63 4.13h.01M-29.94 -5.28h.01M-31.60 -7.65h.01M-30.22 -5.17h.01M-27.20 1.28h.01M-29.06 -3.57h.01M-30.14 -4.15h.01M-27.88 0.30h.01M-29.79 3.13h.01M-30.67 -4.74h.01M-30.37 0.64h.01M-26.62 -3.99h.01M-26.29 -3.67h.01M-30.77 -4.44h.01M-29.45 -2.35h.01M-30.84 -5.46h.01M-29.14 -1.64h.01M-31.58 -6.95h.01M-31.03 -7.31h.01M-25.73 -1.07h.01M-29.35 0.48h.01M-28.00 3.73h.01M-21.72 7.45h.01M-24.71 5.20h.01M-29.87 0.07h.01M-25.14 3.50h.01M-22.36 7.35h.01M-26.29 4.49h.01M-24.83 5.28h.01M-23.43 8.29h.01M-22.85 8.49h.01M-22.24 7.64h.01" stroke="#b27dbe"/><path d="M-36.86 9.35h.01M-37.69 8.48h.01M-33.41 16.39h.01M-36.41 4.84h.01M-37.33 9.80h.01M-35.39 6.48h.01M-33.98 13.16h.01M-37.19 8.38h.01M-34.73 12.30h.01M-34.67 7.81h.01M-34.70 12.07h.01M-34.73 13.78h.01M-34.86 8.17h.01M-31.05 16.88h.01M-34.57 15.84h.01M-36.20 8.90h.01M-35.38 6.69h.01M-36.68 8.97h.01M-36.33 13.02h.01M-36.59 8.11h.01M-38.14 10.57h.01M-37.80 11.24h.01M-37.68 11.42h.01M-33.05 4.09h.01M-32.62 16.89h.01M-35.76 6.90h.01M-37.67 7.38h.01M-35.65 5.95h.01M-31.52 -6.66h.01M-18.23 -12.92h.01M-32.79 3.09h.01M-34.33 8.63h.01M-33.51 9.10h.01M-34.20 8.42h.01M-31.99 13.56h.01M-33.31 11.49h.01M-34.01 9.00h.01M-29.93 12.31h.01M-34.29 10.40h.01M-33.52 10.40h.01M-31.84 6.00h.01M-32.25 7.82h.01M-33.56 12.45h.01M-32.49 13.65h.01M-32.70 6.39h.01M-33.64 11.39h.01M-32.03 9.86h.01M-34.26 10.76h.01M-32.14 9.03h.01M-32.36 11.52h.01M-32.59 13.02h.01M-29.59 6.38h.01M-33.56 13.08h.01M-32.49 14.06h.01M-34.41 11.68h.01M-33.11 6.88h.01M-30.98 6.08h.01M-33.31 9.94h.01M-32.75 12.42h.01M-33.94 9.38h.01M-29.11 11.34h.01M-33.67 9.11h.01" stroke="#45b4dc"/><path d="M-23.98 16.66h.01M-20.38 11.36h.01M-22.21 17.50h.01M-27.60 17.49h.01M-19.42 8.71h.01M-20.66 11.04h.01M-20.90 11.12h.01M-21.84 16.40h.01M-21.05 11.92h.01M-29.83 18.37h.01M-20.78 16.90h.01M-25.53 18.32h.01M-31.53 16.40h.01M-24.55 18.90h.01M-24.10 18.53h.01M-21.97 14.93h.01M-19.76 11.13h.01M-32.30 17.33h.01M-27.77 18.62h.01M-21.57 13.78h.01M-25.44 17.65h.01M-23.74 17.61h.01M-30.51 16.41h.01M-19.59 15.59h.01M-24.46 18.79h.01M-22.32 18.97h.01M-20.35 15.16h.01M-22.34 17.10h.01M-21.08 17.85h.01M-27.55 17.16h.01M-20.13 8.54h.01M-19.65 11.43h.01M-27.47 16.92h.01M-21.04 17.86h.01M-19.76 14.29h.01M-26.14 18.13h.01M-18.56 14.35h.01M-29.80 18.24h.01M-21.06 15.03h.01M-28.79 18.43h.01M-19.80 13.70h.01M-30.47 17.67h.01M-21.66 12.45h.01M-26.87 16.52h.01M-30.86 15.10h.01M-28.83 16.40h.01M-21.78 13.02h.01M-22.10 13.26h.01M-23.30 14.08h.01M-27.64 15.65h.01M-26.90 16.49h.01M-29.77 15.80h.01M-27.99 16.30h.01M-22.84 12.14h.01M-22.12 9.97h.01M-23.15 12.14h.01M-29.12 14.28h.01M-21.74 10.02h.01M-27.91 16.64h.01M-24.15 15.19h.01M-25.79 16.20h.01M-22.36 11.47h.01M-23.00 12.08h.01M-31.23 14.34h.01M-23.25 8.39h.01M-29.43 15.42h.01M-27.31 16.02h.01M-24.77 15.21h.01M-30.14 14.02h.01M-29.24 13.13h.01M-29.04 14.88h.01M-23.69 13.41h.01M-26.41 15.55h.01M-29.12 15.64h.01M-26.59 16.20h.01M-26.06 9.86h.01M-22.90 12.61h.01M-24.61 15.62h.01M-29.79 14.36h.01M-22.11 13.25h.01M-24.09 15.47h.01M-25.16 15.72h.01M-21.93 10.45h.01M-21.90 9.67h.01M-22.01 8.67h.01M-27.44 14.83h.01M-21.69 12.24h.01M-22.06 11.69h.01M-30.00 15.49h.01M-26.37 16.44h.01M-22.83 13.08h.01M-25.38 15.79h.01M-15.79 9.29h.01M-16.30 9.39h.01M-17.83 9.17h.01M-16.17 10.11h.01M-15.84 9.63h.01M-18.12 11.33h.01M-19.86 8.99h.01M-20.27 8.95h.01M-17.18 10.87h.01M-19.32 9.18h.01M-15.92 9.29h.01" stroke="#3f9fd8"/><path d="M-8.67 4.78h.01M-19.77 6.21h.01M-21.33 7.69h.01M-11.71 3.97h.01M-6.43 8.03h.01M-6.28 6.64h.01M-7.20 6.50h.01M-6.87 4.88h.01M-6.58 5.62h.01M-7.57 6.10h.01M-7.56 5.92h.01M-10.61 4.69h.01M-6.93 7.53h.01M-6.03 6.99h.01M-15.28 4.85h.01M-5.74 6.64h.01M-11.44 4.15h.01M-18.90 5.19h.01M-15.44 4.87h.01M-19.12 7.35h.01M-14.40 8.29h.01M-14.72 8.63h.01M-15.28 8.58h.01M-11.80 6.71h.01M-15.06 7.71h.01M-11.60 6.75h.01M-12.46 7.09h.01M-13.37 7.64h.01M-9.68 6.35h.01M-11.51 6.41h.01M-10.33 6.24h.01M-11.71 6.72h.01M-9.67 6.16h.01M-14.38 7.84h.01M-13.40 7.54h.01M-12.46 7.70h.01M-12.99 7.52h.01M-10.87 5.44h.01M-11.21 6.66h.01" stroke="#b79f38"/><path d="M-5.62 9.17h.01M-3.67 12.85h.01M-5.43 8.82h.01M-3.79 9.31h.01M-5.98 9.36h.01M-5.24 11.32h.01M-7.23 10.34h.01M-4.45 10.18h.01M-5.26 11.29h.01M-3.51 12.98h.01M-4.92 10.46h.01M-3.27 12.77h.01M-4.98 8.92h.01M-4.45 8.77h.01M-5.12 10.86h.01M-3.58 8.53h.01" stroke="#8ea030"/><path d="M18.73 8.08h.01M16.86 10.91h.01M22.97 10.40h.01M18.74 8.46h.01M17.30 11.04h.01M19.26 9.10h.01M21.56 7.54h.01M20.30 13.41h.01M15.87 14.29h.01M15.80 12.48h.01M21.65 11.98h.01M19.63 10.31h.01M19.82 9.51h.01M22.02 5.86h.01M19.03 9.15h.01M23.60 5.04h.01M19.84 9.12h.01M19.60 9.75h.01M23.75 10.34h.01M19.70 10.04h.01M19.15 7.82h.01M17.67 9.94h.01M19.82 12.06h.01M17.17 9.84h.01M17.25 14.15h.01M20.98 10.22h.01M22.93 8.68h.01M23.93 6.45h.01M20.81 7.25h.01M22.42 7.13h.01M16.99 10.82h.01M23.17 5.41h.01M20.45 10.20h.01M23.33 9.06h.01M22.70 11.14h.01M22.56 8.02h.01M17.87 10.67h.01M16.49 14.14h.01M22.07 9.31h.01M18.33 10.79h.01M18.69 9.82h.01M19.44 8.22h.01M17.76 12.66h.01M17.68 9.17h.01M18.65 9.73h.01M23.91 9.59h.01M22.56 7.62h.01M18.08 13.16h.01M21.14 9.66h.01M18.80 12.92h.01M17.55 12.89h.01M23.45 6.73h.01M16.55 11.19h.01M16.23 11.33h.01M21.47 6.77h.01M21.65 12.42h.01M22.30 10.32h.01M19.94 9.39h.01M23.38 5.62h.01M16.27 9.01h.01M20.49 11.10h.01" stroke="#5ca63e"/><path d="M-1.18 12.67h.01M0.58 13.70h.01M1.58 15.36h.01M-1.77 12.94h.01M-1.98 13.35h.01M-0.08 13.25h.01M-1.43 12.33h.01M0.71 11.90h.01M3.96 15.49h.01M0.63 14.97h.01M2.46 13.10h.01M-2.28 11.81h.01M0.95 14.54h.01M-2.75 13.00h.01M1.92 12.99h.01M-1.89 12.92h.01M0.84 13.26h.01M5.51 14.10h.01M5.01 13.49h.01M4.59 14.88h.01M-1.29 12.37h.01M-0.04 13.44h.01M-1.42 12.29h.01M2.66 14.24h.01M-0.01 14.52h.01M3.48 13.96h.01M4.21 15.00h.01M-1.83 12.85h.01M3.41 14.59h.01" stroke="#88a033"/><path d="M29.13 5.81h.01M26.80 8.57h.01M25.17 7.16h.01M26.12 8.10h.01M27.21 9.11h.01M26.30 5.71h.01M27.00 8.08h.01M24.67 8.14h.01M25.88 5.95h.01M24.06 10.53h.01M27.06 5.65h.01M27.54 6.28h.01M26.94 9.10h.01M25.20 7.95h.01M27.04 6.86h.01M23.96 9.42h.01M25.09 7.16h.01M27.78 8.33h.01M25.03 8.59h.01M25.16 7.70h.01M24.46 6.75h.01M24.41 8.73h.01M24.25 9.48h.01M26.31 5.85h.01M27.65 8.41h.01M24.04 7.95h.01M25.45 7.86h.01" stroke="#3ea846"/><path d="M27.76 2.34h.01M29.36 3.61h.01M29.05 -6.16h.01M31.47 0.53h.01M31.91 2.95h.01M24.98 -3.31h.01M26.32 2.83h.01M25.46 -2.96h.01M31.45 1.56h.01M23.85 -5.40h.01M28.43 0.65h.01M30.33 -0.31h.01M28.88 -2.41h.01M27.68 -7.42h.01M25.42 -6.75h.01M25.74 -0.08h.01M30.44 4.29h.01M27.78 -0.35h.01M29.80 -4.11h.01M28.94 -4.52h.01M30.68 -5.28h.01M25.45 -4.84h.01M25.38 -8.04h.01M30.44 -2.00h.01M23.20 -7.87h.01M25.99 -4.43h.01M31.18 0.89h.01M23.14 -3.94h.01M24.53 3.50h.01M22.80 -4.22h.01M31.19 1.84h.01M30.59 -0.08h.01M30.37 1.21h.01M27.35 0.42h.01M28.84 0.10h.01M31.57 -0.89h.01M27.59 -0.23h.01M26.21 -4.93h.01M32.62 1.49h.01M31.46 -0.15h.01M23.79 -2.45h.01M30.59 -4.27h.01M21.87 -5.51h.01M27.43 -5.44h.01M25.89 -5.06h.01M31.00 -2.34h.01M32.98 1.18h.01M32.18 0.41h.01M26.89 0.39h.01M24.60 -8.57h.01M25.18 -0.54h.01M29.07 2.22h.01M30.76 -0.74h.01M29.44 3.36h.01M26.26 -5.41h.01M24.47 -7.28h.01M28.95 -3.03h.01M27.37 -7.43h.01M30.07 -1.94h.01M30.42 1.76h.01M28.36 -3.02h.01M23.55 -3.59h.01M30.79 4.62h.01M30.50 -3.31h.01M25.55 2.04h.01M29.03 3.26h.01M23.40 -6.77h.01M31.26 -2.49h.01M26.82 -7.33h.01M26.24 1.75h.01M28.80 -0.37h.01M29.76 3.92h.01M29.55 -2.95h.01M31.79 -2.48h.01M28.56 2.54h.01M31.00 -4.97h.01M27.09 2.06h.01M30.65 0.11h.01M27.74 3.47h.01M30.27 -2.14h.01M28.79 0.38h.01M31.30 0.53h.01M30.29 -6.34h.01M32.22 3.53h.01M29.11 3.31h.01M31.85 0.23h.01M26.64 -1.94h.01M26.49 1.72h.01M28.75 -2.19h.01M25.07 -5.30h.01M27.54 0.46h.01M32.19 -1.64h.01M26.43 -5.57h.01M23.75 -5.80h.01M27.53 -6.64h.01M29.38 0.88h.01M26.66 -7.00h.01M25.65 -2.93h.01M22.48 -4.16h.01M30.48 -0.07h.01M23.64 -3.68h.01M26.81 6.14h.01M24.98 -3.06h.01M25.95 5.84h.01M32.21 -1.34h.01M27.30 3.24h.01M27.30 -5.24h.01M26.95 1.82h.01M25.44 -0.72h.01M26.87 -0.15h.01M25.31 -3.96h.01M30.59 -0.45h.01M24.91 -2.57h.01M31.26 -3.56h.01M31.92 -5.03h.01M26.39 -0.75h.01M26.94 -7.97h.01M29.21 5.22h.01M26.40 3.74h.01M24.60 3.22h.01M30.57 2.73h.01M31.20 -0.68h.01M23.49 4.48h.01M27.23 -4.05h.01M29.81 -1.11h.01M27.37 3.86h.01M27.86 -1.42h.01M30.11 -3.16h.01M24.91 1.75h.01M27.74 -5.31h.01M25.89 0.38h.01M30.90 4.97h.01M28.03 -0.79h.01M22.45 -6.42h.01M26.26 2.40h.01M27.26 -6.77h.01M30.81 -0.88h.01M29.04 1.11h.01M32.10 -3.39h.01M27.39 -2.62h.01M29.76 -5.37h.01M22.51 -5.63h.01M26.44 -2.70h.01M31.60 2.28h.01M31.85 0.26h.01M28.85 -0.50h.01M27.03 3.22h.01M25.92 -6.90h.01M24.25 4.04h.01M28.16 -1.14h.01M23.30 -6.56h.01M26.37 -3.31h.01M26.97 3.07h.01M28.69 3.73h.01M26.87 -2.01h.01M22.22 -2.78h.01M22.32 -4.72h.01M23.38 0.81h.01M23.81 -2.28h.01M23.73 -6.86h.01M19.74 -4.60h.01M21.53 -1.84h.01M23.52 -3.20h.01M22.24 -0.01h.01M21.25 -2.64h.01M22.07 0.55h.01" stroke="#2aa84a"/><path d="M11.49 15.14h.01M12.52 12.86h.01M7.97 13.88h.01M7.80 13.68h.01M13.23 14.53h.01M13.63 11.67h.01M12.32 14.71h.01M9.26 13.70h.01M14.04 12.62h.01M14.01 12.58h.01M8.59 14.71h.01M8.14 15.04h.01M13.48 11.45h.01M12.47 14.72h.01M7.11 15.03h.01M12.46 11.93h.01M6.60 13.01h.01M13.43 12.90h.01M10.62 15.03h.01M7.63 15.82h.01M5.74 14.71h.01M13.74 14.28h.01M13.10 12.75h.01M14.36 11.19h.01" stroke="#76a238"/><path d="M6.55 -17.94h.01M6.65 -20.65h.01M-3.46 -22.05h.01M-1.66 -21.79h.01M3.69 -19.56h.01M4.88 -18.13h.01M3.38 -17.43h.01M-5.73 -18.02h.01M7.98 -21.61h.01M7.55 -21.25h.01M-1.70 -20.37h.01M-2.19 -19.34h.01M-7.63 -18.48h.01M4.28 -20.37h.01M4.21 -23.31h.01M-2.77 -20.63h.01M0.91 -15.73h.01M-0.16 -19.08h.01M1.13 -18.81h.01M-3.64 -21.93h.01M-2.10 -21.89h.01M2.62 -23.46h.01M-3.93 -17.37h.01M1.41 -18.93h.01M-6.25 -17.32h.01M6.97 -22.88h.01M8.31 -22.70h.01M3.59 -20.57h.01M3.40 -21.44h.01M6.40 -18.20h.01M-5.74 -19.08h.01M5.49 -23.71h.01M-2.23 -19.57h.01M-0.65 -22.95h.01" stroke="#e66e68"/><path d="M-13.21 -11.07h.01M-2.34 -14.98h.01M-10.35 -14.25h.01M-5.25 -16.61h.01M-8.85 -15.81h.01M-9.60 -15.35h.01M-4.36 -15.22h.01M-6.16 -13.34h.01M-9.22 -11.55h.01M-14.55 -10.08h.01M-6.93 -15.73h.01M-8.05 -17.22h.01M-7.67 -17.27h.01M-10.60 -12.63h.01M-5.78 -16.27h.01M-3.71 -16.88h.01M-0.36 -16.00h.01M-6.81 -17.54h.01M-10.14 -15.79h.01M-4.60 -16.58h.01M-6.41 -15.52h.01M-9.17 -17.20h.01M-3.28 -16.00h.01M-6.46 -17.06h.01M-6.70 -13.91h.01M-1.05 -15.16h.01M-10.30 -15.58h.01M-3.88 -15.90h.01M-4.03 -14.52h.01M-7.36 -14.24h.01" stroke="#df8736"/><path d="M9.53 -21.22h.01M10.77 -20.28h.01M8.99 -18.08h.01M7.05 -19.00h.01M9.65 -18.13h.01M7.25 -18.06h.01M11.80 -19.06h.01M11.85 -19.01h.01M9.28 -18.07h.01M8.47 -18.62h.01M11.47 -18.45h.01M9.43 -18.45h.01M7.99 -18.31h.01M10.45 -18.40h.01M8.79 -18.72h.01M8.99 -18.29h.01M9.98 -18.68h.01M9.58 -18.81h.01M9.40 -18.78h.01M9.91 -17.90h.01" stroke="#e0589c"/><path d="M3.47 -8.56h.01M7.45 -6.60h.01M3.61 -9.28h.01M5.60 -6.97h.01M5.59 -8.77h.01M8.79 -8.59h.01M7.14 -5.96h.01M7.26 -7.53h.01M5.99 -7.18h.01M7.01 -6.48h.01M1.64 -7.57h.01M5.00 -7.73h.01" stroke="#e264a6"/><path d="M-14.57 -5.88h.01M-11.99 -5.55h.01M-12.58 -5.98h.01" stroke="#26a855"/><path d="M-3.81 -2.59h.01M-3.68 -2.51h.01M-1.85 -2.37h.01M-3.49 -3.85h.01M-3.27 -1.68h.01M-4.34 -3.74h.01M-5.05 -2.70h.01" stroke="#c8912c"/><path d="M2.61 4.01h.01M1.55 4.42h.01M1.40 1.84h.01M2.53 3.45h.01M2.36 1.83h.01M1.76 7.25h.01M4.02 1.72h.01M3.19 2.07h.01M4.17 2.16h.01M3.71 2.23h.01M1.74 -0.14h.01" stroke="#22b08e"/><path d="M8.38 -0.54h.01M15.30 -0.54h.01M8.98 0.49h.01M18.90 0.24h.01M10.44 -0.21h.01M15.43 0.42h.01M12.19 0.63h.01M17.48 0.88h.01M15.11 0.04h.01M15.39 0.33h.01M9.51 0.66h.01M9.92 0.75h.01M12.46 0.55h.01M17.15 1.09h.01M12.09 0.46h.01M14.21 1.38h.01M9.65 -0.72h.01M13.85 0.51h.01M19.04 0.16h.01M13.83 1.37h.01M5.71 -0.02h.01M9.58 0.11h.01M8.06 -0.08h.01M10.28 0.39h.01M6.57 -0.33h.01M15.71 0.36h.01M9.23 -0.27h.01M14.96 -0.47h.01M13.30 0.15h.01M15.02 0.51h.01M13.11 0.51h.01M13.34 -0.18h.01M15.16 -0.05h.01M13.56 0.06h.01M12.04 -0.23h.01M10.78 0.65h.01M10.61 -0.64h.01M7.87 0.97h.01M12.91 0.39h.01M9.20 1.24h.01M10.40 0.19h.01M10.56 1.50h.01M11.09 0.30h.01M23.28 3.93h.01M19.25 1.49h.01M21.44 -0.04h.01M15.44 3.35h.01M18.31 3.80h.01M16.87 3.10h.01M17.08 -0.20h.01M18.88 0.80h.01M15.98 -0.32h.01M14.56 4.35h.01M18.25 5.69h.01M15.24 2.99h.01M20.46 0.89h.01M17.55 1.55h.01M20.04 5.43h.01M17.18 5.57h.01M21.23 -1.03h.01M24.05 -0.98h.01M21.51 -0.79h.01M20.00 0.22h.01M21.91 -0.66h.01M20.76 -0.65h.01M21.55 -0.27h.01M22.53 -0.56h.01M21.66 0.07h.01M20.86 0.93h.01M24.30 0.18h.01M22.47 -1.21h.01M19.63 1.39h.01M20.63 4.71h.01M21.44 4.91h.01M19.32 2.66h.01" stroke="#4673c4"/><path d="M17.80 -13.36h.01M15.38 -15.68h.01M15.09 -15.78h.01M17.33 -13.81h.01" stroke="#c24fa8"/><path d="M10.77 -5.41h.01M10.02 -5.31h.01" stroke="#e88aa0"/><path d="M3.80 -15.40h.01M3.14 -16.22h.01M4.36 -17.08h.01M7.62 -18.36h.01M6.04 -17.25h.01M3.84 -16.12h.01M5.62 -16.10h.01M3.75 -17.08h.01M6.53 -18.95h.01M3.93 -17.43h.01M2.74 -19.17h.01M2.80 -14.82h.01M7.14 -18.53h.01M4.13 -18.20h.01M3.88 -13.86h.01M4.28 -16.99h.01M4.29 -15.47h.01M2.27 -16.39h.01M2.12 -17.09h.01M3.20 -18.94h.01M5.44 -17.34h.01M3.75 -17.78h.01M4.05 -21.04h.01M5.41 -18.23h.01M3.97 -19.78h.01M3.89 -14.76h.01M1.80 -18.90h.01M7.60 -15.22h.01M2.71 -18.42h.01M0.98 -18.16h.01M4.90 -16.47h.01M5.63 -16.65h.01M2.79 -20.88h.01M9.56 -18.75h.01M8.62 -17.98h.01M7.81 -19.06h.01M9.45 -18.54h.01M8.31 -19.00h.01M9.72 -18.71h.01M9.37 -17.87h.01" stroke="#fff"/></g></g></defs><g class="ab"><text x="1.0" y="19.9" font-size="9.50" text-anchor="start" fill="#000" stroke="#000" font-weight="bold">A</text><use href="#ump"/><use href="#umda"/><path d="M41.70 13.10L41.70 189.40" stroke="#000" stroke-width="0.65"/><path d="M41.40 189.10L204.90 189.10" stroke="#000" stroke-width="0.65"/><path d="M39.70 43.40L41.70 43.40" stroke="#000" stroke-width="0.65"/><text x="38.5" y="46.0" font-size="7.30" text-anchor="end" fill="#000" stroke="#000" >10</text><path d="M39.70 76.60L41.70 76.60" stroke="#000" stroke-width="0.65"/><text x="38.5" y="79.2" font-size="7.30" text-anchor="end" fill="#000" stroke="#000" >5</text><path d="M39.70 109.80L41.70 109.80" stroke="#000" stroke-width="0.65"/><text x="38.5" y="112.4" font-size="7.30" text-anchor="end" fill="#000" stroke="#000" >0</text><path d="M39.70 143.00L41.70 143.00" stroke="#000" stroke-width="0.65"/><text x="38.5" y="145.6" font-size="7.30" text-anchor="end" fill="#000" stroke="#000" >−5</text><path d="M39.70 176.20L41.70 176.20" stroke="#000" stroke-width="0.65"/><text x="38.5" y="178.8" font-size="7.30" text-anchor="end" fill="#000" stroke="#000" >−10</text><path d="M68.30 189.10L68.30 191.10" stroke="#000" stroke-width="0.65"/><text x="68.3" y="198.4" font-size="7.30" text-anchor="middle" fill="#000" stroke="#000" >−10</text><path d="M98.80 189.10L98.80 191.10" stroke="#000" stroke-width="0.65"/><text x="98.8" y="198.4" font-size="7.30" text-anchor="middle" fill="#000" stroke="#000" >−5</text><path d="M129.30 189.10L129.30 191.10" stroke="#000" stroke-width="0.65"/><text x="129.3" y="198.4" font-size="7.30" text-anchor="middle" fill="#000" stroke="#000" >0</text><path d="M159.80 189.10L159.80 191.10" stroke="#000" stroke-width="0.65"/><text x="159.8" y="198.4" font-size="7.30" text-anchor="middle" fill="#000" stroke="#000" >5</text><path d="M190.30 189.10L190.30 191.10" stroke="#000" stroke-width="0.65"/><text x="190.3" y="198.4" font-size="7.30" text-anchor="middle" fill="#000" stroke="#000" >10</text><text x="122.0" y="208.4" font-size="7.75" text-anchor="middle" fill="#000" stroke="#000" >umap_1</text><text transform="translate(21.3 102.4) rotate(-90)" font-size="7.75" text-anchor="middle">umap_2</text><text x="124.5" y="32.7" font-size="7.65" text-anchor="middle" fill="#000" stroke="#000" >diffSPG_1</text><text x="155.5" y="38.6" font-size="7.65" text-anchor="middle" fill="#000" stroke="#000" >undiffSPG</text><text x="115.1" y="57.9" font-size="7.65" text-anchor="middle" fill="#000" stroke="#000" >diffSPG_2</text><text x="163.9" y="58.7" font-size="7.65" text-anchor="middle" fill="#000" stroke="#000" >Tcell</text><text x="74.7" y="71.4" font-size="7.65" text-anchor="middle" fill="#000" stroke="#000" >Spermatocyte_1</text><text x="73.1" y="103.3" font-size="7.65" text-anchor="middle" fill="#000" stroke="#000" >Spermatocyte_2</text><text x="103.0" y="95.5" font-size="7.65" text-anchor="middle" fill="#000" stroke="#000" >Leydig</text><text x="124.4" y="101.0" font-size="7.65" text-anchor="middle" fill="#000" stroke="#000" >EC</text><text x="141.8" y="83.0" font-size="7.65" text-anchor="middle" fill="#000" stroke="#000" >Telocyte</text><text x="150.5" y="95.5" font-size="7.65" text-anchor="middle" fill="#000" stroke="#000" >myoid</text><text x="184.5" y="101.7" font-size="7.65" text-anchor="middle" fill="#000" stroke="#000" >eSpermatid</text><text x="157.6" y="114.8" font-size="7.65" text-anchor="middle" fill="#000" stroke="#000" >Sertoli</text><text x="138.5" y="120.5" font-size="7.65" text-anchor="middle" fill="#000" stroke="#000" >macrophage</text><text x="107.3" y="130.0" font-size="7.65" text-anchor="middle" fill="#000" stroke="#000" >eSpermatids_1</text><text x="130.9" y="162.6" font-size="7.65" text-anchor="middle" fill="#000" stroke="#000" >eSpermatids_2</text><text x="177.2" y="151.3" font-size="7.65" text-anchor="middle" fill="#000" stroke="#000" >eSpermatids_3</text><text x="68.6" y="152.2" font-size="7.65" text-anchor="middle" fill="#000" stroke="#000" >rSpermatids_1</text><text x="86.5" y="173.6" font-size="7.65" text-anchor="middle" fill="#000" stroke="#000" >rSpermatids_2</text></g><g class="ab"><text x="218.2" y="19.8" font-size="9.50" text-anchor="start" fill="#000" stroke="#000" font-weight="bold">B</text><use href="#umB" transform="translate(326.10 39.70)"/><text x="323.3" y="10.4" font-size="7.60" text-anchor="middle" fill="#000" stroke="#000" >TO1</text><path d="M283.60 13.10L283.60 61.30" stroke="#000" stroke-width="0.65"/><path d="M281.60 21.60L283.60 21.60" stroke="#000" stroke-width="0.65"/><text x="280.4" y="24.2" font-size="7.30" text-anchor="end" fill="#000" stroke="#000" >10</text><path d="M281.60 30.65L283.60 30.65" stroke="#000" stroke-width="0.65"/><text x="280.4" y="33.2" font-size="7.30" text-anchor="end" fill="#000" stroke="#000" >5</text><path d="M281.60 39.70L283.60 39.70" stroke="#000" stroke-width="0.65"/><text x="280.4" y="42.3" font-size="7.30" text-anchor="end" fill="#000" stroke="#000" >0</text><path d="M281.60 48.75L283.60 48.75" stroke="#000" stroke-width="0.65"/><text x="280.4" y="51.4" font-size="7.30" text-anchor="end" fill="#000" stroke="#000" >−5</text><path d="M281.60 57.80L283.60 57.80" stroke="#000" stroke-width="0.65"/><text x="280.4" y="60.4" font-size="7.30" text-anchor="end" fill="#000" stroke="#000" >−10</text><use href="#umB" transform="translate(409.40 39.70)"/><text x="406.6" y="10.4" font-size="7.60" text-anchor="middle" fill="#000" stroke="#000" >TO2</text><use href="#umB" transform="translate(326.10 103.60)"/><text x="323.3" y="74.3" font-size="7.60" text-anchor="middle" fill="#000" stroke="#000" >TO3</text><path d="M283.60 77.00L283.60 125.20" stroke="#000" stroke-width="0.65"/><path d="M281.60 85.50L283.60 85.50" stroke="#000" stroke-width="0.65"/><text x="280.4" y="88.1" font-size="7.30" text-anchor="end" fill="#000" stroke="#000" >10</text><path d="M281.60 94.55L283.60 94.55" stroke="#000" stroke-width="0.65"/><text x="280.4" y="97.1" font-size="7.30" text-anchor="end" fill="#000" stroke="#000" >5</text><path d="M281.60 103.60L283.60 103.60" stroke="#000" stroke-width="0.65"/><text x="280.4" y="106.2" font-size="7.30" text-anchor="end" fill="#000" stroke="#000" >0</text><path d="M281.60 112.65L283.60 112.65" stroke="#000" stroke-width="0.65"/><text x="280.4" y="115.2" font-size="7.30" text-anchor="end" fill="#000" stroke="#000" >−5</text><path d="M281.60 121.70L283.60 121.70" stroke="#000" stroke-width="0.65"/><text x="280.4" y="124.3" font-size="7.30" text-anchor="end" fill="#000" stroke="#000" >−10</text><use href="#umB" transform="translate(409.40 103.60)"/><text x="406.6" y="74.3" font-size="7.60" text-anchor="middle" fill="#000" stroke="#000" >TY1</text><use href="#umB" transform="translate(326.10 167.30)"/><text x="323.3" y="138.0" font-size="7.60" text-anchor="middle" fill="#000" stroke="#000" >TY2</text><path d="M283.60 140.70L283.60 188.90" stroke="#000" stroke-width="0.65"/><path d="M281.60 149.20L283.60 149.20" stroke="#000" stroke-width="0.65"/><text x="280.4" y="151.8" font-size="7.30" text-anchor="end" fill="#000" stroke="#000" >10</text><path d="M281.60 158.25L283.60 158.25" stroke="#000" stroke-width="0.65"/><text x="280.4" y="160.8" font-size="7.30" text-anchor="end" fill="#000" stroke="#000" >5</text><path d="M281.60 167.30L283.60 167.30" stroke="#000" stroke-width="0.65"/><text x="280.4" y="169.9" font-size="7.30" text-anchor="end" fill="#000" stroke="#000" >0</text><path d="M281.60 176.35L283.60 176.35" stroke="#000" stroke-width="0.65"/><text x="280.4" y="179.0" font-size="7.30" text-anchor="end" fill="#000" stroke="#000" >−5</text><path d="M281.60 185.40L283.60 185.40" stroke="#000" stroke-width="0.65"/><text x="280.4" y="188.0" font-size="7.30" text-anchor="end" fill="#000" stroke="#000" >−10</text><path d="M283.30 188.90L363.00 188.90" stroke="#000" stroke-width="0.65"/><path d="M296.70 188.90L296.70 190.90" stroke="#000" stroke-width="0.65"/><text x="296.7" y="198.4" font-size="7.30" text-anchor="middle" fill="#000" stroke="#000" >−10</text><path d="M311.40 188.90L311.40 190.90" stroke="#000" stroke-width="0.65"/><text x="311.4" y="198.4" font-size="7.30" text-anchor="middle" fill="#000" stroke="#000" >−5</text><path d="M326.10 188.90L326.10 190.90" stroke="#000" stroke-width="0.65"/><text x="326.1" y="198.4" font-size="7.30" text-anchor="middle" fill="#000" stroke="#000" >0</text><path d="M340.80 188.90L340.80 190.90" stroke="#000" stroke-width="0.65"/><text x="340.8" y="198.4" font-size="7.30" text-anchor="middle" fill="#000" stroke="#000" >5</text><path d="M355.50 188.90L355.50 190.90" stroke="#000" stroke-width="0.65"/><text x="355.5" y="198.4" font-size="7.30" text-anchor="middle" fill="#000" stroke="#000" >10</text><use href="#umB" transform="translate(409.40 167.30)"/><text x="406.6" y="138.0" font-size="7.60" text-anchor="middle" fill="#000" stroke="#000" >TY3</text><path d="M366.90 188.90L446.60 188.90" stroke="#000" stroke-width="0.65"/><path d="M380.00 188.90L380.00 190.90" stroke="#000" stroke-width="0.65"/><text x="380.0" y="198.4" font-size="7.30" text-anchor="middle" fill="#000" stroke="#000" >−10</text><path d="M394.70 188.90L394.70 190.90" stroke="#000" stroke-width="0.65"/><text x="394.7" y="198.4" font-size="7.30" text-anchor="middle" fill="#000" stroke="#000" >−5</text><path d="M409.40 188.90L409.40 190.90" stroke="#000" stroke-width="0.65"/><text x="409.4" y="198.4" font-size="7.30" text-anchor="middle" fill="#000" stroke="#000" >0</text><path d="M424.10 188.90L424.10 190.90" stroke="#000" stroke-width="0.65"/><text x="424.1" y="198.4" font-size="7.30" text-anchor="middle" fill="#000" stroke="#000" >5</text><path d="M438.80 188.90L438.80 190.90" stroke="#000" stroke-width="0.65"/><text x="438.8" y="198.4" font-size="7.30" text-anchor="middle" fill="#000" stroke="#000" >10</text><text x="363.3" y="208.6" font-size="7.75" text-anchor="middle" fill="#000" stroke="#000" >umap_1</text><text transform="translate(263.6 102.4) rotate(-90)" font-size="7.75" text-anchor="middle">umap_2</text></g><g><text x="1.0" y="237.2" font-size="9.50" text-anchor="start" fill="#000" stroke="#000" font-weight="bold">C</text><rect x="19.3" y="252.00" width="3.8" height="5.77" fill="#f08a80"/><rect x="19.3" y="257.72" width="3.8" height="5.77" fill="#f08a80"/><rect x="19.3" y="263.43" width="3.8" height="5.77" fill="#7fa8d8"/><rect x="19.3" y="269.15" width="3.8" height="5.77" fill="#7fa8d8"/><rect x="19.3" y="274.86" width="3.8" height="5.77" fill="#d8bc30"/><rect x="19.3" y="280.58" width="3.8" height="5.77" fill="#d8bc30"/><rect x="19.3" y="286.30" width="3.8" height="5.77" fill="#d87ab8"/><rect x="19.3" y="292.01" width="3.8" height="5.77" fill="#d87ab8"/><rect x="19.3" y="297.73" width="3.8" height="5.77" fill="#d87ab8"/><rect x="19.3" y="303.44" width="3.8" height="5.77" fill="#d87ab8"/><rect x="19.3" y="309.16" width="3.8" height="5.77" fill="#c094c8"/><rect x="19.3" y="314.88" width="3.8" height="5.77" fill="#c094c8"/><rect x="19.3" y="320.59" width="3.8" height="5.77" fill="#c094c8"/><rect x="19.3" y="326.31" width="3.8" height="5.77" fill="#c094c8"/><rect x="19.3" y="332.02" width="3.8" height="5.77" fill="#c094c8"/><rect x="19.3" y="337.74" width="3.8" height="5.77" fill="#4cb48c"/><rect x="19.3" y="343.46" width="3.8" height="5.77" fill="#4cb48c"/><rect x="19.3" y="349.17" width="3.8" height="5.77" fill="#4cb48c"/><rect x="19.3" y="354.89" width="3.8" height="5.77" fill="#44b8c0"/><rect x="19.3" y="360.60" width="3.8" height="5.77" fill="#44b8c0"/><rect x="19.3" y="366.32" width="3.8" height="5.77" fill="#3cb4e8"/><rect x="19.3" y="372.04" width="3.8" height="5.77" fill="#3cb4e8"/><rect x="19.3" y="377.75" width="3.8" height="5.77" fill="#f0a034"/><rect x="19.3" y="383.47" width="3.8" height="5.77" fill="#f0a034"/><rect x="19.3" y="389.18" width="3.8" height="5.77" fill="#44a850"/><rect x="19.3" y="394.90" width="3.8" height="5.77" fill="#44a850"/><rect x="19.3" y="400.62" width="3.8" height="5.77" fill="#44a850"/><rect x="19.3" y="406.33" width="3.8" height="5.77" fill="#44a850"/><rect x="19.3" y="412.05" width="3.8" height="5.77" fill="#90c440"/><rect x="19.3" y="417.76" width="3.8" height="5.77" fill="#90c440"/><rect x="19.3" y="423.48" width="3.8" height="5.77" fill="#e878a8"/><rect x="19.3" y="429.20" width="3.8" height="5.77" fill="#e878a8"/><rect x="23.1" y="252.00" width="1.4" height="182.91" fill="#d4d4d4"/><rect x="24.50" y="252.00" width="113.40" height="182.91" fill="#add8e6"/><rect x="68.60" y="252.00" width="6.30" height="5.72" fill="#b4c8d6"/><rect x="74.90" y="252.00" width="6.30" height="5.72" fill="#b4c8d6"/><rect x="81.20" y="252.00" width="6.30" height="5.72" fill="#b4c8d6"/><rect x="106.40" y="252.00" width="6.30" height="5.72" fill="#e2343a"/><rect x="125.30" y="252.00" width="6.30" height="5.72" fill="#b1cedc"/><rect x="106.40" y="257.72" width="6.30" height="5.72" fill="#e2343a"/><rect x="74.90" y="263.43" width="6.30" height="5.72" fill="#e2343a"/><rect x="106.40" y="263.43" width="6.30" height="5.72" fill="#c3b1bd"/><rect x="125.30" y="263.43" width="6.30" height="5.72" fill="#dd666e"/><rect x="131.60" y="263.43" width="6.30" height="5.72" fill="#c2b4c0"/><rect x="106.40" y="269.15" width="6.30" height="5.72" fill="#c2b4c0"/><rect x="125.30" y="269.15" width="6.30" height="5.72" fill="#c6adb8"/><rect x="131.60" y="269.15" width="6.30" height="5.72" fill="#e2343a"/><rect x="112.70" y="274.86" width="6.30" height="5.72" fill="#e2343a"/><rect x="119.00" y="274.86" width="6.30" height="5.72" fill="#b8c3d0"/><rect x="24.50" y="280.58" width="6.30" height="5.72" fill="#b2ccda"/><rect x="56.00" y="280.58" width="6.30" height="5.72" fill="#c9a6b1"/><rect x="62.30" y="280.58" width="6.30" height="5.72" fill="#b4c8d6"/><rect x="68.60" y="280.58" width="6.30" height="5.72" fill="#b8c2cf"/><rect x="74.90" y="280.58" width="6.30" height="5.72" fill="#b8c2cf"/><rect x="81.20" y="280.58" width="6.30" height="5.72" fill="#b8c2cf"/><rect x="87.50" y="280.58" width="6.30" height="5.72" fill="#b8c2cf"/><rect x="93.80" y="280.58" width="6.30" height="5.72" fill="#b8c2cf"/><rect x="100.10" y="280.58" width="6.30" height="5.72" fill="#b8c2cf"/><rect x="106.40" y="280.58" width="6.30" height="5.72" fill="#c6adb8"/><rect x="112.70" y="280.58" width="6.30" height="5.72" fill="#d6828b"/><rect x="119.00" y="280.58" width="6.30" height="5.72" fill="#e2343a"/><rect x="125.30" y="280.58" width="6.30" height="5.72" fill="#beb9c6"/><rect x="131.60" y="280.58" width="6.30" height="5.72" fill="#b0d0de"/><rect x="37.10" y="286.30" width="6.30" height="5.72" fill="#bbbecb"/><rect x="56.00" y="286.30" width="6.30" height="5.72" fill="#d098a2"/><rect x="62.30" y="286.30" width="6.30" height="5.72" fill="#e2343a"/><rect x="56.00" y="292.01" width="6.30" height="5.72" fill="#de5e66"/><rect x="62.30" y="292.01" width="6.30" height="5.72" fill="#e2343a"/><rect x="112.70" y="292.01" width="6.30" height="5.72" fill="#b4c8d6"/><rect x="119.00" y="292.01" width="6.30" height="5.72" fill="#c2b4c0"/><rect x="56.00" y="297.73" width="6.30" height="5.72" fill="#d098a2"/><rect x="62.30" y="297.73" width="6.30" height="5.72" fill="#e2343a"/><rect x="37.10" y="303.44" width="6.30" height="5.72" fill="#b4c8d6"/><rect x="56.00" y="303.44" width="6.30" height="5.72" fill="#c9a6b1"/><rect x="62.30" y="303.44" width="6.30" height="5.72" fill="#e2343a"/><rect x="24.50" y="309.16" width="6.30" height="5.72" fill="#c9a6b1"/><rect x="30.80" y="309.16" width="6.30" height="5.72" fill="#c6adb8"/><rect x="37.10" y="309.16" width="6.30" height="5.72" fill="#d97780"/><rect x="43.40" y="309.16" width="6.30" height="5.72" fill="#e04249"/><rect x="49.70" y="309.16" width="6.30" height="5.72" fill="#e2343a"/><rect x="87.50" y="309.16" width="6.30" height="5.72" fill="#b2ccda"/><rect x="93.80" y="309.16" width="6.30" height="5.72" fill="#b5c6d4"/><rect x="100.10" y="309.16" width="6.30" height="5.72" fill="#b2ccda"/><rect x="24.50" y="314.88" width="6.30" height="5.72" fill="#c6adb8"/><rect x="30.80" y="314.88" width="6.30" height="5.72" fill="#d97780"/><rect x="37.10" y="314.88" width="6.30" height="5.72" fill="#d6828b"/><rect x="43.40" y="314.88" width="6.30" height="5.72" fill="#de5e66"/><rect x="49.70" y="314.88" width="6.30" height="5.72" fill="#e04249"/><rect x="24.50" y="320.59" width="6.30" height="5.72" fill="#c6adb8"/><rect x="30.80" y="320.59" width="6.30" height="5.72" fill="#e2343a"/><rect x="37.10" y="320.59" width="6.30" height="5.72" fill="#cc9faa"/><rect x="43.40" y="320.59" width="6.30" height="5.72" fill="#d6828b"/><rect x="49.70" y="320.59" width="6.30" height="5.72" fill="#d97780"/><rect x="24.50" y="326.31" width="6.30" height="5.72" fill="#bbbecb"/><rect x="30.80" y="326.31" width="6.30" height="5.72" fill="#bbbecb"/><rect x="37.10" y="326.31" width="6.30" height="5.72" fill="#d6828b"/><rect x="43.40" y="326.31" width="6.30" height="5.72" fill="#df5057"/><rect x="49.70" y="326.31" width="6.30" height="5.72" fill="#e2343a"/><rect x="24.50" y="332.02" width="6.30" height="5.72" fill="#beb9c6"/><rect x="30.80" y="332.02" width="6.30" height="5.72" fill="#beb9c6"/><rect x="37.10" y="332.02" width="6.30" height="5.72" fill="#d97780"/><rect x="43.40" y="332.02" width="6.30" height="5.72" fill="#e04249"/><rect x="49.70" y="332.02" width="6.30" height="5.72" fill="#e2343a"/><rect x="24.50" y="337.74" width="6.30" height="5.72" fill="#e2343a"/><rect x="24.50" y="343.46" width="6.30" height="5.72" fill="#e2343a"/><rect x="24.50" y="349.17" width="6.30" height="5.72" fill="#e2343a"/><rect x="81.20" y="354.89" width="6.30" height="5.72" fill="#e2343a"/><rect x="81.20" y="360.60" width="6.30" height="5.72" fill="#e2343a"/><rect x="74.90" y="366.32" width="6.30" height="5.72" fill="#e2343a"/><rect x="74.90" y="372.04" width="6.30" height="5.72" fill="#e2343a"/><rect x="100.10" y="377.75" width="6.30" height="5.72" fill="#e2343a"/><rect x="100.10" y="383.47" width="6.30" height="5.72" fill="#e2343a"/><rect x="68.60" y="389.18" width="6.30" height="5.72" fill="#e2343a"/><rect x="74.90" y="389.18" width="6.30" height="5.72" fill="#c1b6c2"/><rect x="87.50" y="389.18" width="6.30" height="5.72" fill="#b0d0de"/><rect x="106.40" y="389.18" width="6.30" height="5.72" fill="#b1cedc"/><rect x="68.60" y="394.90" width="6.30" height="5.72" fill="#e2343a"/><rect x="68.60" y="400.62" width="6.30" height="5.72" fill="#e2343a"/><rect x="81.20" y="400.62" width="6.30" height="5.72" fill="#d48b94"/><rect x="68.60" y="406.33" width="6.30" height="5.72" fill="#e2343a"/><rect x="74.90" y="406.33" width="6.30" height="5.72" fill="#bbbecb"/><rect x="87.50" y="406.33" width="6.30" height="5.72" fill="#c2b4c0"/><rect x="87.50" y="412.05" width="6.30" height="5.72" fill="#b3cad8"/><rect x="93.80" y="412.05" width="6.30" height="5.72" fill="#e2343a"/><rect x="93.80" y="417.76" width="6.30" height="5.72" fill="#e2343a"/><rect x="131.60" y="417.76" width="6.30" height="5.72" fill="#b8c3d0"/><rect x="87.50" y="423.48" width="6.30" height="5.72" fill="#e2343a"/><rect x="87.50" y="429.20" width="6.30" height="5.72" fill="#e2343a"/><path d="M24.50 252.00v182.91M30.80 252.00v182.91M37.10 252.00v182.91M43.40 252.00v182.91M49.70 252.00v182.91M56.00 252.00v182.91M62.30 252.00v182.91M68.60 252.00v182.91M74.90 252.00v182.91M81.20 252.00v182.91M87.50 252.00v182.91M93.80 252.00v182.91M100.10 252.00v182.91M106.40 252.00v182.91M112.70 252.00v182.91M119.00 252.00v182.91M125.30 252.00v182.91M131.60 252.00v182.91M137.90 252.00v182.91M24.50 252.00h113.40M24.50 257.72h113.40M24.50 263.43h113.40M24.50 269.15h113.40M24.50 274.86h113.40M24.50 280.58h113.40M24.50 286.30h113.40M24.50 292.01h113.40M24.50 297.73h113.40M24.50 303.44h113.40M24.50 309.16h113.40M24.50 314.88h113.40M24.50 320.59h113.40M24.50 326.31h113.40M24.50 332.02h113.40M24.50 337.74h113.40M24.50 343.46h113.40M24.50 349.17h113.40M24.50 354.89h113.40M24.50 360.60h113.40M24.50 366.32h113.40M24.50 372.04h113.40M24.50 377.75h113.40M24.50 383.47h113.40M24.50 389.18h113.40M24.50 394.90h113.40M24.50 400.62h113.40M24.50 406.33h113.40M24.50 412.05h113.40M24.50 417.76h113.40M24.50 423.48h113.40M24.50 429.20h113.40M24.50 434.91h113.40" stroke="#8a9298" stroke-width=".5" fill="none"/><text x="139.0" y="256.5" font-size="4.70" text-anchor="start" fill="#111" stroke="#111"  stroke-width="0">Zbtb16</text><text x="139.0" y="262.2" font-size="4.70" text-anchor="start" fill="#111" stroke="#111"  stroke-width="0">Lin28a</text><text x="139.0" y="267.9" font-size="4.70" text-anchor="start" fill="#111" stroke="#111"  stroke-width="0">Kit</text><text x="139.0" y="273.7" font-size="4.70" text-anchor="start" fill="#111" stroke="#111"  stroke-width="0">Stra8</text><text x="139.0" y="279.4" font-size="4.70" text-anchor="start" fill="#111" stroke="#111"  stroke-width="0">Piwil1</text><text x="139.0" y="285.1" font-size="4.70" text-anchor="start" fill="#111" stroke="#111"  stroke-width="0">Pttg1</text><text x="139.0" y="290.8" font-size="4.70" text-anchor="start" fill="#111" stroke="#111"  stroke-width="0">Acrv1</text><text x="139.0" y="296.5" font-size="4.70" text-anchor="start" fill="#111" stroke="#111"  stroke-width="0">Tex21</text><text x="139.0" y="302.2" font-size="4.70" text-anchor="start" fill="#111" stroke="#111"  stroke-width="0">Spaca1</text><text x="139.0" y="308.0" font-size="4.70" text-anchor="start" fill="#111" stroke="#111"  stroke-width="0">Spaca3</text><text x="139.0" y="313.7" font-size="4.70" text-anchor="start" fill="#111" stroke="#111"  stroke-width="0">Cby3</text><text x="139.0" y="319.4" font-size="4.70" text-anchor="start" fill="#111" stroke="#111"  stroke-width="0">Prm1</text><text x="139.0" y="325.1" font-size="4.70" text-anchor="start" fill="#111" stroke="#111"  stroke-width="0">Prm2</text><text x="139.0" y="330.8" font-size="4.70" text-anchor="start" fill="#111" stroke="#111"  stroke-width="0">Tnp1</text><text x="139.0" y="336.5" font-size="4.70" text-anchor="start" fill="#111" stroke="#111"  stroke-width="0">Tnp2</text><text x="139.0" y="342.2" font-size="4.70" text-anchor="start" fill="#111" stroke="#111"  stroke-width="0">Ccl12</text><text x="139.0" y="348.0" font-size="4.70" text-anchor="start" fill="#111" stroke="#111"  stroke-width="0">Cldn11</text><text x="139.0" y="353.7" font-size="4.70" text-anchor="start" fill="#111" stroke="#111"  stroke-width="0">Rhox8</text><text x="139.0" y="359.4" font-size="4.70" text-anchor="start" fill="#111" stroke="#111"  stroke-width="0">Pecam1</text><text x="139.0" y="365.1" font-size="4.70" text-anchor="start" fill="#111" stroke="#111"  stroke-width="0">Flt1</text><text x="139.0" y="370.8" font-size="4.70" text-anchor="start" fill="#111" stroke="#111"  stroke-width="0">Star</text><text x="139.0" y="376.5" font-size="4.70" text-anchor="start" fill="#111" stroke="#111"  stroke-width="0">Cyp11a1</text><text x="139.0" y="382.3" font-size="4.70" text-anchor="start" fill="#111" stroke="#111"  stroke-width="0">Cd68</text><text x="139.0" y="388.0" font-size="4.70" text-anchor="start" fill="#111" stroke="#111"  stroke-width="0">Csf1r</text><text x="139.0" y="393.7" font-size="4.70" text-anchor="start" fill="#111" stroke="#111"  stroke-width="0">Pdgfra</text><text x="139.0" y="399.4" font-size="4.70" text-anchor="start" fill="#111" stroke="#111"  stroke-width="0">Dcn</text><text x="139.0" y="405.1" font-size="4.70" text-anchor="start" fill="#111" stroke="#111"  stroke-width="0">Cd34</text><text x="139.0" y="410.8" font-size="4.70" text-anchor="start" fill="#111" stroke="#111"  stroke-width="0">Tcf21</text><text x="139.0" y="416.6" font-size="4.70" text-anchor="start" fill="#111" stroke="#111"  stroke-width="0">Cd2</text><text x="139.0" y="422.3" font-size="4.70" text-anchor="start" fill="#111" stroke="#111"  stroke-width="0">Cd3e</text><text x="139.0" y="428.0" font-size="4.70" text-anchor="start" fill="#111" stroke="#111"  stroke-width="0">Acta2</text><text x="139.0" y="433.7" font-size="4.70" text-anchor="start" fill="#111" stroke="#111"  stroke-width="0">Myh11</text><text transform="translate(19.60 435.8) rotate(90)" font-size="4.9" letter-spacing=".18" fill="#111">cellType</text><text transform="translate(26.05 435.8) rotate(90)" font-size="4.9" letter-spacing=".18" fill="#111">Sertoli</text><text transform="translate(32.35 435.8) rotate(90)" font-size="4.9" letter-spacing=".18" fill="#111">eSpermatids-4</text><text transform="translate(38.65 435.8) rotate(90)" font-size="4.9" letter-spacing=".18" fill="#111">eSpermatids-1</text><text transform="translate(44.95 435.8) rotate(90)" font-size="4.9" letter-spacing=".18" fill="#111">eSpermatids-2</text><text transform="translate(51.25 435.8) rotate(90)" font-size="4.9" letter-spacing=".18" fill="#111">eSpermatids-3</text><text transform="translate(57.55 435.8) rotate(90)" font-size="4.9" letter-spacing=".18" fill="#111">rSpermatids-1</text><text transform="translate(63.85 435.8) rotate(90)" font-size="4.9" letter-spacing=".18" fill="#111">rSpermatids-2</text><text transform="translate(70.15 435.8) rotate(90)" font-size="4.9" letter-spacing=".18" fill="#111">Telocyte</text><text transform="translate(76.45 435.8) rotate(90)" font-size="4.9" letter-spacing=".18" fill="#111">Leydig</text><text transform="translate(82.75 435.8) rotate(90)" font-size="4.9" letter-spacing=".18" fill="#111">EC</text><text transform="translate(89.05 435.8) rotate(90)" font-size="4.9" letter-spacing=".18" fill="#111">myoid</text><text transform="translate(95.35 435.8) rotate(90)" font-size="4.9" letter-spacing=".18" fill="#111">Tcell</text><text transform="translate(101.65 435.8) rotate(90)" font-size="4.9" letter-spacing=".18" fill="#111">macrophage</text><text transform="translate(107.95 435.8) rotate(90)" font-size="4.9" letter-spacing=".18" fill="#111">undiffSPG</text><text transform="translate(114.25 435.8) rotate(90)" font-size="4.9" letter-spacing=".18" fill="#111">Spermatocyte-1</text><text transform="translate(120.55 435.8) rotate(90)" font-size="4.9" letter-spacing=".18" fill="#111">Spermatocyte-2</text><text transform="translate(126.85 435.8) rotate(90)" font-size="4.9" letter-spacing=".18" fill="#111">diffSPG-1</text><text transform="translate(133.15 435.8) rotate(90)" font-size="4.9" letter-spacing=".18" fill="#111">diffSPG-2</text><path d="M46.55 251.60V249.50H52.85V251.60M40.25 251.60V245.20H49.70V249.50M33.95 251.60V240.30H44.97V245.20M27.65 251.60V234.50H39.46V240.30M59.15 251.60V244.50H65.45V251.60M115.85 251.60V244.70H122.15V251.60M128.45 251.60V244.70H134.75V251.60M119.00 244.70V240.80H131.60V244.70M109.55 251.60V238.40H125.30V240.80M103.25 251.60V237.20H117.42V238.40M96.95 251.60V236.40H110.34V237.20M90.65 251.60V235.80H103.64V236.40M84.35 251.60V234.30H97.15V235.80M78.05 251.60V233.30H90.75V234.30M71.75 251.60V232.30H84.40V233.30M62.30 244.50V230.90H78.07V232.30M33.56 234.50V230.30H70.19V230.90" stroke="#222" stroke-width=".5" fill="none"/><text x="173.4" y="250.1" font-size="4.60" text-anchor="middle" fill="#111" stroke="#111"  stroke-width="0">Max Normalized</text><text x="173.4" y="255.8" font-size="4.60" text-anchor="middle" fill="#111" stroke="#111"  stroke-width="0">Expression</text><linearGradient id="hg" x1="0" y1="1" x2="0" y2="0"><stop offset="0.0" stop-color="#add8e6"/><stop offset="0.2" stop-color="#b4c8d6"/><stop offset="0.4" stop-color="#c2b4c0"/><stop offset="0.6" stop-color="#d098a2"/><stop offset="0.8" stop-color="#dc6c74"/><stop offset="1.0" stop-color="#e2343a"/></linearGradient><rect x="167.1" y="259.2" width="3.9" height="62.5" fill="url(#hg)"/><text x="172.8" y="261.1" font-size="4.60" text-anchor="start" fill="#111" stroke="#111"  stroke-width="0">1</text><text x="172.8" y="273.5" font-size="4.60" text-anchor="start" fill="#111" stroke="#111"  stroke-width="0">0.8</text><text x="172.8" y="286.1" font-size="4.60" text-anchor="start" fill="#111" stroke="#111"  stroke-width="0">0.6</text><text x="172.8" y="298.8" font-size="4.60" text-anchor="start" fill="#111" stroke="#111"  stroke-width="0">0.4</text><text x="172.8" y="311.1" font-size="4.60" text-anchor="start" fill="#111" stroke="#111"  stroke-width="0">0.2</text><text x="172.8" y="323.3" font-size="4.60" text-anchor="start" fill="#111" stroke="#111"  stroke-width="0">0</text><text x="163.2" y="342.9" font-size="4.70" text-anchor="start" fill="#111" stroke="#111"  stroke-width="0">cellType</text><rect x="163.2" y="344.25" width="6.3" height="6.04" fill="#f08a80"/><text x="170.6" y="348.9" font-size="4.70" text-anchor="start" fill="#111" stroke="#111"  stroke-width="0">undiffSPG</text><rect x="163.2" y="350.24" width="6.3" height="6.04" fill="#7fa8d8"/><text x="170.6" y="354.9" font-size="4.70" text-anchor="start" fill="#111" stroke="#111"  stroke-width="0">diffSPG</text><rect x="163.2" y="356.23" width="6.3" height="6.04" fill="#d8bc30"/><text x="170.6" y="360.9" font-size="4.70" text-anchor="start" fill="#111" stroke="#111"  stroke-width="0">Spermatocytes</text><rect x="163.2" y="362.22" width="6.3" height="6.04" fill="#d87ab8"/><text x="170.6" y="366.9" font-size="4.70" text-anchor="start" fill="#111" stroke="#111"  stroke-width="0">Round_spermatids</text><rect x="163.2" y="368.21" width="6.3" height="6.04" fill="#c094c8"/><text x="170.6" y="372.9" font-size="4.70" text-anchor="start" fill="#111" stroke="#111"  stroke-width="0">Elongating_spermatids</text><rect x="163.2" y="374.20" width="6.3" height="6.04" fill="#4cb48c"/><text x="170.6" y="378.8" font-size="4.70" text-anchor="start" fill="#111" stroke="#111"  stroke-width="0">Sertoli</text><rect x="163.2" y="380.19" width="6.3" height="6.04" fill="#44b8c0"/><text x="170.6" y="384.8" font-size="4.70" text-anchor="start" fill="#111" stroke="#111"  stroke-width="0">EC</text><rect x="163.2" y="386.18" width="6.3" height="6.04" fill="#3cb4e8"/><text x="170.6" y="390.8" font-size="4.70" text-anchor="start" fill="#111" stroke="#111"  stroke-width="0">Leydig</text><rect x="163.2" y="392.17" width="6.3" height="6.04" fill="#f0a034"/><text x="170.6" y="396.8" font-size="4.70" text-anchor="start" fill="#111" stroke="#111"  stroke-width="0">Macrophage</text><rect x="163.2" y="398.16" width="6.3" height="6.04" fill="#44a850"/><text x="170.6" y="402.8" font-size="4.70" text-anchor="start" fill="#111" stroke="#111"  stroke-width="0">Telocyte</text><rect x="163.2" y="404.15" width="6.3" height="6.04" fill="#90c440"/><text x="170.6" y="408.8" font-size="4.70" text-anchor="start" fill="#111" stroke="#111"  stroke-width="0">T-cell</text><rect x="163.2" y="410.14" width="6.3" height="6.04" fill="#e878a8"/><text x="170.6" y="414.8" font-size="4.70" text-anchor="start" fill="#111" stroke="#111"  stroke-width="0">Myoid</text><text x="218.1" y="234.8" font-size="9.50" text-anchor="start" fill="#000" stroke="#000" font-weight="bold">D</text><rect x="257.8" y="238.8" width="193.3" height="212.8" fill="#ebebe9"/><path d="M257.8 418.20H451.1M257.8 369.80H451.1M257.8 321.40H451.1M257.8 273.00H451.1" stroke="#f6f6f5" stroke-width=".4"/><path d="M257.8 442.40H451.1M257.8 394.00H451.1M257.8 345.60H451.1M257.8 297.20H451.1M257.8 248.80H451.1M276.51 238.8V451.6M307.68 238.8V451.6M338.86 238.8V451.6M370.04 238.8V451.6M401.22 238.8V451.6M432.39 238.8V451.6" stroke="#fff" stroke-width=".75"/><rect x="262.48" y="248.80" width="28.06" height="193.60" fill="#e46c68"/><path d="M276.51 451.60L276.51 454.00" stroke="#333" stroke-width="0.60"/><text x="276.5" y="461.3" font-size="7.40" text-anchor="middle" fill="#4d4d4d" stroke="#4d4d4d" >TO1</text><rect x="293.65" y="262.59" width="28.06" height="179.81" fill="#a89832"/><path d="M307.68 451.60L307.68 454.00" stroke="#333" stroke-width="0.60"/><text x="307.7" y="461.3" font-size="7.40" text-anchor="middle" fill="#4d4d4d" stroke="#4d4d4d" >TO2</text><rect x="324.83" y="271.72" width="28.06" height="170.68" fill="#2aa84a"/><path d="M338.86 451.60L338.86 454.00" stroke="#333" stroke-width="0.60"/><text x="338.9" y="461.3" font-size="7.40" text-anchor="middle" fill="#4d4d4d" stroke="#4d4d4d" >TO3</text><rect x="356.01" y="273.90" width="28.06" height="168.50" fill="#2eb0b2"/><path d="M370.04 451.60L370.04 454.00" stroke="#333" stroke-width="0.60"/><text x="370.0" y="461.3" font-size="7.40" text-anchor="middle" fill="#4d4d4d" stroke="#4d4d4d" >TY1</text><rect x="387.19" y="274.69" width="28.06" height="167.71" fill="#6a8abc"/><path d="M401.22 451.60L401.22 454.00" stroke="#333" stroke-width="0.60"/><text x="401.2" y="461.3" font-size="7.40" text-anchor="middle" fill="#4d4d4d" stroke="#4d4d4d" >TY2</text><rect x="418.36" y="275.49" width="28.06" height="166.91" fill="#bc689e"/><path d="M432.39 451.60L432.39 454.00" stroke="#333" stroke-width="0.60"/><text x="432.4" y="461.3" font-size="7.40" text-anchor="middle" fill="#4d4d4d" stroke="#4d4d4d" >TY3</text><path d="M255.20 442.40L257.80 442.40" stroke="#333" stroke-width="0.60"/><text x="254.3" y="445.0" font-size="7.40" text-anchor="end" fill="#4d4d4d" stroke="#4d4d4d" >0</text><path d="M255.20 394.00L257.80 394.00" stroke="#333" stroke-width="0.60"/><text x="254.3" y="396.6" font-size="7.40" text-anchor="end" fill="#4d4d4d" stroke="#4d4d4d" >2000</text><path d="M255.20 345.60L257.80 345.60" stroke="#333" stroke-width="0.60"/><text x="254.3" y="348.2" font-size="7.40" text-anchor="end" fill="#4d4d4d" stroke="#4d4d4d" >4000</text><path d="M255.20 297.20L257.80 297.20" stroke="#333" stroke-width="0.60"/><text x="254.3" y="299.8" font-size="7.40" text-anchor="end" fill="#4d4d4d" stroke="#4d4d4d" >6000</text><path d="M255.20 248.80L257.80 248.80" stroke="#333" stroke-width="0.60"/><text x="254.3" y="251.4" font-size="7.40" text-anchor="end" fill="#4d4d4d" stroke="#4d4d4d" >8000</text><text transform="translate(232.8 348.6) rotate(-90)" font-size="8" text-anchor="middle" stroke="#000">Number of cells</text><text x="0.9" y="477.8" font-size="9.50" text-anchor="start" fill="#000" stroke="#000" font-weight="bold">E</text><rect x="39.7" y="476.7" width="128.6" height="12.1" fill="#d9d9d7"/><rect x="39.7" y="488.8" width="128.6" height="64.2" fill="#ebebe9"/><path d="M39.7 541.44H168.3M39.7 524.11H168.3M39.7 506.79H168.3M39.7 489.46H168.3" stroke="#f6f6f5" stroke-width=".4"/><path d="M39.7 550.10H168.3M39.7 532.77H168.3M39.7 515.45H168.3M39.7 498.12H168.3M43.94 488.8V553.0M51.01 488.8V553.0M58.07 488.8V553.0M65.14 488.8V553.0M72.20 488.8V553.0M79.27 488.8V553.0M86.34 488.8V553.0M93.40 488.8V553.0M100.47 488.8V553.0M107.53 488.8V553.0M114.60 488.8V553.0M121.66 488.8V553.0M128.73 488.8V553.0M135.80 488.8V553.0M142.86 488.8V553.0M149.93 488.8V553.0M156.99 488.8V553.0M164.06 488.8V553.0" stroke="#fff" stroke-width=".7"/><text x="104.0" y="485.5" font-size="7.40" text-anchor="middle" fill="#1a1a1a" stroke="#1a1a1a" >TO1</text><rect x="40.76" y="502.98" width="6.36" height="47.12" fill="#e46c68"/><rect x="47.83" y="512.96" width="6.36" height="37.14" fill="#d87e30"/><rect x="54.89" y="527.44" width="6.36" height="22.66" fill="#c69032"/><rect x="61.96" y="532.53" width="6.36" height="17.57" fill="#a89832"/><rect x="69.02" y="521.13" width="6.36" height="28.97" fill="#88a038"/><rect x="76.09" y="522.03" width="6.36" height="28.07" fill="#5aa840"/><rect x="83.16" y="525.22" width="6.36" height="24.88" fill="#2aa84a"/><rect x="90.22" y="515.03" width="6.36" height="35.07" fill="#2aaa70"/><rect x="97.29" y="543.20" width="6.36" height="6.90" fill="#2ab090"/><rect x="104.35" y="541.68" width="6.36" height="8.42" fill="#2cb0b2"/><rect x="111.42" y="549.03" width="6.36" height="1.07" fill="#30b0d8"/><rect x="118.49" y="545.94" width="6.36" height="4.16" fill="#4098d0"/><rect x="125.55" y="547.02" width="6.36" height="3.08" fill="#6888c0"/><rect x="132.62" y="545.94" width="6.36" height="4.16" fill="#8878b2"/><rect x="139.68" y="547.78" width="6.36" height="2.32" fill="#a86aaa"/><rect x="146.75" y="548.54" width="6.36" height="1.56" fill="#c060a0"/><rect x="153.81" y="549.34" width="6.36" height="0.76" fill="#dc78ac"/><rect x="160.88" y="549.93" width="6.36" height="0.17" fill="#e87ca4"/><path d="M37.10 550.10L39.70 550.10" stroke="#333" stroke-width="0.60"/><text x="33.6" y="552.8" font-size="7.50" text-anchor="end" fill="#4d4d4d" stroke="#4d4d4d" >0</text><path d="M37.10 532.77L39.70 532.77" stroke="#333" stroke-width="0.60"/><text x="33.6" y="535.4" font-size="7.50" text-anchor="end" fill="#4d4d4d" stroke="#4d4d4d" >500</text><path d="M37.10 515.45L39.70 515.45" stroke="#333" stroke-width="0.60"/><text x="35.5" y="518.1" font-size="7.50" text-anchor="end" fill="#4d4d4d" stroke="#4d4d4d" >1000</text><path d="M37.10 498.12L39.70 498.12" stroke="#333" stroke-width="0.60"/><text x="35.5" y="500.8" font-size="7.50" text-anchor="end" fill="#4d4d4d" stroke="#4d4d4d" >1500</text><rect x="172.5" y="476.7" width="128.6" height="12.1" fill="#d9d9d7"/><rect x="172.5" y="488.8" width="128.6" height="64.2" fill="#ebebe9"/><path d="M172.5 541.44H301.1M172.5 524.11H301.1M172.5 506.79H301.1M172.5 489.46H301.1" stroke="#f6f6f5" stroke-width=".4"/><path d="M172.5 550.10H301.1M172.5 532.77H301.1M172.5 515.45H301.1M172.5 498.12H301.1M176.74 488.8V553.0M183.81 488.8V553.0M190.87 488.8V553.0M197.94 488.8V553.0M205.00 488.8V553.0M212.07 488.8V553.0M219.14 488.8V553.0M226.20 488.8V553.0M233.27 488.8V553.0M240.33 488.8V553.0M247.40 488.8V553.0M254.46 488.8V553.0M261.53 488.8V553.0M268.60 488.8V553.0M275.66 488.8V553.0M282.73 488.8V553.0M289.79 488.8V553.0M296.86 488.8V553.0" stroke="#fff" stroke-width=".7"/><text x="236.8" y="485.5" font-size="7.40" text-anchor="middle" fill="#1a1a1a" stroke="#1a1a1a" >TO2</text><rect x="173.56" y="508.97" width="6.36" height="41.13" fill="#e46c68"/><rect x="180.63" y="516.00" width="6.36" height="34.10" fill="#d87e30"/><rect x="187.69" y="534.33" width="6.36" height="15.77" fill="#c69032"/><rect x="194.76" y="532.22" width="6.36" height="17.88" fill="#a89832"/><rect x="201.82" y="521.51" width="6.36" height="28.59" fill="#88a038"/><rect x="208.89" y="522.73" width="6.36" height="27.37" fill="#5aa840"/><rect x="215.96" y="527.33" width="6.36" height="22.77" fill="#2aa84a"/><rect x="223.02" y="522.73" width="6.36" height="27.37" fill="#2aaa70"/><rect x="230.09" y="545.08" width="6.36" height="5.02" fill="#2ab090"/><rect x="237.15" y="538.32" width="6.36" height="11.78" fill="#2cb0b2"/><rect x="244.22" y="549.41" width="6.36" height="0.69" fill="#30b0d8"/><rect x="251.29" y="546.63" width="6.36" height="3.46" fill="#4098d0"/><rect x="258.35" y="548.44" width="6.36" height="1.66" fill="#6888c0"/><rect x="265.42" y="547.22" width="6.36" height="2.88" fill="#8878b2"/><rect x="272.48" y="545.66" width="6.36" height="4.44" fill="#a86aaa"/><rect x="279.55" y="548.71" width="6.36" height="1.39" fill="#c060a0"/><rect x="286.61" y="549.34" width="6.36" height="0.76" fill="#dc78ac"/><rect x="293.68" y="549.93" width="6.36" height="0.17" fill="#e87ca4"/><rect x="305.3" y="476.7" width="128.6" height="12.1" fill="#d9d9d7"/><rect x="305.3" y="488.8" width="128.6" height="64.2" fill="#ebebe9"/><path d="M305.3 541.44H433.9M305.3 524.11H433.9M305.3 506.79H433.9M305.3 489.46H433.9" stroke="#f6f6f5" stroke-width=".4"/><path d="M305.3 550.10H433.9M305.3 532.77H433.9M305.3 515.45H433.9M305.3 498.12H433.9M309.54 488.8V553.0M316.61 488.8V553.0M323.67 488.8V553.0M330.74 488.8V553.0M337.80 488.8V553.0M344.87 488.8V553.0M351.94 488.8V553.0M359.00 488.8V553.0M366.07 488.8V553.0M373.13 488.8V553.0M380.20 488.8V553.0M387.26 488.8V553.0M394.33 488.8V553.0M401.40 488.8V553.0M408.46 488.8V553.0M415.53 488.8V553.0M422.59 488.8V553.0M429.66 488.8V553.0" stroke="#fff" stroke-width=".7"/><text x="369.6" y="485.5" font-size="7.40" text-anchor="middle" fill="#1a1a1a" stroke="#1a1a1a" >TO3</text><rect x="306.36" y="497.99" width="6.36" height="52.11" fill="#e46c68"/><rect x="313.43" y="501.90" width="6.36" height="48.20" fill="#d87e30"/><rect x="320.49" y="531.74" width="6.36" height="18.36" fill="#c69032"/><rect x="327.56" y="528.13" width="6.36" height="21.97" fill="#a89832"/><rect x="334.62" y="530.11" width="6.36" height="19.99" fill="#88a038"/><rect x="341.69" y="535.03" width="6.36" height="15.07" fill="#5aa840"/><rect x="348.76" y="531.39" width="6.36" height="18.71" fill="#2aa84a"/><rect x="355.82" y="536.66" width="6.36" height="13.44" fill="#2aaa70"/><rect x="362.89" y="545.49" width="6.36" height="4.61" fill="#2ab090"/><rect x="369.95" y="538.94" width="6.36" height="11.16" fill="#2cb0b2"/><rect x="377.02" y="548.78" width="6.36" height="1.32" fill="#30b0d8"/><rect x="384.09" y="546.15" width="6.36" height="3.95" fill="#4098d0"/><rect x="391.15" y="548.12" width="6.36" height="1.98" fill="#6888c0"/><rect x="398.22" y="546.50" width="6.36" height="3.60" fill="#8878b2"/><rect x="405.28" y="547.47" width="6.36" height="2.63" fill="#a86aaa"/><rect x="412.35" y="548.12" width="6.36" height="1.98" fill="#c060a0"/><rect x="419.41" y="548.37" width="6.36" height="1.73" fill="#dc78ac"/><rect x="426.48" y="549.82" width="6.36" height="0.28" fill="#e87ca4"/><rect x="39.7" y="557.6" width="128.6" height="12.1" fill="#d9d9d7"/><rect x="39.7" y="569.7" width="128.6" height="64.3" fill="#ebebe9"/><path d="M39.7 622.44H168.3M39.7 605.11H168.3M39.7 587.79H168.3M39.7 570.46H168.3" stroke="#f6f6f5" stroke-width=".4"/><path d="M39.7 631.10H168.3M39.7 613.77H168.3M39.7 596.45H168.3M39.7 579.12H168.3M43.94 569.7V634.0M51.01 569.7V634.0M58.07 569.7V634.0M65.14 569.7V634.0M72.20 569.7V634.0M79.27 569.7V634.0M86.34 569.7V634.0M93.40 569.7V634.0M100.47 569.7V634.0M107.53 569.7V634.0M114.60 569.7V634.0M121.66 569.7V634.0M128.73 569.7V634.0M135.80 569.7V634.0M142.86 569.7V634.0M149.93 569.7V634.0M156.99 569.7V634.0M164.06 569.7V634.0" stroke="#fff" stroke-width=".7"/><text x="104.0" y="566.4" font-size="7.40" text-anchor="middle" fill="#1a1a1a" stroke="#1a1a1a" >TY1</text><rect x="40.76" y="584.11" width="6.36" height="46.99" fill="#e46c68"/><path d="M43.94 634.00L43.94 636.40" stroke="#333" stroke-width="0.60"/><text transform="translate(47.14 641.30) rotate(-60)" font-size="6.6" text-anchor="end" fill="#4d4d4d" stroke="#4d4d4d">eSpermatids_4</text><rect x="47.83" y="599.67" width="6.36" height="31.43" fill="#d87e30"/><path d="M51.01 634.00L51.01 636.40" stroke="#333" stroke-width="0.60"/><text transform="translate(54.21 641.30) rotate(-60)" font-size="6.6" text-anchor="end" fill="#4d4d4d" stroke="#4d4d4d">eSpermatids_3</text><rect x="54.89" y="599.29" width="6.36" height="31.81" fill="#c69032"/><path d="M58.07 634.00L58.07 636.40" stroke="#333" stroke-width="0.60"/><text transform="translate(61.27 641.30) rotate(-60)" font-size="6.6" text-anchor="end" fill="#4d4d4d" stroke="#4d4d4d">diffSPG_1</text><rect x="61.96" y="611.14" width="6.36" height="19.96" fill="#a89832"/><path d="M65.14 634.00L65.14 636.40" stroke="#333" stroke-width="0.60"/><text transform="translate(68.34 641.30) rotate(-60)" font-size="6.6" text-anchor="end" fill="#4d4d4d" stroke="#4d4d4d">eSpermatids_2</text><rect x="69.02" y="617.10" width="6.36" height="14.00" fill="#88a038"/><path d="M72.20 634.00L72.20 636.40" stroke="#333" stroke-width="0.60"/><text transform="translate(75.40 641.30) rotate(-60)" font-size="6.6" text-anchor="end" fill="#4d4d4d" stroke="#4d4d4d">rSpermatids_2</text><rect x="76.09" y="615.78" width="6.36" height="15.32" fill="#5aa840"/><path d="M79.27 634.00L79.27 636.40" stroke="#333" stroke-width="0.60"/><text transform="translate(82.47 641.30) rotate(-60)" font-size="6.6" text-anchor="end" fill="#4d4d4d" stroke="#4d4d4d">rSpermatids_1</text><rect x="83.16" y="615.78" width="6.36" height="15.32" fill="#2aa84a"/><path d="M86.34 634.00L86.34 636.40" stroke="#333" stroke-width="0.60"/><text transform="translate(89.54 641.30) rotate(-60)" font-size="6.6" text-anchor="end" fill="#4d4d4d" stroke="#4d4d4d">Spermatocyte_1</text><rect x="90.22" y="620.71" width="6.36" height="10.39" fill="#2aaa70"/><path d="M93.40 634.00L93.40 636.40" stroke="#333" stroke-width="0.60"/><text transform="translate(96.60 641.30) rotate(-60)" font-size="6.6" text-anchor="end" fill="#4d4d4d" stroke="#4d4d4d">Spermatocyte_2</text><rect x="97.29" y="618.07" width="6.36" height="13.03" fill="#2ab090"/><path d="M100.47 634.00L100.47 636.40" stroke="#333" stroke-width="0.60"/><text transform="translate(103.67 641.30) rotate(-60)" font-size="6.6" text-anchor="end" fill="#4d4d4d" stroke="#4d4d4d">diffSPG_2</text><rect x="104.35" y="626.01" width="6.36" height="5.09" fill="#2cb0b2"/><path d="M107.53 634.00L107.53 636.40" stroke="#333" stroke-width="0.60"/><text transform="translate(110.73 641.30) rotate(-60)" font-size="6.6" text-anchor="end" fill="#4d4d4d" stroke="#4d4d4d">eSpermatids_1</text><rect x="111.42" y="621.05" width="6.36" height="10.05" fill="#30b0d8"/><path d="M114.60 634.00L114.60 636.40" stroke="#333" stroke-width="0.60"/><text transform="translate(117.80 641.30) rotate(-60)" font-size="6.6" text-anchor="end" fill="#4d4d4d" stroke="#4d4d4d">Telocyte</text><rect x="118.49" y="624.69" width="6.36" height="6.41" fill="#4098d0"/><path d="M121.66 634.00L121.66 636.40" stroke="#333" stroke-width="0.60"/><text transform="translate(124.86 641.30) rotate(-60)" font-size="6.6" text-anchor="end" fill="#4d4d4d" stroke="#4d4d4d">undiffSPG</text><rect x="125.55" y="624.34" width="6.36" height="6.76" fill="#6888c0"/><path d="M128.73 634.00L128.73 636.40" stroke="#333" stroke-width="0.60"/><text transform="translate(131.93 641.30) rotate(-60)" font-size="6.6" text-anchor="end" fill="#4d4d4d" stroke="#4d4d4d">Leydig</text><rect x="132.62" y="626.66" width="6.36" height="4.44" fill="#8878b2"/><path d="M135.80 634.00L135.80 636.40" stroke="#333" stroke-width="0.60"/><text transform="translate(139.00 641.30) rotate(-60)" font-size="6.6" text-anchor="end" fill="#4d4d4d" stroke="#4d4d4d">Sertoli</text><rect x="139.68" y="627.63" width="6.36" height="3.46" fill="#a86aaa"/><path d="M142.86 634.00L142.86 636.40" stroke="#333" stroke-width="0.60"/><text transform="translate(146.06 641.30) rotate(-60)" font-size="6.6" text-anchor="end" fill="#4d4d4d" stroke="#4d4d4d">macrophage</text><rect x="146.75" y="628.95" width="6.36" height="2.15" fill="#c060a0"/><path d="M149.93 634.00L149.93 636.40" stroke="#333" stroke-width="0.60"/><text transform="translate(153.13 641.30) rotate(-60)" font-size="6.6" text-anchor="end" fill="#4d4d4d" stroke="#4d4d4d">EC</text><rect x="153.81" y="629.96" width="6.36" height="1.14" fill="#dc78ac"/><path d="M156.99 634.00L156.99 636.40" stroke="#333" stroke-width="0.60"/><text transform="translate(160.19 641.30) rotate(-60)" font-size="6.6" text-anchor="end" fill="#4d4d4d" stroke="#4d4d4d">Tcell</text><rect x="160.88" y="630.30" width="6.36" height="0.80" fill="#e87ca4"/><path d="M164.06 634.00L164.06 636.40" stroke="#333" stroke-width="0.60"/><text transform="translate(167.26 641.30) rotate(-60)" font-size="6.6" text-anchor="end" fill="#4d4d4d" stroke="#4d4d4d">myoid</text><path d="M37.10 631.10L39.70 631.10" stroke="#333" stroke-width="0.60"/><text x="33.6" y="633.8" font-size="7.50" text-anchor="end" fill="#4d4d4d" stroke="#4d4d4d" >0</text><path d="M37.10 613.77L39.70 613.77" stroke="#333" stroke-width="0.60"/><text x="33.6" y="616.4" font-size="7.50" text-anchor="end" fill="#4d4d4d" stroke="#4d4d4d" >500</text><path d="M37.10 596.45L39.70 596.45" stroke="#333" stroke-width="0.60"/><text x="35.5" y="599.1" font-size="7.50" text-anchor="end" fill="#4d4d4d" stroke="#4d4d4d" >1000</text><path d="M37.10 579.12L39.70 579.12" stroke="#333" stroke-width="0.60"/><text x="35.5" y="581.8" font-size="7.50" text-anchor="end" fill="#4d4d4d" stroke="#4d4d4d" >1500</text><rect x="172.5" y="557.6" width="128.6" height="12.1" fill="#d9d9d7"/><rect x="172.5" y="569.7" width="128.6" height="64.3" fill="#ebebe9"/><path d="M172.5 622.44H301.1M172.5 605.11H301.1M172.5 587.79H301.1M172.5 570.46H301.1" stroke="#f6f6f5" stroke-width=".4"/><path d="M172.5 631.10H301.1M172.5 613.77H301.1M172.5 596.45H301.1M172.5 579.12H301.1M176.74 569.7V634.0M183.81 569.7V634.0M190.87 569.7V634.0M197.94 569.7V634.0M205.00 569.7V634.0M212.07 569.7V634.0M219.14 569.7V634.0M226.20 569.7V634.0M233.27 569.7V634.0M240.33 569.7V634.0M247.40 569.7V634.0M254.46 569.7V634.0M261.53 569.7V634.0M268.60 569.7V634.0M275.66 569.7V634.0M282.73 569.7V634.0M289.79 569.7V634.0M296.86 569.7V634.0" stroke="#fff" stroke-width=".7"/><text x="236.8" y="566.4" font-size="7.40" text-anchor="middle" fill="#1a1a1a" stroke="#1a1a1a" >TY2</text><rect x="173.56" y="578.15" width="6.36" height="52.95" fill="#e46c68"/><path d="M176.74 634.00L176.74 636.40" stroke="#333" stroke-width="0.60"/><text transform="translate(179.94 641.30) rotate(-60)" font-size="6.6" text-anchor="end" fill="#4d4d4d" stroke="#4d4d4d">eSpermatids_4</text><rect x="180.63" y="599.08" width="6.36" height="32.02" fill="#d87e30"/><path d="M183.81 634.00L183.81 636.40" stroke="#333" stroke-width="0.60"/><text transform="translate(187.01 641.30) rotate(-60)" font-size="6.6" text-anchor="end" fill="#4d4d4d" stroke="#4d4d4d">eSpermatids_3</text><rect x="187.69" y="598.15" width="6.36" height="32.95" fill="#c69032"/><path d="M190.87 634.00L190.87 636.40" stroke="#333" stroke-width="0.60"/><text transform="translate(194.07 641.30) rotate(-60)" font-size="6.6" text-anchor="end" fill="#4d4d4d" stroke="#4d4d4d">diffSPG_1</text><rect x="194.76" y="614.47" width="6.36" height="16.63" fill="#a89832"/><path d="M197.94 634.00L197.94 636.40" stroke="#333" stroke-width="0.60"/><text transform="translate(201.14 641.30) rotate(-60)" font-size="6.6" text-anchor="end" fill="#4d4d4d" stroke="#4d4d4d">eSpermatids_2</text><rect x="201.82" y="621.22" width="6.36" height="9.88" fill="#88a038"/><path d="M205.00 634.00L205.00 636.40" stroke="#333" stroke-width="0.60"/><text transform="translate(208.20 641.30) rotate(-60)" font-size="6.6" text-anchor="end" fill="#4d4d4d" stroke="#4d4d4d">rSpermatids_2</text><rect x="208.89" y="620.95" width="6.36" height="10.15" fill="#5aa840"/><path d="M212.07 634.00L212.07 636.40" stroke="#333" stroke-width="0.60"/><text transform="translate(215.27 641.30) rotate(-60)" font-size="6.6" text-anchor="end" fill="#4d4d4d" stroke="#4d4d4d">rSpermatids_1</text><rect x="215.96" y="621.22" width="6.36" height="9.88" fill="#2aa84a"/><path d="M219.14 634.00L219.14 636.40" stroke="#333" stroke-width="0.60"/><text transform="translate(222.34 641.30) rotate(-60)" font-size="6.6" text-anchor="end" fill="#4d4d4d" stroke="#4d4d4d">Spermatocyte_1</text><rect x="223.02" y="625.24" width="6.36" height="5.86" fill="#2aaa70"/><path d="M226.20 634.00L226.20 636.40" stroke="#333" stroke-width="0.60"/><text transform="translate(229.40 641.30) rotate(-60)" font-size="6.6" text-anchor="end" fill="#4d4d4d" stroke="#4d4d4d">Spermatocyte_2</text><rect x="230.09" y="617.55" width="6.36" height="13.55" fill="#2ab090"/><path d="M233.27 634.00L233.27 636.40" stroke="#333" stroke-width="0.60"/><text transform="translate(236.47 641.30) rotate(-60)" font-size="6.6" text-anchor="end" fill="#4d4d4d" stroke="#4d4d4d">diffSPG_2</text><rect x="237.15" y="624.31" width="6.36" height="6.79" fill="#2cb0b2"/><path d="M240.33 634.00L240.33 636.40" stroke="#333" stroke-width="0.60"/><text transform="translate(243.53 641.30) rotate(-60)" font-size="6.6" text-anchor="end" fill="#4d4d4d" stroke="#4d4d4d">eSpermatids_1</text><rect x="244.22" y="619.08" width="6.36" height="12.02" fill="#30b0d8"/><path d="M247.40 634.00L247.40 636.40" stroke="#333" stroke-width="0.60"/><text transform="translate(250.60 641.30) rotate(-60)" font-size="6.6" text-anchor="end" fill="#4d4d4d" stroke="#4d4d4d">Telocyte</text><rect x="251.29" y="623.41" width="6.36" height="7.69" fill="#4098d0"/><path d="M254.46 634.00L254.46 636.40" stroke="#333" stroke-width="0.60"/><text transform="translate(257.66 641.30) rotate(-60)" font-size="6.6" text-anchor="end" fill="#4d4d4d" stroke="#4d4d4d">undiffSPG</text><rect x="258.35" y="624.93" width="6.36" height="6.17" fill="#6888c0"/><path d="M261.53 634.00L261.53 636.40" stroke="#333" stroke-width="0.60"/><text transform="translate(264.73 641.30) rotate(-60)" font-size="6.6" text-anchor="end" fill="#4d4d4d" stroke="#4d4d4d">Leydig</text><rect x="265.42" y="627.08" width="6.36" height="4.02" fill="#8878b2"/><path d="M268.60 634.00L268.60 636.40" stroke="#333" stroke-width="0.60"/><text transform="translate(271.80 641.30) rotate(-60)" font-size="6.6" text-anchor="end" fill="#4d4d4d" stroke="#4d4d4d">Sertoli</text><rect x="272.48" y="625.56" width="6.36" height="5.54" fill="#a86aaa"/><path d="M275.66 634.00L275.66 636.40" stroke="#333" stroke-width="0.60"/><text transform="translate(278.86 641.30) rotate(-60)" font-size="6.6" text-anchor="end" fill="#4d4d4d" stroke="#4d4d4d">macrophage</text><rect x="279.55" y="627.70" width="6.36" height="3.40" fill="#c060a0"/><path d="M282.73 634.00L282.73 636.40" stroke="#333" stroke-width="0.60"/><text transform="translate(285.93 641.30) rotate(-60)" font-size="6.6" text-anchor="end" fill="#4d4d4d" stroke="#4d4d4d">EC</text><rect x="286.61" y="630.16" width="6.36" height="0.94" fill="#dc78ac"/><path d="M289.79 634.00L289.79 636.40" stroke="#333" stroke-width="0.60"/><text transform="translate(292.99 641.30) rotate(-60)" font-size="6.6" text-anchor="end" fill="#4d4d4d" stroke="#4d4d4d">Tcell</text><rect x="293.68" y="630.79" width="6.36" height="0.31" fill="#e87ca4"/><path d="M296.86 634.00L296.86 636.40" stroke="#333" stroke-width="0.60"/><text transform="translate(300.06 641.30) rotate(-60)" font-size="6.6" text-anchor="end" fill="#4d4d4d" stroke="#4d4d4d">myoid</text><rect x="305.3" y="557.6" width="128.6" height="12.1" fill="#d9d9d7"/><rect x="305.3" y="569.7" width="128.6" height="64.3" fill="#ebebe9"/><path d="M305.3 622.44H433.9M305.3 605.11H433.9M305.3 587.79H433.9M305.3 570.46H433.9" stroke="#f6f6f5" stroke-width=".4"/><path d="M305.3 631.10H433.9M305.3 613.77H433.9M305.3 596.45H433.9M305.3 579.12H433.9M309.54 569.7V634.0M316.61 569.7V634.0M323.67 569.7V634.0M330.74 569.7V634.0M337.80 569.7V634.0M344.87 569.7V634.0M351.94 569.7V634.0M359.00 569.7V634.0M366.07 569.7V634.0M373.13 569.7V634.0M380.20 569.7V634.0M387.26 569.7V634.0M394.33 569.7V634.0M401.40 569.7V634.0M408.46 569.7V634.0M415.53 569.7V634.0M422.59 569.7V634.0M429.66 569.7V634.0" stroke="#fff" stroke-width=".7"/><text x="369.6" y="566.4" font-size="7.40" text-anchor="middle" fill="#1a1a1a" stroke="#1a1a1a" >TY3</text><rect x="306.36" y="572.96" width="6.36" height="58.14" fill="#e46c68"/><path d="M309.54 634.00L309.54 636.40" stroke="#333" stroke-width="0.60"/><text transform="translate(312.74 641.30) rotate(-60)" font-size="6.6" text-anchor="end" fill="#4d4d4d" stroke="#4d4d4d">eSpermatids_4</text><rect x="313.43" y="591.39" width="6.36" height="39.71" fill="#d87e30"/><path d="M316.61 634.00L316.61 636.40" stroke="#333" stroke-width="0.60"/><text transform="translate(319.81 641.30) rotate(-60)" font-size="6.6" text-anchor="end" fill="#4d4d4d" stroke="#4d4d4d">eSpermatids_3</text><rect x="320.49" y="603.24" width="6.36" height="27.86" fill="#c69032"/><path d="M323.67 634.00L323.67 636.40" stroke="#333" stroke-width="0.60"/><text transform="translate(326.87 641.30) rotate(-60)" font-size="6.6" text-anchor="end" fill="#4d4d4d" stroke="#4d4d4d">diffSPG_1</text><rect x="327.56" y="610.17" width="6.36" height="20.93" fill="#a89832"/><path d="M330.74 634.00L330.74 636.40" stroke="#333" stroke-width="0.60"/><text transform="translate(333.94 641.30) rotate(-60)" font-size="6.6" text-anchor="end" fill="#4d4d4d" stroke="#4d4d4d">eSpermatids_2</text><rect x="334.62" y="620.05" width="6.36" height="11.05" fill="#88a038"/><path d="M337.80 634.00L337.80 636.40" stroke="#333" stroke-width="0.60"/><text transform="translate(341.00 641.30) rotate(-60)" font-size="6.6" text-anchor="end" fill="#4d4d4d" stroke="#4d4d4d">rSpermatids_2</text><rect x="341.69" y="620.05" width="6.36" height="11.05" fill="#5aa840"/><path d="M344.87 634.00L344.87 636.40" stroke="#333" stroke-width="0.60"/><text transform="translate(348.07 641.30) rotate(-60)" font-size="6.6" text-anchor="end" fill="#4d4d4d" stroke="#4d4d4d">rSpermatids_1</text><rect x="348.76" y="622.02" width="6.36" height="9.08" fill="#2aa84a"/><path d="M351.94 634.00L351.94 636.40" stroke="#333" stroke-width="0.60"/><text transform="translate(355.14 641.30) rotate(-60)" font-size="6.6" text-anchor="end" fill="#4d4d4d" stroke="#4d4d4d">Spermatocyte_1</text><rect x="355.82" y="623.03" width="6.36" height="8.07" fill="#2aaa70"/><path d="M359.00 634.00L359.00 636.40" stroke="#333" stroke-width="0.60"/><text transform="translate(362.20 641.30) rotate(-60)" font-size="6.6" text-anchor="end" fill="#4d4d4d" stroke="#4d4d4d">Spermatocyte_2</text><rect x="362.89" y="621.05" width="6.36" height="10.05" fill="#2ab090"/><path d="M366.07 634.00L366.07 636.40" stroke="#333" stroke-width="0.60"/><text transform="translate(369.27 641.30) rotate(-60)" font-size="6.6" text-anchor="end" fill="#4d4d4d" stroke="#4d4d4d">diffSPG_2</text><rect x="369.95" y="624.00" width="6.36" height="7.10" fill="#2cb0b2"/><path d="M373.13 634.00L373.13 636.40" stroke="#333" stroke-width="0.60"/><text transform="translate(376.33 641.30) rotate(-60)" font-size="6.6" text-anchor="end" fill="#4d4d4d" stroke="#4d4d4d">eSpermatids_1</text><rect x="377.02" y="623.03" width="6.36" height="8.07" fill="#30b0d8"/><path d="M380.20 634.00L380.20 636.40" stroke="#333" stroke-width="0.60"/><text transform="translate(383.40 641.30) rotate(-60)" font-size="6.6" text-anchor="end" fill="#4d4d4d" stroke="#4d4d4d">Telocyte</text><rect x="384.09" y="625.00" width="6.36" height="6.10" fill="#4098d0"/><path d="M387.26 634.00L387.26 636.40" stroke="#333" stroke-width="0.60"/><text transform="translate(390.46 641.30) rotate(-60)" font-size="6.6" text-anchor="end" fill="#4d4d4d" stroke="#4d4d4d">undiffSPG</text><rect x="391.15" y="625.97" width="6.36" height="5.13" fill="#6888c0"/><path d="M394.33 634.00L394.33 636.40" stroke="#333" stroke-width="0.60"/><text transform="translate(397.53 641.30) rotate(-60)" font-size="6.6" text-anchor="end" fill="#4d4d4d" stroke="#4d4d4d">Leydig</text><rect x="398.22" y="626.66" width="6.36" height="4.44" fill="#8878b2"/><path d="M401.40 634.00L401.40 636.40" stroke="#333" stroke-width="0.60"/><text transform="translate(404.60 641.30) rotate(-60)" font-size="6.6" text-anchor="end" fill="#4d4d4d" stroke="#4d4d4d">Sertoli</text><rect x="405.28" y="626.32" width="6.36" height="4.78" fill="#a86aaa"/><path d="M408.46 634.00L408.46 636.40" stroke="#333" stroke-width="0.60"/><text transform="translate(411.66 641.30) rotate(-60)" font-size="6.6" text-anchor="end" fill="#4d4d4d" stroke="#4d4d4d">macrophage</text><rect x="412.35" y="627.98" width="6.36" height="3.12" fill="#c060a0"/><path d="M415.53 634.00L415.53 636.40" stroke="#333" stroke-width="0.60"/><text transform="translate(418.73 641.30) rotate(-60)" font-size="6.6" text-anchor="end" fill="#4d4d4d" stroke="#4d4d4d">EC</text><rect x="419.41" y="629.96" width="6.36" height="1.14" fill="#dc78ac"/><path d="M422.59 634.00L422.59 636.40" stroke="#333" stroke-width="0.60"/><text transform="translate(425.79 641.30) rotate(-60)" font-size="6.6" text-anchor="end" fill="#4d4d4d" stroke="#4d4d4d">Tcell</text><rect x="426.48" y="630.44" width="6.36" height="0.66" fill="#e87ca4"/><path d="M429.66 634.00L429.66 636.40" stroke="#333" stroke-width="0.60"/><text transform="translate(432.86 641.30) rotate(-60)" font-size="6.6" text-anchor="end" fill="#4d4d4d" stroke="#4d4d4d">myoid</text><text transform="translate(17.4 562.3) rotate(-90)" font-size="8" text-anchor="middle" stroke="#000">Number of cells</text></g></svg></body></html>
